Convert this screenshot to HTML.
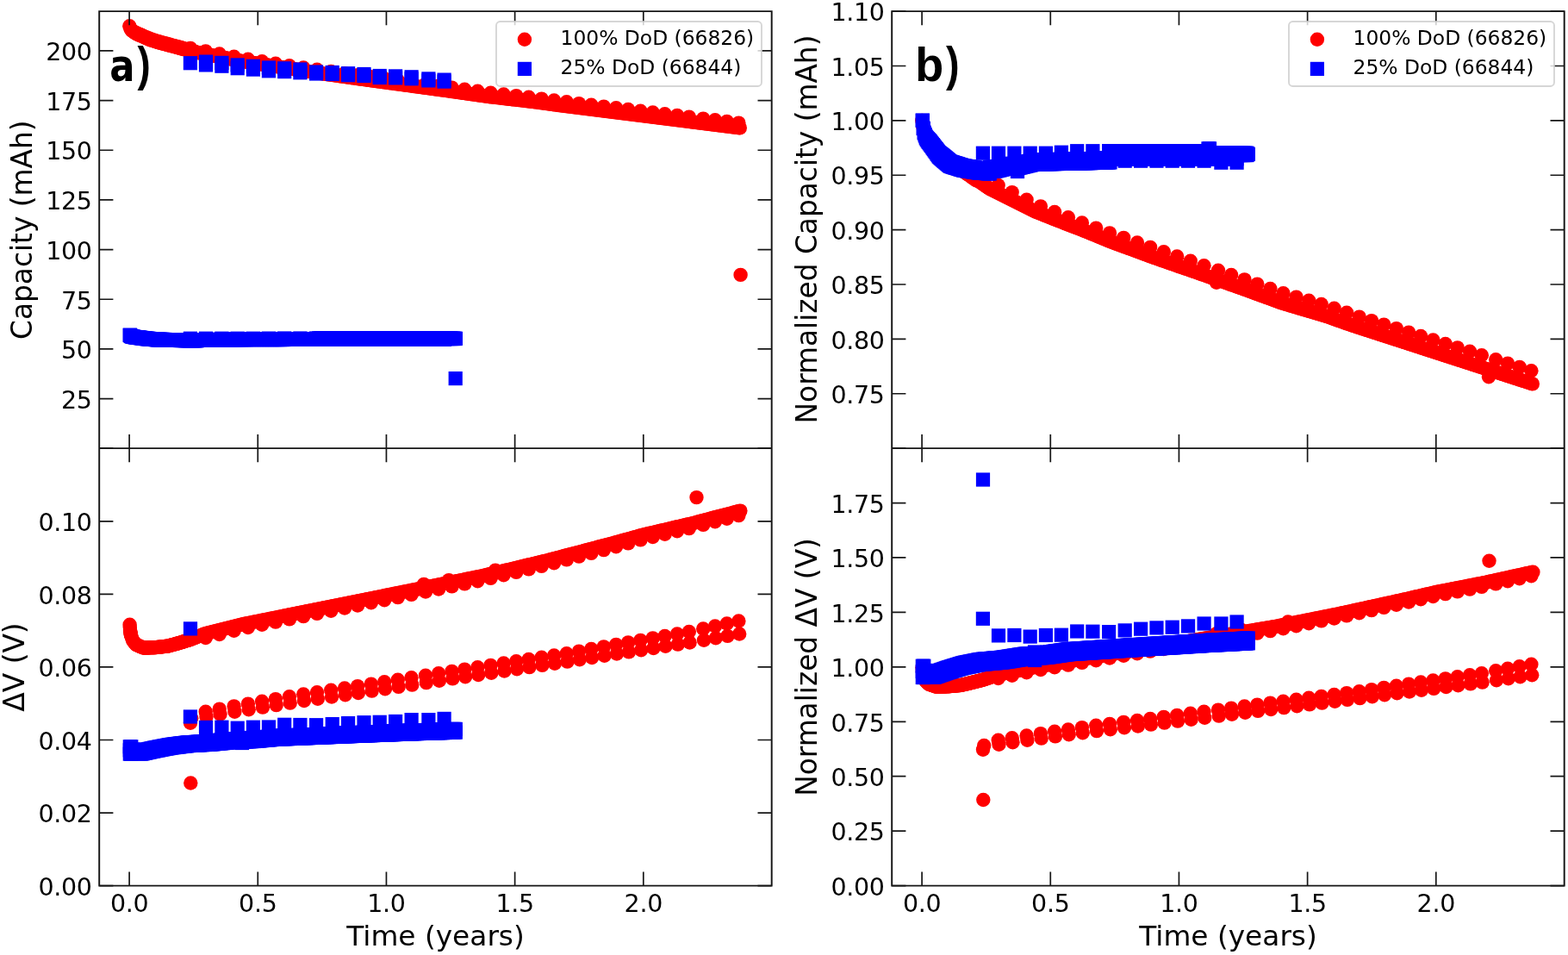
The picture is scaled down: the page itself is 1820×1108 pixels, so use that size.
<!DOCTYPE html>
<html lang="en"><head><meta charset="utf-8"><title>Capacity and voltage hysteresis vs time</title>
<style>
html,body{margin:0;padding:0;background:#fff;}
body{width:1820px;height:1108px;overflow:hidden;}
svg{display:block;filter:blur(0.5px);}
</style></head><body>
<svg width="1820" height="1108" viewBox="0 0 1820 1108" role="img" aria-label="Capacity and voltage hysteresis versus time for 100% and 25% depth-of-discharge cells">
<rect width="1820" height="1108" fill="#fff"/>
<defs>
<clipPath id="ct0"><rect x="115.2" y="13.1" width="780.5" height="507.0"/></clipPath>
<clipPath id="cb0"><rect x="115.2" y="520.1" width="780.5" height="507.4999999999999"/></clipPath>
<clipPath id="ct1"><rect x="1035.2" y="13.1" width="780.5" height="507.0"/></clipPath>
<clipPath id="cb1"><rect x="1035.2" y="520.1" width="780.5" height="507.4999999999999"/></clipPath>
</defs>
<g clip-path="url(#ct0)">
<g fill="#ff0000"><circle cx="150.3" cy="30.3" r="8.20"/><circle cx="151.3" cy="32.9" r="8.20"/><circle cx="152.3" cy="34.6" r="8.20"/><circle cx="153.3" cy="35.7" r="8.20"/><circle cx="154.3" cy="36.5" r="8.20"/><circle cx="155.3" cy="37.2" r="8.20"/><circle cx="156.3" cy="37.2" r="8.20"/><circle cx="157.3" cy="38.8" r="8.20"/><circle cx="158.3" cy="38.2" r="8.20"/><circle cx="159.3" cy="39.7" r="8.20"/><circle cx="160.3" cy="39.1" r="8.20"/><circle cx="161.3" cy="40.6" r="8.20"/><circle cx="162.3" cy="40.0" r="8.20"/><circle cx="163.3" cy="41.5" r="8.20"/><circle cx="164.3" cy="40.8" r="8.20"/><circle cx="165.3" cy="42.3" r="8.20"/><circle cx="166.3" cy="41.7" r="8.20"/><circle cx="167.3" cy="43.2" r="8.20"/><circle cx="168.3" cy="42.6" r="8.20"/><circle cx="169.3" cy="44.1" r="8.20"/><circle cx="170.3" cy="43.5" r="8.20"/><circle cx="171.3" cy="45.0" r="8.20"/><circle cx="172.3" cy="44.3" r="8.20"/><circle cx="173.3" cy="45.9" r="8.20"/><circle cx="174.3" cy="45.2" r="8.20"/><circle cx="175.3" cy="46.6" r="8.20"/><circle cx="176.3" cy="45.8" r="8.20"/><circle cx="177.3" cy="47.2" r="8.20"/><circle cx="178.3" cy="46.4" r="8.20"/><circle cx="179.3" cy="47.8" r="8.20"/><circle cx="180.3" cy="47.1" r="8.20"/><circle cx="181.3" cy="48.5" r="8.20"/><circle cx="182.3" cy="47.7" r="8.20"/><circle cx="183.3" cy="49.1" r="8.20"/><circle cx="184.3" cy="48.3" r="8.20"/><circle cx="185.3" cy="49.7" r="8.20"/><circle cx="186.3" cy="48.9" r="8.20"/><circle cx="187.3" cy="50.3" r="8.20"/><circle cx="188.3" cy="49.4" r="8.20"/><circle cx="189.3" cy="50.8" r="8.20"/><circle cx="190.3" cy="50.0" r="8.20"/><circle cx="191.3" cy="51.3" r="8.20"/><circle cx="192.3" cy="50.5" r="8.20"/><circle cx="193.3" cy="51.8" r="8.20"/><circle cx="194.3" cy="51.0" r="8.20"/><circle cx="195.3" cy="52.4" r="8.20"/><circle cx="196.3" cy="51.5" r="8.20"/><circle cx="197.3" cy="52.9" r="8.20"/><circle cx="198.3" cy="52.1" r="8.20"/><circle cx="199.3" cy="53.4" r="8.20"/><circle cx="200.3" cy="52.6" r="8.20"/><circle cx="201.3" cy="53.9" r="8.20"/><circle cx="202.3" cy="53.1" r="8.20"/><circle cx="203.3" cy="54.5" r="8.20"/><circle cx="204.3" cy="53.7" r="8.20"/><circle cx="205.3" cy="55.0" r="8.20"/><circle cx="206.3" cy="54.2" r="8.20"/><circle cx="207.3" cy="55.5" r="8.20"/><circle cx="208.3" cy="54.7" r="8.20"/><circle cx="209.3" cy="56.1" r="8.20"/><circle cx="210.3" cy="55.3" r="8.20"/><circle cx="211.3" cy="56.7" r="8.20"/><circle cx="212.3" cy="55.9" r="8.20"/><circle cx="213.3" cy="57.2" r="8.20"/><circle cx="214.3" cy="56.4" r="8.20"/><circle cx="215.3" cy="57.2" r="8.20"/><circle cx="216.3" cy="57.5" r="8.20"/><circle cx="217.3" cy="57.8" r="8.20"/><circle cx="218.3" cy="58.1" r="8.20"/><circle cx="219.3" cy="58.4" r="8.20"/><circle cx="220.3" cy="58.6" r="8.20"/><circle cx="221.3" cy="58.9" r="8.20"/><circle cx="222.3" cy="59.2" r="8.20"/><circle cx="223.3" cy="59.4" r="8.20"/><circle cx="224.3" cy="59.7" r="8.20"/><circle cx="225.3" cy="60.0" r="8.20"/><circle cx="226.3" cy="60.2" r="8.20"/><circle cx="227.3" cy="60.5" r="8.20"/><circle cx="228.3" cy="60.8" r="8.20"/><circle cx="229.3" cy="61.0" r="8.20"/><circle cx="230.0" cy="61.1" r="8.20"/><circle cx="232.0" cy="61.5" r="8.20"/><circle cx="234.0" cy="61.9" r="8.20"/><circle cx="236.0" cy="62.3" r="8.20"/><circle cx="238.0" cy="62.7" r="8.20"/><circle cx="240.0" cy="63.0" r="8.20"/><circle cx="242.0" cy="63.4" r="8.20"/><circle cx="244.0" cy="63.8" r="8.20"/><circle cx="246.0" cy="64.2" r="8.20"/><circle cx="248.0" cy="64.6" r="8.20"/><circle cx="250.0" cy="65.0" r="8.20"/><circle cx="252.0" cy="65.4" r="8.20"/><circle cx="254.0" cy="65.8" r="8.20"/><circle cx="256.0" cy="66.1" r="8.20"/><circle cx="258.0" cy="66.5" r="8.20"/><circle cx="260.0" cy="66.9" r="8.20"/><circle cx="262.0" cy="67.3" r="8.20"/><circle cx="264.0" cy="67.7" r="8.20"/><circle cx="266.0" cy="68.1" r="8.20"/><circle cx="268.0" cy="68.5" r="8.20"/><circle cx="270.0" cy="68.9" r="8.20"/><circle cx="272.0" cy="69.2" r="8.20"/><circle cx="274.0" cy="69.6" r="8.20"/><circle cx="276.0" cy="70.0" r="8.20"/><circle cx="278.0" cy="70.4" r="8.20"/><circle cx="280.0" cy="70.8" r="8.20"/><circle cx="282.0" cy="71.2" r="8.20"/><circle cx="284.0" cy="71.5" r="8.20"/><circle cx="286.0" cy="71.8" r="8.20"/><circle cx="288.0" cy="72.1" r="8.20"/><circle cx="290.0" cy="72.4" r="8.20"/><circle cx="292.0" cy="72.7" r="8.20"/><circle cx="294.0" cy="73.0" r="8.20"/><circle cx="296.0" cy="73.3" r="8.20"/><circle cx="298.0" cy="73.6" r="8.20"/><circle cx="300.0" cy="74.0" r="8.20"/><circle cx="302.0" cy="74.3" r="8.20"/><circle cx="304.0" cy="74.6" r="8.20"/><circle cx="306.0" cy="74.9" r="8.20"/><circle cx="308.0" cy="75.2" r="8.20"/><circle cx="310.0" cy="75.5" r="8.20"/><circle cx="312.0" cy="75.8" r="8.20"/><circle cx="314.0" cy="76.1" r="8.20"/><circle cx="316.0" cy="76.4" r="8.20"/><circle cx="318.0" cy="76.7" r="8.20"/><circle cx="320.0" cy="77.0" r="8.20"/><circle cx="322.0" cy="77.3" r="8.20"/><circle cx="324.0" cy="77.6" r="8.20"/><circle cx="326.0" cy="77.9" r="8.20"/><circle cx="328.0" cy="78.2" r="8.20"/><circle cx="330.0" cy="78.5" r="8.20"/><circle cx="332.0" cy="78.8" r="8.20"/><circle cx="334.0" cy="79.1" r="8.20"/><circle cx="336.0" cy="79.4" r="8.20"/><circle cx="338.0" cy="79.7" r="8.20"/><circle cx="340.0" cy="80.0" r="8.20"/><circle cx="342.0" cy="80.3" r="8.20"/><circle cx="344.0" cy="80.6" r="8.20"/><circle cx="346.0" cy="81.0" r="8.20"/><circle cx="348.0" cy="81.3" r="8.20"/><circle cx="350.0" cy="81.6" r="8.20"/><circle cx="352.0" cy="81.9" r="8.20"/><circle cx="354.0" cy="82.2" r="8.20"/><circle cx="356.0" cy="82.5" r="8.20"/><circle cx="358.0" cy="82.9" r="8.20"/><circle cx="360.0" cy="83.2" r="8.20"/><circle cx="362.0" cy="83.5" r="8.20"/><circle cx="364.0" cy="83.8" r="8.20"/><circle cx="366.0" cy="84.1" r="8.20"/><circle cx="368.0" cy="84.5" r="8.20"/><circle cx="370.0" cy="84.8" r="8.20"/><circle cx="372.0" cy="85.0" r="8.20"/><circle cx="374.0" cy="85.3" r="8.20"/><circle cx="376.0" cy="85.6" r="8.20"/><circle cx="378.0" cy="85.9" r="8.20"/><circle cx="380.0" cy="86.2" r="8.20"/><circle cx="382.0" cy="86.5" r="8.20"/><circle cx="384.0" cy="86.7" r="8.20"/><circle cx="386.0" cy="87.0" r="8.20"/><circle cx="388.0" cy="87.3" r="8.20"/><circle cx="390.0" cy="87.6" r="8.20"/><circle cx="392.0" cy="87.9" r="8.20"/><circle cx="394.0" cy="88.2" r="8.20"/><circle cx="396.0" cy="88.5" r="8.20"/><circle cx="398.0" cy="88.7" r="8.20"/><circle cx="400.0" cy="89.0" r="8.20"/><circle cx="402.0" cy="89.3" r="8.20"/><circle cx="404.0" cy="89.6" r="8.20"/><circle cx="406.0" cy="89.9" r="8.20"/><circle cx="408.0" cy="90.2" r="8.20"/><circle cx="410.0" cy="90.4" r="8.20"/><circle cx="412.0" cy="90.7" r="8.20"/><circle cx="414.0" cy="91.0" r="8.20"/><circle cx="416.0" cy="91.3" r="8.20"/><circle cx="418.0" cy="91.6" r="8.20"/><circle cx="420.0" cy="91.9" r="8.20"/><circle cx="422.0" cy="92.1" r="8.20"/><circle cx="424.0" cy="92.4" r="8.20"/><circle cx="426.0" cy="92.7" r="8.20"/><circle cx="428.0" cy="92.9" r="8.20"/><circle cx="430.0" cy="93.2" r="8.20"/><circle cx="432.0" cy="93.5" r="8.20"/><circle cx="434.0" cy="93.7" r="8.20"/><circle cx="436.0" cy="94.0" r="8.20"/><circle cx="438.0" cy="94.3" r="8.20"/><circle cx="440.0" cy="94.6" r="8.20"/><circle cx="442.0" cy="94.8" r="8.20"/><circle cx="444.0" cy="95.1" r="8.20"/><circle cx="446.0" cy="95.4" r="8.20"/><circle cx="448.0" cy="95.6" r="8.20"/><circle cx="450.0" cy="95.9" r="8.20"/><circle cx="452.0" cy="96.2" r="8.20"/><circle cx="454.0" cy="96.4" r="8.20"/><circle cx="456.0" cy="96.7" r="8.20"/><circle cx="458.0" cy="97.0" r="8.20"/><circle cx="460.0" cy="97.3" r="8.20"/><circle cx="462.0" cy="97.5" r="8.20"/><circle cx="464.0" cy="97.8" r="8.20"/><circle cx="466.0" cy="98.1" r="8.20"/><circle cx="468.0" cy="98.3" r="8.20"/><circle cx="470.0" cy="98.6" r="8.20"/><circle cx="472.0" cy="98.9" r="8.20"/><circle cx="474.0" cy="99.1" r="8.20"/><circle cx="476.0" cy="99.4" r="8.20"/><circle cx="478.0" cy="99.7" r="8.20"/><circle cx="480.0" cy="100.0" r="8.20"/><circle cx="482.0" cy="100.2" r="8.20"/><circle cx="484.0" cy="100.5" r="8.20"/><circle cx="486.0" cy="100.8" r="8.20"/><circle cx="488.0" cy="101.0" r="8.20"/><circle cx="490.0" cy="101.3" r="8.20"/><circle cx="492.0" cy="101.6" r="8.20"/><circle cx="494.0" cy="101.9" r="8.20"/><circle cx="496.0" cy="102.1" r="8.20"/><circle cx="498.0" cy="102.4" r="8.20"/><circle cx="500.0" cy="102.7" r="8.20"/><circle cx="502.0" cy="102.9" r="8.20"/><circle cx="504.0" cy="103.2" r="8.20"/><circle cx="506.0" cy="103.5" r="8.20"/><circle cx="508.0" cy="103.8" r="8.20"/><circle cx="510.0" cy="104.0" r="8.20"/><circle cx="512.0" cy="104.3" r="8.20"/><circle cx="514.0" cy="104.6" r="8.20"/><circle cx="516.0" cy="104.8" r="8.20"/><circle cx="518.0" cy="105.1" r="8.20"/><circle cx="520.0" cy="105.4" r="8.20"/><circle cx="522.0" cy="105.7" r="8.20"/><circle cx="524.0" cy="106.0" r="8.20"/><circle cx="526.0" cy="106.2" r="8.20"/><circle cx="528.0" cy="106.5" r="8.20"/><circle cx="530.0" cy="106.8" r="8.20"/><circle cx="532.0" cy="107.1" r="8.20"/><circle cx="534.0" cy="107.4" r="8.20"/><circle cx="536.0" cy="107.7" r="8.20"/><circle cx="538.0" cy="107.9" r="8.20"/><circle cx="540.0" cy="108.2" r="8.20"/><circle cx="542.0" cy="108.5" r="8.20"/><circle cx="544.0" cy="108.8" r="8.20"/><circle cx="546.0" cy="109.1" r="8.20"/><circle cx="548.0" cy="109.4" r="8.20"/><circle cx="550.0" cy="109.6" r="8.20"/><circle cx="552.0" cy="109.9" r="8.20"/><circle cx="554.0" cy="110.2" r="8.20"/><circle cx="556.0" cy="110.5" r="8.20"/><circle cx="558.0" cy="110.8" r="8.20"/><circle cx="560.0" cy="111.1" r="8.20"/><circle cx="562.0" cy="111.3" r="8.20"/><circle cx="564.0" cy="111.6" r="8.20"/><circle cx="566.0" cy="111.9" r="8.20"/><circle cx="568.0" cy="112.2" r="8.20"/><circle cx="570.0" cy="112.4" r="8.20"/><circle cx="572.0" cy="112.6" r="8.20"/><circle cx="574.0" cy="112.9" r="8.20"/><circle cx="576.0" cy="113.1" r="8.20"/><circle cx="578.0" cy="113.3" r="8.20"/><circle cx="580.0" cy="113.5" r="8.20"/><circle cx="582.0" cy="113.8" r="8.20"/><circle cx="584.0" cy="114.0" r="8.20"/><circle cx="586.0" cy="114.2" r="8.20"/><circle cx="588.0" cy="114.5" r="8.20"/><circle cx="590.0" cy="114.7" r="8.20"/><circle cx="592.0" cy="114.9" r="8.20"/><circle cx="594.0" cy="115.2" r="8.20"/><circle cx="596.0" cy="115.4" r="8.20"/><circle cx="598.0" cy="115.6" r="8.20"/><circle cx="600.0" cy="115.8" r="8.20"/><circle cx="602.0" cy="116.1" r="8.20"/><circle cx="604.0" cy="116.3" r="8.20"/><circle cx="606.0" cy="116.5" r="8.20"/><circle cx="608.0" cy="116.8" r="8.20"/><circle cx="610.0" cy="117.0" r="8.20"/><circle cx="612.0" cy="117.2" r="8.20"/><circle cx="614.0" cy="117.5" r="8.20"/><circle cx="616.0" cy="117.7" r="8.20"/><circle cx="618.0" cy="117.9" r="8.20"/><circle cx="620.0" cy="118.2" r="8.20"/><circle cx="622.0" cy="118.4" r="8.20"/><circle cx="624.0" cy="118.7" r="8.20"/><circle cx="626.0" cy="119.0" r="8.20"/><circle cx="628.0" cy="119.3" r="8.20"/><circle cx="630.0" cy="119.5" r="8.20"/><circle cx="632.0" cy="119.8" r="8.20"/><circle cx="634.0" cy="120.1" r="8.20"/><circle cx="636.0" cy="120.3" r="8.20"/><circle cx="638.0" cy="120.6" r="8.20"/><circle cx="640.0" cy="120.9" r="8.20"/><circle cx="642.0" cy="121.2" r="8.20"/><circle cx="644.0" cy="121.4" r="8.20"/><circle cx="646.0" cy="121.7" r="8.20"/><circle cx="648.0" cy="122.0" r="8.20"/><circle cx="650.0" cy="122.2" r="8.20"/><circle cx="652.0" cy="122.5" r="8.20"/><circle cx="654.0" cy="122.7" r="8.20"/><circle cx="656.0" cy="123.0" r="8.20"/><circle cx="658.0" cy="123.2" r="8.20"/><circle cx="660.0" cy="123.5" r="8.20"/><circle cx="662.0" cy="123.7" r="8.20"/><circle cx="664.0" cy="124.0" r="8.20"/><circle cx="666.0" cy="124.2" r="8.20"/><circle cx="668.0" cy="124.5" r="8.20"/><circle cx="670.0" cy="124.7" r="8.20"/><circle cx="672.0" cy="125.0" r="8.20"/><circle cx="674.0" cy="125.2" r="8.20"/><circle cx="676.0" cy="125.5" r="8.20"/><circle cx="678.0" cy="125.8" r="8.20"/><circle cx="680.0" cy="126.0" r="8.20"/><circle cx="682.0" cy="126.3" r="8.20"/><circle cx="684.0" cy="126.5" r="8.20"/><circle cx="686.0" cy="126.8" r="8.20"/><circle cx="688.0" cy="127.0" r="8.20"/><circle cx="690.0" cy="127.3" r="8.20"/><circle cx="692.0" cy="127.5" r="8.20"/><circle cx="694.0" cy="127.8" r="8.20"/><circle cx="696.0" cy="128.0" r="8.20"/><circle cx="698.0" cy="128.3" r="8.20"/><circle cx="700.0" cy="128.5" r="8.20"/><circle cx="702.0" cy="128.8" r="8.20"/><circle cx="704.0" cy="129.0" r="8.20"/><circle cx="706.0" cy="129.3" r="8.20"/><circle cx="708.0" cy="129.5" r="8.20"/><circle cx="710.0" cy="129.8" r="8.20"/><circle cx="712.0" cy="130.0" r="8.20"/><circle cx="714.0" cy="130.3" r="8.20"/><circle cx="716.0" cy="130.5" r="8.20"/><circle cx="718.0" cy="130.8" r="8.20"/><circle cx="720.0" cy="131.0" r="8.20"/><circle cx="722.0" cy="131.3" r="8.20"/><circle cx="724.0" cy="131.5" r="8.20"/><circle cx="726.0" cy="131.8" r="8.20"/><circle cx="728.0" cy="132.0" r="8.20"/><circle cx="730.0" cy="132.3" r="8.20"/><circle cx="732.0" cy="132.5" r="8.20"/><circle cx="734.0" cy="132.8" r="8.20"/><circle cx="736.0" cy="133.0" r="8.20"/><circle cx="738.0" cy="133.3" r="8.20"/><circle cx="740.0" cy="133.5" r="8.20"/><circle cx="742.0" cy="133.8" r="8.20"/><circle cx="744.0" cy="134.0" r="8.20"/><circle cx="746.0" cy="134.3" r="8.20"/><circle cx="748.0" cy="134.5" r="8.20"/><circle cx="750.0" cy="134.8" r="8.20"/><circle cx="752.0" cy="135.0" r="8.20"/><circle cx="754.0" cy="135.3" r="8.20"/><circle cx="756.0" cy="135.5" r="8.20"/><circle cx="758.0" cy="135.8" r="8.20"/><circle cx="760.0" cy="136.0" r="8.20"/><circle cx="762.0" cy="136.3" r="8.20"/><circle cx="764.0" cy="136.5" r="8.20"/><circle cx="766.0" cy="136.8" r="8.20"/><circle cx="768.0" cy="137.0" r="8.20"/><circle cx="770.0" cy="137.3" r="8.20"/><circle cx="772.0" cy="137.5" r="8.20"/><circle cx="774.0" cy="137.8" r="8.20"/><circle cx="776.0" cy="138.0" r="8.20"/><circle cx="778.0" cy="138.3" r="8.20"/><circle cx="780.0" cy="138.5" r="8.20"/><circle cx="782.0" cy="138.8" r="8.20"/><circle cx="784.0" cy="139.0" r="8.20"/><circle cx="786.0" cy="139.3" r="8.20"/><circle cx="788.0" cy="139.5" r="8.20"/><circle cx="790.0" cy="139.8" r="8.20"/><circle cx="792.0" cy="140.0" r="8.20"/><circle cx="794.0" cy="140.3" r="8.20"/><circle cx="796.0" cy="140.5" r="8.20"/><circle cx="798.0" cy="140.8" r="8.20"/><circle cx="800.0" cy="141.0" r="8.20"/><circle cx="802.0" cy="141.3" r="8.20"/><circle cx="804.0" cy="141.6" r="8.20"/><circle cx="806.0" cy="141.8" r="8.20"/><circle cx="808.0" cy="142.1" r="8.20"/><circle cx="810.0" cy="142.3" r="8.20"/><circle cx="812.0" cy="142.6" r="8.20"/><circle cx="814.0" cy="142.8" r="8.20"/><circle cx="816.0" cy="143.1" r="8.20"/><circle cx="818.0" cy="143.3" r="8.20"/><circle cx="820.0" cy="143.6" r="8.20"/><circle cx="822.0" cy="143.8" r="8.20"/><circle cx="824.0" cy="144.1" r="8.20"/><circle cx="826.0" cy="144.3" r="8.20"/><circle cx="828.0" cy="144.6" r="8.20"/><circle cx="830.0" cy="144.8" r="8.20"/><circle cx="832.0" cy="145.1" r="8.20"/><circle cx="834.0" cy="145.3" r="8.20"/><circle cx="836.0" cy="145.6" r="8.20"/><circle cx="838.0" cy="145.8" r="8.20"/><circle cx="840.0" cy="146.1" r="8.20"/><circle cx="842.0" cy="146.3" r="8.20"/><circle cx="844.0" cy="146.6" r="8.20"/><circle cx="846.0" cy="146.8" r="8.20"/><circle cx="848.0" cy="147.1" r="8.20"/><circle cx="850.0" cy="147.3" r="8.20"/><circle cx="852.0" cy="147.6" r="8.20"/><circle cx="854.0" cy="147.8" r="8.20"/><circle cx="856.0" cy="148.1" r="8.20"/><circle cx="858.0" cy="148.3" r="8.20"/><circle cx="858.8" cy="148.4" r="8.20"/><circle cx="221.0" cy="55.9" r="8.20"/><circle cx="238.7" cy="59.4" r="8.20"/><circle cx="254.7" cy="62.5" r="8.20"/><circle cx="271.6" cy="65.8" r="8.20"/><circle cx="287.9" cy="68.8" r="8.20"/><circle cx="304.1" cy="71.3" r="8.20"/><circle cx="319.9" cy="73.8" r="8.20"/><circle cx="335.9" cy="76.2" r="8.20"/><circle cx="352.2" cy="78.5" r="8.20"/><circle cx="368.0" cy="80.8" r="8.20"/><circle cx="384.2" cy="82.9" r="8.20"/><circle cx="400.0" cy="85.1" r="8.20"/><circle cx="415.1" cy="87.1" r="8.20"/><circle cx="430.8" cy="89.2" r="8.20"/><circle cx="446.2" cy="91.3" r="8.20"/><circle cx="461.8" cy="93.3" r="8.20"/><circle cx="477.5" cy="95.4" r="8.20"/><circle cx="494.0" cy="97.6" r="8.20"/><circle cx="509.1" cy="99.6" r="8.20"/><circle cx="524.5" cy="101.6" r="8.20"/><circle cx="539.3" cy="103.7" r="8.20"/><circle cx="554.4" cy="105.8" r="8.20"/><circle cx="569.5" cy="107.8" r="8.20"/><circle cx="584.6" cy="109.5" r="8.20"/><circle cx="599.2" cy="111.1" r="8.20"/><circle cx="613.7" cy="112.7" r="8.20"/><circle cx="628.6" cy="114.6" r="8.20"/><circle cx="643.1" cy="116.5" r="8.20"/><circle cx="657.7" cy="118.3" r="8.20"/><circle cx="672.0" cy="120.1" r="8.20"/><circle cx="686.3" cy="121.8" r="8.20"/><circle cx="700.8" cy="123.6" r="8.20"/><circle cx="715.1" cy="125.3" r="8.20"/><circle cx="729.1" cy="127.0" r="8.20"/><circle cx="743.4" cy="128.7" r="8.20"/><circle cx="757.7" cy="130.5" r="8.20"/><circle cx="771.7" cy="132.2" r="8.20"/><circle cx="786.0" cy="133.9" r="8.20"/><circle cx="799.8" cy="135.6" r="8.20"/><circle cx="816.2" cy="137.6" r="8.20"/><circle cx="830.0" cy="139.2" r="8.20"/><circle cx="843.7" cy="140.9" r="8.20"/><circle cx="857.4" cy="142.6" r="8.20"/><circle cx="859.6" cy="318.9" r="8.20"/></g>
<g fill="#0000ff"><rect x="142.7" y="380.7" width="16.2" height="16.2"/><rect x="142.7" y="380.7" width="16.2" height="16.2"/><rect x="143.7" y="381.6" width="16.2" height="16.2"/><rect x="143.7" y="381.7" width="16.2" height="16.2"/><rect x="144.7" y="382.1" width="16.2" height="16.2"/><rect x="144.7" y="382.2" width="16.2" height="16.2"/><rect x="145.7" y="382.4" width="16.2" height="16.2"/><rect x="145.7" y="382.5" width="16.2" height="16.2"/><rect x="146.7" y="382.6" width="16.2" height="16.2"/><rect x="146.7" y="382.8" width="16.2" height="16.2"/><rect x="147.7" y="382.8" width="16.2" height="16.2"/><rect x="147.7" y="383.0" width="16.2" height="16.2"/><rect x="148.7" y="382.9" width="16.2" height="16.2"/><rect x="148.7" y="383.2" width="16.2" height="16.2"/><rect x="149.7" y="383.0" width="16.2" height="16.2"/><rect x="149.7" y="383.3" width="16.2" height="16.2"/><rect x="150.7" y="383.1" width="16.2" height="16.2"/><rect x="150.7" y="383.4" width="16.2" height="16.2"/><rect x="151.7" y="383.2" width="16.2" height="16.2"/><rect x="151.7" y="383.6" width="16.2" height="16.2"/><rect x="152.7" y="383.4" width="16.2" height="16.2"/><rect x="152.7" y="383.7" width="16.2" height="16.2"/><rect x="153.7" y="383.5" width="16.2" height="16.2"/><rect x="153.7" y="383.9" width="16.2" height="16.2"/><rect x="154.7" y="383.6" width="16.2" height="16.2"/><rect x="154.7" y="384.0" width="16.2" height="16.2"/><rect x="155.7" y="383.8" width="16.2" height="16.2"/><rect x="155.7" y="384.2" width="16.2" height="16.2"/><rect x="156.7" y="383.9" width="16.2" height="16.2"/><rect x="156.7" y="384.3" width="16.2" height="16.2"/><rect x="157.7" y="384.0" width="16.2" height="16.2"/><rect x="157.7" y="384.4" width="16.2" height="16.2"/><rect x="158.7" y="384.2" width="16.2" height="16.2"/><rect x="158.7" y="384.6" width="16.2" height="16.2"/><rect x="159.7" y="384.3" width="16.2" height="16.2"/><rect x="159.7" y="384.7" width="16.2" height="16.2"/><rect x="160.7" y="384.4" width="16.2" height="16.2"/><rect x="160.7" y="384.9" width="16.2" height="16.2"/><rect x="161.7" y="384.6" width="16.2" height="16.2"/><rect x="161.7" y="385.0" width="16.2" height="16.2"/><rect x="162.7" y="384.6" width="16.2" height="16.2"/><rect x="162.7" y="385.1" width="16.2" height="16.2"/><rect x="163.7" y="384.7" width="16.2" height="16.2"/><rect x="163.7" y="385.2" width="16.2" height="16.2"/><rect x="164.7" y="384.8" width="16.2" height="16.2"/><rect x="164.7" y="385.3" width="16.2" height="16.2"/><rect x="165.7" y="384.9" width="16.2" height="16.2"/><rect x="165.7" y="385.4" width="16.2" height="16.2"/><rect x="166.7" y="385.0" width="16.2" height="16.2"/><rect x="166.7" y="385.5" width="16.2" height="16.2"/><rect x="167.7" y="385.0" width="16.2" height="16.2"/><rect x="167.7" y="385.6" width="16.2" height="16.2"/><rect x="168.7" y="385.1" width="16.2" height="16.2"/><rect x="168.7" y="385.7" width="16.2" height="16.2"/><rect x="169.7" y="385.2" width="16.2" height="16.2"/><rect x="169.7" y="385.8" width="16.2" height="16.2"/><rect x="170.7" y="385.3" width="16.2" height="16.2"/><rect x="170.7" y="385.8" width="16.2" height="16.2"/><rect x="171.7" y="385.4" width="16.2" height="16.2"/><rect x="171.7" y="385.9" width="16.2" height="16.2"/><rect x="172.7" y="385.5" width="16.2" height="16.2"/><rect x="172.7" y="386.0" width="16.2" height="16.2"/><rect x="173.7" y="385.6" width="16.2" height="16.2"/><rect x="173.7" y="386.1" width="16.2" height="16.2"/><rect x="174.7" y="385.6" width="16.2" height="16.2"/><rect x="174.7" y="386.2" width="16.2" height="16.2"/><rect x="175.7" y="385.7" width="16.2" height="16.2"/><rect x="175.7" y="386.2" width="16.2" height="16.2"/><rect x="176.7" y="385.7" width="16.2" height="16.2"/><rect x="176.7" y="386.2" width="16.2" height="16.2"/><rect x="177.7" y="385.7" width="16.2" height="16.2"/><rect x="177.7" y="386.3" width="16.2" height="16.2"/><rect x="178.7" y="385.8" width="16.2" height="16.2"/><rect x="178.7" y="386.3" width="16.2" height="16.2"/><rect x="179.7" y="385.8" width="16.2" height="16.2"/><rect x="179.7" y="386.3" width="16.2" height="16.2"/><rect x="180.7" y="385.8" width="16.2" height="16.2"/><rect x="180.7" y="386.4" width="16.2" height="16.2"/><rect x="181.7" y="385.9" width="16.2" height="16.2"/><rect x="181.7" y="386.4" width="16.2" height="16.2"/><rect x="182.7" y="385.9" width="16.2" height="16.2"/><rect x="182.7" y="386.4" width="16.2" height="16.2"/><rect x="183.7" y="385.9" width="16.2" height="16.2"/><rect x="183.7" y="386.5" width="16.2" height="16.2"/><rect x="184.7" y="386.0" width="16.2" height="16.2"/><rect x="184.7" y="386.5" width="16.2" height="16.2"/><rect x="185.7" y="386.0" width="16.2" height="16.2"/><rect x="185.7" y="386.5" width="16.2" height="16.2"/><rect x="186.7" y="386.0" width="16.2" height="16.2"/><rect x="186.7" y="386.6" width="16.2" height="16.2"/><rect x="187.7" y="386.1" width="16.2" height="16.2"/><rect x="187.7" y="386.6" width="16.2" height="16.2"/><rect x="188.7" y="386.1" width="16.2" height="16.2"/><rect x="188.7" y="386.6" width="16.2" height="16.2"/><rect x="189.7" y="386.1" width="16.2" height="16.2"/><rect x="189.7" y="386.7" width="16.2" height="16.2"/><rect x="190.7" y="386.2" width="16.2" height="16.2"/><rect x="190.7" y="386.7" width="16.2" height="16.2"/><rect x="191.7" y="386.2" width="16.2" height="16.2"/><rect x="191.7" y="386.7" width="16.2" height="16.2"/><rect x="192.7" y="386.2" width="16.2" height="16.2"/><rect x="192.7" y="386.7" width="16.2" height="16.2"/><rect x="193.7" y="386.2" width="16.2" height="16.2"/><rect x="193.7" y="386.7" width="16.2" height="16.2"/><rect x="194.7" y="386.2" width="16.2" height="16.2"/><rect x="194.7" y="386.8" width="16.2" height="16.2"/><rect x="195.7" y="386.2" width="16.2" height="16.2"/><rect x="195.7" y="386.8" width="16.2" height="16.2"/><rect x="196.7" y="386.3" width="16.2" height="16.2"/><rect x="196.7" y="386.8" width="16.2" height="16.2"/><rect x="197.7" y="386.3" width="16.2" height="16.2"/><rect x="197.7" y="386.8" width="16.2" height="16.2"/><rect x="198.7" y="386.3" width="16.2" height="16.2"/><rect x="198.7" y="386.8" width="16.2" height="16.2"/><rect x="199.7" y="386.3" width="16.2" height="16.2"/><rect x="199.7" y="386.8" width="16.2" height="16.2"/><rect x="200.7" y="386.3" width="16.2" height="16.2"/><rect x="200.7" y="386.9" width="16.2" height="16.2"/><rect x="201.7" y="386.3" width="16.2" height="16.2"/><rect x="201.7" y="386.9" width="16.2" height="16.2"/><rect x="202.7" y="386.4" width="16.2" height="16.2"/><rect x="202.7" y="386.9" width="16.2" height="16.2"/><rect x="203.7" y="386.4" width="16.2" height="16.2"/><rect x="203.7" y="386.9" width="16.2" height="16.2"/><rect x="204.7" y="386.4" width="16.2" height="16.2"/><rect x="204.7" y="386.9" width="16.2" height="16.2"/><rect x="205.7" y="386.4" width="16.2" height="16.2"/><rect x="205.7" y="386.9" width="16.2" height="16.2"/><rect x="206.7" y="386.4" width="16.2" height="16.2"/><rect x="206.7" y="387.0" width="16.2" height="16.2"/><rect x="207.7" y="386.4" width="16.2" height="16.2"/><rect x="207.7" y="387.0" width="16.2" height="16.2"/><rect x="208.7" y="386.4" width="16.2" height="16.2"/><rect x="208.7" y="387.0" width="16.2" height="16.2"/><rect x="209.7" y="386.5" width="16.2" height="16.2"/><rect x="209.7" y="387.0" width="16.2" height="16.2"/><rect x="210.7" y="386.5" width="16.2" height="16.2"/><rect x="210.7" y="387.0" width="16.2" height="16.2"/><rect x="211.7" y="386.5" width="16.2" height="16.2"/><rect x="211.7" y="387.0" width="16.2" height="16.2"/><rect x="212.7" y="386.5" width="16.2" height="16.2"/><rect x="212.7" y="387.0" width="16.2" height="16.2"/><rect x="213.7" y="386.5" width="16.2" height="16.2"/><rect x="213.7" y="387.0" width="16.2" height="16.2"/><rect x="214.7" y="386.5" width="16.2" height="16.2"/><rect x="214.7" y="387.0" width="16.2" height="16.2"/><rect x="215.7" y="386.5" width="16.2" height="16.2"/><rect x="215.7" y="387.0" width="16.2" height="16.2"/><rect x="216.7" y="386.5" width="16.2" height="16.2"/><rect x="216.7" y="387.1" width="16.2" height="16.2"/><rect x="217.7" y="386.5" width="16.2" height="16.2"/><rect x="217.7" y="387.1" width="16.2" height="16.2"/><rect x="218.7" y="386.5" width="16.2" height="16.2"/><rect x="218.7" y="387.1" width="16.2" height="16.2"/><rect x="219.7" y="386.5" width="16.2" height="16.2"/><rect x="219.7" y="387.1" width="16.2" height="16.2"/><rect x="220.7" y="386.5" width="16.2" height="16.2"/><rect x="220.7" y="387.1" width="16.2" height="16.2"/><rect x="220.9" y="386.8" width="16.2" height="16.2"/><rect x="220.9" y="386.3" width="16.2" height="16.2"/><rect x="222.4" y="386.8" width="16.2" height="16.2"/><rect x="222.4" y="386.3" width="16.2" height="16.2"/><rect x="223.9" y="386.8" width="16.2" height="16.2"/><rect x="223.9" y="386.3" width="16.2" height="16.2"/><rect x="225.4" y="386.8" width="16.2" height="16.2"/><rect x="225.4" y="386.3" width="16.2" height="16.2"/><rect x="226.9" y="386.8" width="16.2" height="16.2"/><rect x="226.9" y="386.3" width="16.2" height="16.2"/><rect x="228.4" y="386.8" width="16.2" height="16.2"/><rect x="228.4" y="386.3" width="16.2" height="16.2"/><rect x="229.9" y="386.7" width="16.2" height="16.2"/><rect x="229.9" y="386.2" width="16.2" height="16.2"/><rect x="231.4" y="386.7" width="16.2" height="16.2"/><rect x="231.4" y="386.2" width="16.2" height="16.2"/><rect x="232.9" y="386.7" width="16.2" height="16.2"/><rect x="232.9" y="386.1" width="16.2" height="16.2"/><rect x="234.4" y="386.6" width="16.2" height="16.2"/><rect x="234.4" y="386.1" width="16.2" height="16.2"/><rect x="235.9" y="386.6" width="16.2" height="16.2"/><rect x="235.9" y="386.1" width="16.2" height="16.2"/><rect x="237.4" y="386.5" width="16.2" height="16.2"/><rect x="237.4" y="386.0" width="16.2" height="16.2"/><rect x="238.9" y="386.5" width="16.2" height="16.2"/><rect x="238.9" y="386.0" width="16.2" height="16.2"/><rect x="240.4" y="386.5" width="16.2" height="16.2"/><rect x="240.4" y="385.9" width="16.2" height="16.2"/><rect x="241.9" y="386.4" width="16.2" height="16.2"/><rect x="241.9" y="385.9" width="16.2" height="16.2"/><rect x="243.4" y="386.4" width="16.2" height="16.2"/><rect x="243.4" y="385.9" width="16.2" height="16.2"/><rect x="244.9" y="386.4" width="16.2" height="16.2"/><rect x="244.9" y="385.9" width="16.2" height="16.2"/><rect x="246.4" y="386.4" width="16.2" height="16.2"/><rect x="246.4" y="385.9" width="16.2" height="16.2"/><rect x="247.9" y="386.4" width="16.2" height="16.2"/><rect x="247.9" y="385.9" width="16.2" height="16.2"/><rect x="249.4" y="386.4" width="16.2" height="16.2"/><rect x="249.4" y="385.9" width="16.2" height="16.2"/><rect x="250.9" y="386.4" width="16.2" height="16.2"/><rect x="250.9" y="385.9" width="16.2" height="16.2"/><rect x="252.4" y="386.4" width="16.2" height="16.2"/><rect x="252.4" y="385.9" width="16.2" height="16.2"/><rect x="253.9" y="386.4" width="16.2" height="16.2"/><rect x="253.9" y="385.9" width="16.2" height="16.2"/><rect x="255.4" y="386.4" width="16.2" height="16.2"/><rect x="255.4" y="385.9" width="16.2" height="16.2"/><rect x="256.9" y="386.3" width="16.2" height="16.2"/><rect x="256.9" y="385.8" width="16.2" height="16.2"/><rect x="258.4" y="386.3" width="16.2" height="16.2"/><rect x="258.4" y="385.8" width="16.2" height="16.2"/><rect x="259.9" y="386.3" width="16.2" height="16.2"/><rect x="259.9" y="385.8" width="16.2" height="16.2"/><rect x="261.4" y="386.2" width="16.2" height="16.2"/><rect x="261.4" y="385.7" width="16.2" height="16.2"/><rect x="262.9" y="386.2" width="16.2" height="16.2"/><rect x="262.9" y="385.7" width="16.2" height="16.2"/><rect x="264.4" y="386.2" width="16.2" height="16.2"/><rect x="264.4" y="385.6" width="16.2" height="16.2"/><rect x="265.9" y="386.1" width="16.2" height="16.2"/><rect x="265.9" y="385.6" width="16.2" height="16.2"/><rect x="267.4" y="386.1" width="16.2" height="16.2"/><rect x="267.4" y="385.6" width="16.2" height="16.2"/><rect x="268.9" y="386.0" width="16.2" height="16.2"/><rect x="268.9" y="385.5" width="16.2" height="16.2"/><rect x="270.4" y="386.0" width="16.2" height="16.2"/><rect x="270.4" y="385.5" width="16.2" height="16.2"/><rect x="271.9" y="386.0" width="16.2" height="16.2"/><rect x="271.9" y="385.4" width="16.2" height="16.2"/><rect x="273.4" y="386.0" width="16.2" height="16.2"/><rect x="273.4" y="385.4" width="16.2" height="16.2"/><rect x="274.9" y="386.0" width="16.2" height="16.2"/><rect x="274.9" y="385.4" width="16.2" height="16.2"/><rect x="276.4" y="386.0" width="16.2" height="16.2"/><rect x="276.4" y="385.4" width="16.2" height="16.2"/><rect x="277.9" y="386.0" width="16.2" height="16.2"/><rect x="277.9" y="385.4" width="16.2" height="16.2"/><rect x="279.4" y="385.9" width="16.2" height="16.2"/><rect x="279.4" y="385.4" width="16.2" height="16.2"/><rect x="280.9" y="385.9" width="16.2" height="16.2"/><rect x="280.9" y="385.4" width="16.2" height="16.2"/><rect x="282.4" y="385.9" width="16.2" height="16.2"/><rect x="282.4" y="385.4" width="16.2" height="16.2"/><rect x="283.9" y="385.9" width="16.2" height="16.2"/><rect x="283.9" y="385.4" width="16.2" height="16.2"/><rect x="285.4" y="385.9" width="16.2" height="16.2"/><rect x="285.4" y="385.4" width="16.2" height="16.2"/><rect x="286.9" y="385.9" width="16.2" height="16.2"/><rect x="286.9" y="385.4" width="16.2" height="16.2"/><rect x="288.4" y="385.9" width="16.2" height="16.2"/><rect x="288.4" y="385.4" width="16.2" height="16.2"/><rect x="289.9" y="385.9" width="16.2" height="16.2"/><rect x="289.9" y="385.4" width="16.2" height="16.2"/><rect x="291.4" y="385.9" width="16.2" height="16.2"/><rect x="291.4" y="385.4" width="16.2" height="16.2"/><rect x="292.9" y="385.9" width="16.2" height="16.2"/><rect x="292.9" y="385.4" width="16.2" height="16.2"/><rect x="294.4" y="385.9" width="16.2" height="16.2"/><rect x="294.4" y="385.4" width="16.2" height="16.2"/><rect x="295.9" y="385.9" width="16.2" height="16.2"/><rect x="295.9" y="385.4" width="16.2" height="16.2"/><rect x="297.4" y="385.9" width="16.2" height="16.2"/><rect x="297.4" y="385.4" width="16.2" height="16.2"/><rect x="298.9" y="385.9" width="16.2" height="16.2"/><rect x="298.9" y="385.4" width="16.2" height="16.2"/><rect x="300.4" y="385.9" width="16.2" height="16.2"/><rect x="300.4" y="385.4" width="16.2" height="16.2"/><rect x="301.9" y="385.9" width="16.2" height="16.2"/><rect x="301.9" y="385.4" width="16.2" height="16.2"/><rect x="303.4" y="385.9" width="16.2" height="16.2"/><rect x="303.4" y="385.4" width="16.2" height="16.2"/><rect x="304.9" y="385.9" width="16.2" height="16.2"/><rect x="304.9" y="385.4" width="16.2" height="16.2"/><rect x="306.4" y="385.9" width="16.2" height="16.2"/><rect x="306.4" y="385.4" width="16.2" height="16.2"/><rect x="307.9" y="385.9" width="16.2" height="16.2"/><rect x="307.9" y="385.4" width="16.2" height="16.2"/><rect x="309.4" y="385.9" width="16.2" height="16.2"/><rect x="309.4" y="385.4" width="16.2" height="16.2"/><rect x="310.9" y="385.9" width="16.2" height="16.2"/><rect x="310.9" y="385.4" width="16.2" height="16.2"/><rect x="312.4" y="385.9" width="16.2" height="16.2"/><rect x="312.4" y="385.4" width="16.2" height="16.2"/><rect x="313.9" y="385.9" width="16.2" height="16.2"/><rect x="313.9" y="385.4" width="16.2" height="16.2"/><rect x="315.4" y="385.9" width="16.2" height="16.2"/><rect x="315.4" y="385.3" width="16.2" height="16.2"/><rect x="316.9" y="385.9" width="16.2" height="16.2"/><rect x="316.9" y="385.3" width="16.2" height="16.2"/><rect x="318.4" y="385.9" width="16.2" height="16.2"/><rect x="318.4" y="385.3" width="16.2" height="16.2"/><rect x="319.9" y="385.9" width="16.2" height="16.2"/><rect x="319.9" y="385.3" width="16.2" height="16.2"/><rect x="321.4" y="385.9" width="16.2" height="16.2"/><rect x="321.4" y="385.3" width="16.2" height="16.2"/><rect x="322.9" y="385.8" width="16.2" height="16.2"/><rect x="322.9" y="385.3" width="16.2" height="16.2"/><rect x="324.4" y="385.8" width="16.2" height="16.2"/><rect x="324.4" y="385.3" width="16.2" height="16.2"/><rect x="325.9" y="385.8" width="16.2" height="16.2"/><rect x="325.9" y="385.3" width="16.2" height="16.2"/><rect x="327.4" y="385.8" width="16.2" height="16.2"/><rect x="327.4" y="385.3" width="16.2" height="16.2"/><rect x="328.9" y="385.8" width="16.2" height="16.2"/><rect x="328.9" y="385.3" width="16.2" height="16.2"/><rect x="330.4" y="385.8" width="16.2" height="16.2"/><rect x="330.4" y="385.3" width="16.2" height="16.2"/><rect x="331.9" y="385.8" width="16.2" height="16.2"/><rect x="331.9" y="385.3" width="16.2" height="16.2"/><rect x="333.4" y="385.8" width="16.2" height="16.2"/><rect x="333.4" y="385.3" width="16.2" height="16.2"/><rect x="334.9" y="385.8" width="16.2" height="16.2"/><rect x="334.9" y="385.3" width="16.2" height="16.2"/><rect x="336.4" y="385.8" width="16.2" height="16.2"/><rect x="336.4" y="385.3" width="16.2" height="16.2"/><rect x="337.9" y="385.8" width="16.2" height="16.2"/><rect x="337.9" y="385.3" width="16.2" height="16.2"/><rect x="339.4" y="385.8" width="16.2" height="16.2"/><rect x="339.4" y="385.3" width="16.2" height="16.2"/><rect x="340.9" y="385.8" width="16.2" height="16.2"/><rect x="340.9" y="385.3" width="16.2" height="16.2"/><rect x="342.4" y="385.8" width="16.2" height="16.2"/><rect x="342.4" y="385.3" width="16.2" height="16.2"/><rect x="343.9" y="385.8" width="16.2" height="16.2"/><rect x="343.9" y="385.3" width="16.2" height="16.2"/><rect x="345.4" y="385.8" width="16.2" height="16.2"/><rect x="345.4" y="385.3" width="16.2" height="16.2"/><rect x="346.9" y="385.8" width="16.2" height="16.2"/><rect x="346.9" y="385.3" width="16.2" height="16.2"/><rect x="348.4" y="385.8" width="16.2" height="16.2"/><rect x="348.4" y="385.3" width="16.2" height="16.2"/><rect x="349.9" y="385.8" width="16.2" height="16.2"/><rect x="349.9" y="385.3" width="16.2" height="16.2"/><rect x="351.4" y="385.8" width="16.2" height="16.2"/><rect x="351.4" y="385.2" width="16.2" height="16.2"/><rect x="352.9" y="385.8" width="16.2" height="16.2"/><rect x="352.9" y="385.2" width="16.2" height="16.2"/><rect x="354.4" y="385.8" width="16.2" height="16.2"/><rect x="354.4" y="385.2" width="16.2" height="16.2"/><rect x="355.9" y="385.8" width="16.2" height="16.2"/><rect x="355.9" y="385.2" width="16.2" height="16.2"/><rect x="357.4" y="385.7" width="16.2" height="16.2"/><rect x="357.4" y="385.2" width="16.2" height="16.2"/><rect x="358.9" y="385.7" width="16.2" height="16.2"/><rect x="358.9" y="385.2" width="16.2" height="16.2"/><rect x="360.4" y="385.7" width="16.2" height="16.2"/><rect x="360.4" y="385.2" width="16.2" height="16.2"/><rect x="361.9" y="384.4" width="16.2" height="16.2"/><rect x="361.9" y="384.9" width="16.2" height="16.2"/><rect x="361.9" y="385.3" width="16.2" height="16.2"/><rect x="363.4" y="384.4" width="16.2" height="16.2"/><rect x="363.4" y="384.9" width="16.2" height="16.2"/><rect x="363.4" y="385.3" width="16.2" height="16.2"/><rect x="364.9" y="384.4" width="16.2" height="16.2"/><rect x="364.9" y="384.9" width="16.2" height="16.2"/><rect x="364.9" y="385.3" width="16.2" height="16.2"/><rect x="366.4" y="384.4" width="16.2" height="16.2"/><rect x="366.4" y="384.9" width="16.2" height="16.2"/><rect x="366.4" y="385.3" width="16.2" height="16.2"/><rect x="367.9" y="384.4" width="16.2" height="16.2"/><rect x="367.9" y="384.9" width="16.2" height="16.2"/><rect x="367.9" y="385.3" width="16.2" height="16.2"/><rect x="369.4" y="384.4" width="16.2" height="16.2"/><rect x="369.4" y="384.9" width="16.2" height="16.2"/><rect x="369.4" y="385.3" width="16.2" height="16.2"/><rect x="370.9" y="384.4" width="16.2" height="16.2"/><rect x="370.9" y="384.9" width="16.2" height="16.2"/><rect x="370.9" y="385.3" width="16.2" height="16.2"/><rect x="372.4" y="384.4" width="16.2" height="16.2"/><rect x="372.4" y="384.9" width="16.2" height="16.2"/><rect x="372.4" y="385.3" width="16.2" height="16.2"/><rect x="373.9" y="384.4" width="16.2" height="16.2"/><rect x="373.9" y="384.9" width="16.2" height="16.2"/><rect x="373.9" y="385.3" width="16.2" height="16.2"/><rect x="375.4" y="384.4" width="16.2" height="16.2"/><rect x="375.4" y="384.9" width="16.2" height="16.2"/><rect x="375.4" y="385.3" width="16.2" height="16.2"/><rect x="376.9" y="384.4" width="16.2" height="16.2"/><rect x="376.9" y="384.9" width="16.2" height="16.2"/><rect x="376.9" y="385.3" width="16.2" height="16.2"/><rect x="378.4" y="384.4" width="16.2" height="16.2"/><rect x="378.4" y="384.9" width="16.2" height="16.2"/><rect x="378.4" y="385.3" width="16.2" height="16.2"/><rect x="379.9" y="384.4" width="16.2" height="16.2"/><rect x="379.9" y="384.9" width="16.2" height="16.2"/><rect x="379.9" y="385.3" width="16.2" height="16.2"/><rect x="381.4" y="384.4" width="16.2" height="16.2"/><rect x="381.4" y="384.9" width="16.2" height="16.2"/><rect x="381.4" y="385.3" width="16.2" height="16.2"/><rect x="382.9" y="384.4" width="16.2" height="16.2"/><rect x="382.9" y="384.9" width="16.2" height="16.2"/><rect x="382.9" y="385.3" width="16.2" height="16.2"/><rect x="384.4" y="384.4" width="16.2" height="16.2"/><rect x="384.4" y="384.9" width="16.2" height="16.2"/><rect x="384.4" y="385.3" width="16.2" height="16.2"/><rect x="385.9" y="384.4" width="16.2" height="16.2"/><rect x="385.9" y="384.9" width="16.2" height="16.2"/><rect x="385.9" y="385.3" width="16.2" height="16.2"/><rect x="387.4" y="384.4" width="16.2" height="16.2"/><rect x="387.4" y="384.9" width="16.2" height="16.2"/><rect x="387.4" y="385.3" width="16.2" height="16.2"/><rect x="388.9" y="384.4" width="16.2" height="16.2"/><rect x="388.9" y="384.9" width="16.2" height="16.2"/><rect x="388.9" y="385.3" width="16.2" height="16.2"/><rect x="390.4" y="384.4" width="16.2" height="16.2"/><rect x="390.4" y="384.9" width="16.2" height="16.2"/><rect x="390.4" y="385.3" width="16.2" height="16.2"/><rect x="391.9" y="384.4" width="16.2" height="16.2"/><rect x="391.9" y="384.9" width="16.2" height="16.2"/><rect x="391.9" y="385.3" width="16.2" height="16.2"/><rect x="393.4" y="384.4" width="16.2" height="16.2"/><rect x="393.4" y="384.9" width="16.2" height="16.2"/><rect x="393.4" y="385.3" width="16.2" height="16.2"/><rect x="394.9" y="384.4" width="16.2" height="16.2"/><rect x="394.9" y="384.9" width="16.2" height="16.2"/><rect x="394.9" y="385.3" width="16.2" height="16.2"/><rect x="396.4" y="384.4" width="16.2" height="16.2"/><rect x="396.4" y="384.9" width="16.2" height="16.2"/><rect x="396.4" y="385.3" width="16.2" height="16.2"/><rect x="397.9" y="384.4" width="16.2" height="16.2"/><rect x="397.9" y="384.9" width="16.2" height="16.2"/><rect x="397.9" y="385.3" width="16.2" height="16.2"/><rect x="399.4" y="384.4" width="16.2" height="16.2"/><rect x="399.4" y="384.9" width="16.2" height="16.2"/><rect x="399.4" y="385.3" width="16.2" height="16.2"/><rect x="400.9" y="384.4" width="16.2" height="16.2"/><rect x="400.9" y="384.9" width="16.2" height="16.2"/><rect x="400.9" y="385.3" width="16.2" height="16.2"/><rect x="402.4" y="384.4" width="16.2" height="16.2"/><rect x="402.4" y="384.9" width="16.2" height="16.2"/><rect x="402.4" y="385.3" width="16.2" height="16.2"/><rect x="403.9" y="384.4" width="16.2" height="16.2"/><rect x="403.9" y="384.9" width="16.2" height="16.2"/><rect x="403.9" y="385.3" width="16.2" height="16.2"/><rect x="405.4" y="384.4" width="16.2" height="16.2"/><rect x="405.4" y="384.9" width="16.2" height="16.2"/><rect x="405.4" y="385.3" width="16.2" height="16.2"/><rect x="406.9" y="384.4" width="16.2" height="16.2"/><rect x="406.9" y="384.9" width="16.2" height="16.2"/><rect x="406.9" y="385.3" width="16.2" height="16.2"/><rect x="408.4" y="384.4" width="16.2" height="16.2"/><rect x="408.4" y="384.9" width="16.2" height="16.2"/><rect x="408.4" y="385.3" width="16.2" height="16.2"/><rect x="409.9" y="384.4" width="16.2" height="16.2"/><rect x="409.9" y="384.9" width="16.2" height="16.2"/><rect x="409.9" y="385.3" width="16.2" height="16.2"/><rect x="411.4" y="384.4" width="16.2" height="16.2"/><rect x="411.4" y="384.9" width="16.2" height="16.2"/><rect x="411.4" y="385.3" width="16.2" height="16.2"/><rect x="412.9" y="384.4" width="16.2" height="16.2"/><rect x="412.9" y="384.9" width="16.2" height="16.2"/><rect x="412.9" y="385.3" width="16.2" height="16.2"/><rect x="414.4" y="384.4" width="16.2" height="16.2"/><rect x="414.4" y="384.9" width="16.2" height="16.2"/><rect x="414.4" y="385.3" width="16.2" height="16.2"/><rect x="415.9" y="384.4" width="16.2" height="16.2"/><rect x="415.9" y="384.9" width="16.2" height="16.2"/><rect x="415.9" y="385.3" width="16.2" height="16.2"/><rect x="417.4" y="384.4" width="16.2" height="16.2"/><rect x="417.4" y="384.9" width="16.2" height="16.2"/><rect x="417.4" y="385.3" width="16.2" height="16.2"/><rect x="418.9" y="384.4" width="16.2" height="16.2"/><rect x="418.9" y="384.9" width="16.2" height="16.2"/><rect x="418.9" y="385.3" width="16.2" height="16.2"/><rect x="420.4" y="384.4" width="16.2" height="16.2"/><rect x="420.4" y="384.9" width="16.2" height="16.2"/><rect x="420.4" y="385.3" width="16.2" height="16.2"/><rect x="421.9" y="384.4" width="16.2" height="16.2"/><rect x="421.9" y="384.9" width="16.2" height="16.2"/><rect x="421.9" y="385.3" width="16.2" height="16.2"/><rect x="423.4" y="384.4" width="16.2" height="16.2"/><rect x="423.4" y="384.9" width="16.2" height="16.2"/><rect x="423.4" y="385.3" width="16.2" height="16.2"/><rect x="424.9" y="384.4" width="16.2" height="16.2"/><rect x="424.9" y="384.9" width="16.2" height="16.2"/><rect x="424.9" y="385.3" width="16.2" height="16.2"/><rect x="426.4" y="384.4" width="16.2" height="16.2"/><rect x="426.4" y="384.9" width="16.2" height="16.2"/><rect x="426.4" y="385.3" width="16.2" height="16.2"/><rect x="427.9" y="384.4" width="16.2" height="16.2"/><rect x="427.9" y="384.9" width="16.2" height="16.2"/><rect x="427.9" y="385.3" width="16.2" height="16.2"/><rect x="429.4" y="384.4" width="16.2" height="16.2"/><rect x="429.4" y="384.9" width="16.2" height="16.2"/><rect x="429.4" y="385.3" width="16.2" height="16.2"/><rect x="430.9" y="384.4" width="16.2" height="16.2"/><rect x="430.9" y="384.9" width="16.2" height="16.2"/><rect x="430.9" y="385.3" width="16.2" height="16.2"/><rect x="432.4" y="384.4" width="16.2" height="16.2"/><rect x="432.4" y="384.9" width="16.2" height="16.2"/><rect x="432.4" y="385.3" width="16.2" height="16.2"/><rect x="433.9" y="384.4" width="16.2" height="16.2"/><rect x="433.9" y="384.9" width="16.2" height="16.2"/><rect x="433.9" y="385.3" width="16.2" height="16.2"/><rect x="435.4" y="384.4" width="16.2" height="16.2"/><rect x="435.4" y="384.9" width="16.2" height="16.2"/><rect x="435.4" y="385.3" width="16.2" height="16.2"/><rect x="436.9" y="384.4" width="16.2" height="16.2"/><rect x="436.9" y="384.9" width="16.2" height="16.2"/><rect x="436.9" y="385.3" width="16.2" height="16.2"/><rect x="438.4" y="384.4" width="16.2" height="16.2"/><rect x="438.4" y="384.9" width="16.2" height="16.2"/><rect x="438.4" y="385.3" width="16.2" height="16.2"/><rect x="439.9" y="384.4" width="16.2" height="16.2"/><rect x="439.9" y="384.9" width="16.2" height="16.2"/><rect x="439.9" y="385.3" width="16.2" height="16.2"/><rect x="441.4" y="384.4" width="16.2" height="16.2"/><rect x="441.4" y="384.9" width="16.2" height="16.2"/><rect x="441.4" y="385.3" width="16.2" height="16.2"/><rect x="442.9" y="384.4" width="16.2" height="16.2"/><rect x="442.9" y="384.9" width="16.2" height="16.2"/><rect x="442.9" y="385.3" width="16.2" height="16.2"/><rect x="444.4" y="384.4" width="16.2" height="16.2"/><rect x="444.4" y="384.9" width="16.2" height="16.2"/><rect x="444.4" y="385.3" width="16.2" height="16.2"/><rect x="445.9" y="384.4" width="16.2" height="16.2"/><rect x="445.9" y="384.9" width="16.2" height="16.2"/><rect x="445.9" y="385.3" width="16.2" height="16.2"/><rect x="447.4" y="384.4" width="16.2" height="16.2"/><rect x="447.4" y="384.9" width="16.2" height="16.2"/><rect x="447.4" y="385.3" width="16.2" height="16.2"/><rect x="448.9" y="384.4" width="16.2" height="16.2"/><rect x="448.9" y="384.9" width="16.2" height="16.2"/><rect x="448.9" y="385.3" width="16.2" height="16.2"/><rect x="450.4" y="384.4" width="16.2" height="16.2"/><rect x="450.4" y="384.9" width="16.2" height="16.2"/><rect x="450.4" y="385.3" width="16.2" height="16.2"/><rect x="451.9" y="384.4" width="16.2" height="16.2"/><rect x="451.9" y="384.9" width="16.2" height="16.2"/><rect x="451.9" y="385.3" width="16.2" height="16.2"/><rect x="453.4" y="384.4" width="16.2" height="16.2"/><rect x="453.4" y="384.9" width="16.2" height="16.2"/><rect x="453.4" y="385.3" width="16.2" height="16.2"/><rect x="454.9" y="384.4" width="16.2" height="16.2"/><rect x="454.9" y="384.9" width="16.2" height="16.2"/><rect x="454.9" y="385.3" width="16.2" height="16.2"/><rect x="456.4" y="384.4" width="16.2" height="16.2"/><rect x="456.4" y="384.9" width="16.2" height="16.2"/><rect x="456.4" y="385.3" width="16.2" height="16.2"/><rect x="457.9" y="384.4" width="16.2" height="16.2"/><rect x="457.9" y="384.9" width="16.2" height="16.2"/><rect x="457.9" y="385.3" width="16.2" height="16.2"/><rect x="459.4" y="384.4" width="16.2" height="16.2"/><rect x="459.4" y="384.9" width="16.2" height="16.2"/><rect x="459.4" y="385.3" width="16.2" height="16.2"/><rect x="460.9" y="384.4" width="16.2" height="16.2"/><rect x="460.9" y="384.9" width="16.2" height="16.2"/><rect x="460.9" y="385.3" width="16.2" height="16.2"/><rect x="462.4" y="384.4" width="16.2" height="16.2"/><rect x="462.4" y="384.9" width="16.2" height="16.2"/><rect x="462.4" y="385.3" width="16.2" height="16.2"/><rect x="463.9" y="384.4" width="16.2" height="16.2"/><rect x="463.9" y="384.9" width="16.2" height="16.2"/><rect x="463.9" y="385.3" width="16.2" height="16.2"/><rect x="465.4" y="384.4" width="16.2" height="16.2"/><rect x="465.4" y="384.9" width="16.2" height="16.2"/><rect x="465.4" y="385.3" width="16.2" height="16.2"/><rect x="466.9" y="384.6" width="16.2" height="16.2"/><rect x="466.9" y="384.9" width="16.2" height="16.2"/><rect x="466.9" y="385.3" width="16.2" height="16.2"/><rect x="468.4" y="384.6" width="16.2" height="16.2"/><rect x="468.4" y="384.9" width="16.2" height="16.2"/><rect x="468.4" y="385.3" width="16.2" height="16.2"/><rect x="469.9" y="384.6" width="16.2" height="16.2"/><rect x="469.9" y="384.9" width="16.2" height="16.2"/><rect x="469.9" y="385.3" width="16.2" height="16.2"/><rect x="471.4" y="384.6" width="16.2" height="16.2"/><rect x="471.4" y="384.9" width="16.2" height="16.2"/><rect x="471.4" y="385.3" width="16.2" height="16.2"/><rect x="472.9" y="384.6" width="16.2" height="16.2"/><rect x="472.9" y="384.9" width="16.2" height="16.2"/><rect x="472.9" y="385.3" width="16.2" height="16.2"/><rect x="474.4" y="384.6" width="16.2" height="16.2"/><rect x="474.4" y="384.9" width="16.2" height="16.2"/><rect x="474.4" y="385.3" width="16.2" height="16.2"/><rect x="475.9" y="384.6" width="16.2" height="16.2"/><rect x="475.9" y="384.9" width="16.2" height="16.2"/><rect x="475.9" y="385.3" width="16.2" height="16.2"/><rect x="477.4" y="384.6" width="16.2" height="16.2"/><rect x="477.4" y="384.9" width="16.2" height="16.2"/><rect x="477.4" y="385.3" width="16.2" height="16.2"/><rect x="478.9" y="384.6" width="16.2" height="16.2"/><rect x="478.9" y="384.9" width="16.2" height="16.2"/><rect x="478.9" y="385.3" width="16.2" height="16.2"/><rect x="480.4" y="384.6" width="16.2" height="16.2"/><rect x="480.4" y="384.9" width="16.2" height="16.2"/><rect x="480.4" y="385.3" width="16.2" height="16.2"/><rect x="481.9" y="384.6" width="16.2" height="16.2"/><rect x="481.9" y="384.9" width="16.2" height="16.2"/><rect x="481.9" y="385.3" width="16.2" height="16.2"/><rect x="483.4" y="384.6" width="16.2" height="16.2"/><rect x="483.4" y="384.9" width="16.2" height="16.2"/><rect x="483.4" y="385.3" width="16.2" height="16.2"/><rect x="484.9" y="384.6" width="16.2" height="16.2"/><rect x="484.9" y="384.9" width="16.2" height="16.2"/><rect x="484.9" y="385.3" width="16.2" height="16.2"/><rect x="486.4" y="384.6" width="16.2" height="16.2"/><rect x="486.4" y="384.9" width="16.2" height="16.2"/><rect x="486.4" y="385.3" width="16.2" height="16.2"/><rect x="487.9" y="384.6" width="16.2" height="16.2"/><rect x="487.9" y="384.9" width="16.2" height="16.2"/><rect x="487.9" y="385.3" width="16.2" height="16.2"/><rect x="489.4" y="384.6" width="16.2" height="16.2"/><rect x="489.4" y="384.9" width="16.2" height="16.2"/><rect x="489.4" y="385.3" width="16.2" height="16.2"/><rect x="490.9" y="384.6" width="16.2" height="16.2"/><rect x="490.9" y="384.9" width="16.2" height="16.2"/><rect x="490.9" y="385.3" width="16.2" height="16.2"/><rect x="492.4" y="384.6" width="16.2" height="16.2"/><rect x="492.4" y="384.9" width="16.2" height="16.2"/><rect x="492.4" y="385.3" width="16.2" height="16.2"/><rect x="493.9" y="384.6" width="16.2" height="16.2"/><rect x="493.9" y="384.9" width="16.2" height="16.2"/><rect x="493.9" y="385.3" width="16.2" height="16.2"/><rect x="495.4" y="384.6" width="16.2" height="16.2"/><rect x="495.4" y="384.9" width="16.2" height="16.2"/><rect x="495.4" y="385.3" width="16.2" height="16.2"/><rect x="496.9" y="384.6" width="16.2" height="16.2"/><rect x="496.9" y="384.9" width="16.2" height="16.2"/><rect x="496.9" y="385.3" width="16.2" height="16.2"/><rect x="498.4" y="384.6" width="16.2" height="16.2"/><rect x="498.4" y="384.9" width="16.2" height="16.2"/><rect x="498.4" y="385.3" width="16.2" height="16.2"/><rect x="499.9" y="384.6" width="16.2" height="16.2"/><rect x="499.9" y="384.9" width="16.2" height="16.2"/><rect x="499.9" y="385.3" width="16.2" height="16.2"/><rect x="501.4" y="384.6" width="16.2" height="16.2"/><rect x="501.4" y="384.9" width="16.2" height="16.2"/><rect x="501.4" y="385.3" width="16.2" height="16.2"/><rect x="502.9" y="384.6" width="16.2" height="16.2"/><rect x="502.9" y="384.9" width="16.2" height="16.2"/><rect x="502.9" y="385.3" width="16.2" height="16.2"/><rect x="504.4" y="384.6" width="16.2" height="16.2"/><rect x="504.4" y="384.9" width="16.2" height="16.2"/><rect x="504.4" y="385.3" width="16.2" height="16.2"/><rect x="505.9" y="384.6" width="16.2" height="16.2"/><rect x="505.9" y="384.9" width="16.2" height="16.2"/><rect x="505.9" y="385.3" width="16.2" height="16.2"/><rect x="507.4" y="384.6" width="16.2" height="16.2"/><rect x="507.4" y="384.9" width="16.2" height="16.2"/><rect x="507.4" y="385.3" width="16.2" height="16.2"/><rect x="508.9" y="384.6" width="16.2" height="16.2"/><rect x="508.9" y="384.9" width="16.2" height="16.2"/><rect x="510.4" y="384.6" width="16.2" height="16.2"/><rect x="510.4" y="384.9" width="16.2" height="16.2"/><rect x="511.9" y="384.6" width="16.2" height="16.2"/><rect x="511.9" y="384.9" width="16.2" height="16.2"/><rect x="513.4" y="384.6" width="16.2" height="16.2"/><rect x="513.4" y="384.9" width="16.2" height="16.2"/><rect x="514.9" y="384.6" width="16.2" height="16.2"/><rect x="514.9" y="384.9" width="16.2" height="16.2"/><rect x="516.4" y="384.6" width="16.2" height="16.2"/><rect x="516.4" y="384.9" width="16.2" height="16.2"/><rect x="517.9" y="384.6" width="16.2" height="16.2"/><rect x="517.9" y="384.9" width="16.2" height="16.2"/><rect x="519.4" y="384.6" width="16.2" height="16.2"/><rect x="519.4" y="384.9" width="16.2" height="16.2"/><rect x="212.8" y="384.6" width="16.2" height="16.2"/><rect x="230.9" y="384.6" width="16.2" height="16.2"/><rect x="249.3" y="384.6" width="16.2" height="16.2"/><rect x="267.6" y="384.6" width="16.2" height="16.2"/><rect x="285.8" y="384.6" width="16.2" height="16.2"/><rect x="303.8" y="384.5" width="16.2" height="16.2"/><rect x="322.1" y="384.4" width="16.2" height="16.2"/><rect x="340.3" y="384.4" width="16.2" height="16.2"/><rect x="359.0" y="384.4" width="16.2" height="16.2"/><rect x="377.6" y="385.6" width="16.2" height="16.2"/><rect x="396.0" y="385.6" width="16.2" height="16.2"/><rect x="414.4" y="385.6" width="16.2" height="16.2"/><rect x="432.6" y="385.6" width="16.2" height="16.2"/><rect x="451.0" y="385.6" width="16.2" height="16.2"/><rect x="469.5" y="385.6" width="16.2" height="16.2"/><rect x="489.3" y="385.8" width="16.2" height="16.2"/><rect x="507.5" y="385.8" width="16.2" height="16.2"/><rect x="252.9" y="386.8" width="16.2" height="16.2"/><rect x="474.4" y="384.1" width="16.2" height="16.2"/><rect x="475.9" y="384.1" width="16.2" height="16.2"/><rect x="520.8" y="384.7" width="16.2" height="16.2"/><rect x="514.8" y="384.7" width="16.2" height="16.2"/><rect x="212.8" y="65.1" width="16.2" height="16.2"/><rect x="230.9" y="63.5" width="16.2" height="16.2"/><rect x="230.9" y="67.3" width="16.2" height="16.2"/><rect x="249.3" y="64.8" width="16.2" height="16.2"/><rect x="249.3" y="68.6" width="16.2" height="16.2"/><rect x="267.6" y="67.3" width="16.2" height="16.2"/><rect x="267.6" y="71.1" width="16.2" height="16.2"/><rect x="285.8" y="68.7" width="16.2" height="16.2"/><rect x="285.8" y="72.5" width="16.2" height="16.2"/><rect x="303.8" y="70.4" width="16.2" height="16.2"/><rect x="303.8" y="74.2" width="16.2" height="16.2"/><rect x="322.1" y="71.2" width="16.2" height="16.2"/><rect x="322.1" y="75.0" width="16.2" height="16.2"/><rect x="340.3" y="72.4" width="16.2" height="16.2"/><rect x="340.3" y="76.2" width="16.2" height="16.2"/><rect x="359.0" y="75.4" width="16.2" height="16.2"/><rect x="359.0" y="77.4" width="16.2" height="16.2"/><rect x="377.6" y="75.9" width="16.2" height="16.2"/><rect x="377.6" y="77.9" width="16.2" height="16.2"/><rect x="396.0" y="77.1" width="16.2" height="16.2"/><rect x="396.0" y="79.1" width="16.2" height="16.2"/><rect x="414.4" y="77.9" width="16.2" height="16.2"/><rect x="414.4" y="79.9" width="16.2" height="16.2"/><rect x="432.6" y="79.9" width="16.2" height="16.2"/><rect x="432.6" y="81.9" width="16.2" height="16.2"/><rect x="451.0" y="80.3" width="16.2" height="16.2"/><rect x="451.0" y="82.3" width="16.2" height="16.2"/><rect x="469.5" y="81.2" width="16.2" height="16.2"/><rect x="469.5" y="83.2" width="16.2" height="16.2"/><rect x="489.3" y="83.3" width="16.2" height="16.2"/><rect x="489.3" y="85.3" width="16.2" height="16.2"/><rect x="507.5" y="84.5" width="16.2" height="16.2"/><rect x="507.5" y="86.5" width="16.2" height="16.2"/><rect x="520.6" y="431.0" width="16.2" height="16.2"/></g>
</g>
<g clip-path="url(#ct1)">
<g fill="#ff0000"><circle cx="1070.3" cy="139.9" r="8.20"/><circle cx="1071.3" cy="146.7" r="8.20"/><circle cx="1072.3" cy="150.9" r="8.20"/><circle cx="1073.3" cy="153.7" r="8.20"/><circle cx="1074.3" cy="155.8" r="8.20"/><circle cx="1075.3" cy="157.6" r="8.20"/><circle cx="1076.3" cy="157.6" r="8.20"/><circle cx="1077.3" cy="161.8" r="8.20"/><circle cx="1078.3" cy="160.3" r="8.20"/><circle cx="1079.3" cy="164.3" r="8.20"/><circle cx="1080.3" cy="162.6" r="8.20"/><circle cx="1081.3" cy="166.5" r="8.20"/><circle cx="1082.3" cy="164.8" r="8.20"/><circle cx="1083.3" cy="168.7" r="8.20"/><circle cx="1084.3" cy="167.1" r="8.20"/><circle cx="1085.3" cy="171.0" r="8.20"/><circle cx="1086.3" cy="169.3" r="8.20"/><circle cx="1087.3" cy="173.3" r="8.20"/><circle cx="1088.3" cy="171.6" r="8.20"/><circle cx="1089.3" cy="175.6" r="8.20"/><circle cx="1090.3" cy="173.9" r="8.20"/><circle cx="1091.3" cy="177.8" r="8.20"/><circle cx="1092.3" cy="176.2" r="8.20"/><circle cx="1093.3" cy="180.1" r="8.20"/><circle cx="1094.3" cy="178.3" r="8.20"/><circle cx="1095.3" cy="182.0" r="8.20"/><circle cx="1096.3" cy="180.0" r="8.20"/><circle cx="1097.3" cy="183.6" r="8.20"/><circle cx="1098.3" cy="181.6" r="8.20"/><circle cx="1099.3" cy="185.2" r="8.20"/><circle cx="1100.3" cy="183.3" r="8.20"/><circle cx="1101.3" cy="186.9" r="8.20"/><circle cx="1102.3" cy="184.9" r="8.20"/><circle cx="1103.3" cy="188.5" r="8.20"/><circle cx="1104.3" cy="186.5" r="8.20"/><circle cx="1105.3" cy="190.1" r="8.20"/><circle cx="1106.3" cy="188.0" r="8.20"/><circle cx="1107.3" cy="191.5" r="8.20"/><circle cx="1108.3" cy="189.3" r="8.20"/><circle cx="1109.3" cy="192.8" r="8.20"/><circle cx="1110.3" cy="190.7" r="8.20"/><circle cx="1111.3" cy="194.2" r="8.20"/><circle cx="1112.3" cy="192.1" r="8.20"/><circle cx="1113.3" cy="195.6" r="8.20"/><circle cx="1114.3" cy="193.4" r="8.20"/><circle cx="1115.3" cy="196.9" r="8.20"/><circle cx="1116.3" cy="194.8" r="8.20"/><circle cx="1117.3" cy="198.3" r="8.20"/><circle cx="1118.3" cy="196.2" r="8.20"/><circle cx="1119.3" cy="199.7" r="8.20"/><circle cx="1120.3" cy="197.5" r="8.20"/><circle cx="1121.3" cy="201.0" r="8.20"/><circle cx="1122.3" cy="198.9" r="8.20"/><circle cx="1123.3" cy="202.4" r="8.20"/><circle cx="1124.3" cy="200.3" r="8.20"/><circle cx="1125.3" cy="203.7" r="8.20"/><circle cx="1126.3" cy="201.6" r="8.20"/><circle cx="1127.3" cy="205.1" r="8.20"/><circle cx="1128.3" cy="203.0" r="8.20"/><circle cx="1129.3" cy="206.6" r="8.20"/><circle cx="1130.3" cy="204.5" r="8.20"/><circle cx="1131.3" cy="208.0" r="8.20"/><circle cx="1132.3" cy="206.0" r="8.20"/><circle cx="1133.3" cy="209.5" r="8.20"/><circle cx="1134.3" cy="207.4" r="8.20"/><circle cx="1135.3" cy="209.6" r="8.20"/><circle cx="1136.3" cy="210.3" r="8.20"/><circle cx="1137.3" cy="211.0" r="8.20"/><circle cx="1138.3" cy="211.7" r="8.20"/><circle cx="1139.3" cy="212.4" r="8.20"/><circle cx="1140.3" cy="213.1" r="8.20"/><circle cx="1141.3" cy="213.8" r="8.20"/><circle cx="1142.3" cy="214.5" r="8.20"/><circle cx="1143.3" cy="215.2" r="8.20"/><circle cx="1144.3" cy="215.9" r="8.20"/><circle cx="1145.3" cy="216.6" r="8.20"/><circle cx="1146.3" cy="217.3" r="8.20"/><circle cx="1147.3" cy="218.0" r="8.20"/><circle cx="1148.3" cy="218.7" r="8.20"/><circle cx="1149.3" cy="219.2" r="8.20"/><circle cx="1150.0" cy="219.6" r="8.20"/><circle cx="1152.0" cy="220.6" r="8.20"/><circle cx="1154.0" cy="221.6" r="8.20"/><circle cx="1156.0" cy="222.6" r="8.20"/><circle cx="1158.0" cy="223.6" r="8.20"/><circle cx="1160.0" cy="224.6" r="8.20"/><circle cx="1162.0" cy="225.6" r="8.20"/><circle cx="1164.0" cy="226.6" r="8.20"/><circle cx="1166.0" cy="227.6" r="8.20"/><circle cx="1168.0" cy="228.6" r="8.20"/><circle cx="1170.0" cy="229.6" r="8.20"/><circle cx="1172.0" cy="230.6" r="8.20"/><circle cx="1174.0" cy="231.6" r="8.20"/><circle cx="1176.0" cy="232.6" r="8.20"/><circle cx="1178.0" cy="233.6" r="8.20"/><circle cx="1180.0" cy="234.6" r="8.20"/><circle cx="1182.0" cy="235.6" r="8.20"/><circle cx="1184.0" cy="236.6" r="8.20"/><circle cx="1186.0" cy="237.6" r="8.20"/><circle cx="1188.0" cy="238.6" r="8.20"/><circle cx="1190.0" cy="239.6" r="8.20"/><circle cx="1192.0" cy="240.6" r="8.20"/><circle cx="1194.0" cy="241.6" r="8.20"/><circle cx="1196.0" cy="242.6" r="8.20"/><circle cx="1198.0" cy="243.6" r="8.20"/><circle cx="1200.0" cy="244.6" r="8.20"/><circle cx="1202.0" cy="245.6" r="8.20"/><circle cx="1204.0" cy="246.4" r="8.20"/><circle cx="1206.0" cy="247.2" r="8.20"/><circle cx="1208.0" cy="248.0" r="8.20"/><circle cx="1210.0" cy="248.8" r="8.20"/><circle cx="1212.0" cy="249.6" r="8.20"/><circle cx="1214.0" cy="250.4" r="8.20"/><circle cx="1216.0" cy="251.2" r="8.20"/><circle cx="1218.0" cy="252.0" r="8.20"/><circle cx="1220.0" cy="252.8" r="8.20"/><circle cx="1222.0" cy="253.6" r="8.20"/><circle cx="1224.0" cy="254.4" r="8.20"/><circle cx="1226.0" cy="255.2" r="8.20"/><circle cx="1228.0" cy="255.9" r="8.20"/><circle cx="1230.0" cy="256.7" r="8.20"/><circle cx="1232.0" cy="257.5" r="8.20"/><circle cx="1234.0" cy="258.3" r="8.20"/><circle cx="1236.0" cy="259.1" r="8.20"/><circle cx="1238.0" cy="259.9" r="8.20"/><circle cx="1240.0" cy="260.7" r="8.20"/><circle cx="1242.0" cy="261.5" r="8.20"/><circle cx="1244.0" cy="262.2" r="8.20"/><circle cx="1246.0" cy="263.0" r="8.20"/><circle cx="1248.0" cy="263.7" r="8.20"/><circle cx="1250.0" cy="264.5" r="8.20"/><circle cx="1252.0" cy="265.3" r="8.20"/><circle cx="1254.0" cy="266.0" r="8.20"/><circle cx="1256.0" cy="266.8" r="8.20"/><circle cx="1258.0" cy="267.6" r="8.20"/><circle cx="1260.0" cy="268.4" r="8.20"/><circle cx="1262.0" cy="269.2" r="8.20"/><circle cx="1264.0" cy="270.0" r="8.20"/><circle cx="1266.0" cy="270.9" r="8.20"/><circle cx="1268.0" cy="271.7" r="8.20"/><circle cx="1270.0" cy="272.5" r="8.20"/><circle cx="1272.0" cy="273.3" r="8.20"/><circle cx="1274.0" cy="274.2" r="8.20"/><circle cx="1276.0" cy="275.0" r="8.20"/><circle cx="1278.0" cy="275.8" r="8.20"/><circle cx="1280.0" cy="276.6" r="8.20"/><circle cx="1282.0" cy="277.5" r="8.20"/><circle cx="1284.0" cy="278.3" r="8.20"/><circle cx="1286.0" cy="279.1" r="8.20"/><circle cx="1288.0" cy="279.9" r="8.20"/><circle cx="1290.0" cy="280.7" r="8.20"/><circle cx="1292.0" cy="281.5" r="8.20"/><circle cx="1294.0" cy="282.2" r="8.20"/><circle cx="1296.0" cy="282.9" r="8.20"/><circle cx="1298.0" cy="283.7" r="8.20"/><circle cx="1300.0" cy="284.4" r="8.20"/><circle cx="1302.0" cy="285.1" r="8.20"/><circle cx="1304.0" cy="285.9" r="8.20"/><circle cx="1306.0" cy="286.6" r="8.20"/><circle cx="1308.0" cy="287.3" r="8.20"/><circle cx="1310.0" cy="288.1" r="8.20"/><circle cx="1312.0" cy="288.8" r="8.20"/><circle cx="1314.0" cy="289.5" r="8.20"/><circle cx="1316.0" cy="290.3" r="8.20"/><circle cx="1318.0" cy="291.0" r="8.20"/><circle cx="1320.0" cy="291.8" r="8.20"/><circle cx="1322.0" cy="292.5" r="8.20"/><circle cx="1324.0" cy="293.2" r="8.20"/><circle cx="1326.0" cy="294.0" r="8.20"/><circle cx="1328.0" cy="294.7" r="8.20"/><circle cx="1330.0" cy="295.4" r="8.20"/><circle cx="1332.0" cy="296.2" r="8.20"/><circle cx="1334.0" cy="296.9" r="8.20"/><circle cx="1336.0" cy="297.6" r="8.20"/><circle cx="1338.0" cy="298.4" r="8.20"/><circle cx="1340.0" cy="299.1" r="8.20"/><circle cx="1342.0" cy="299.8" r="8.20"/><circle cx="1344.0" cy="300.5" r="8.20"/><circle cx="1346.0" cy="301.2" r="8.20"/><circle cx="1348.0" cy="301.9" r="8.20"/><circle cx="1350.0" cy="302.6" r="8.20"/><circle cx="1352.0" cy="303.3" r="8.20"/><circle cx="1354.0" cy="304.0" r="8.20"/><circle cx="1356.0" cy="304.7" r="8.20"/><circle cx="1358.0" cy="305.4" r="8.20"/><circle cx="1360.0" cy="306.1" r="8.20"/><circle cx="1362.0" cy="306.8" r="8.20"/><circle cx="1364.0" cy="307.5" r="8.20"/><circle cx="1366.0" cy="308.2" r="8.20"/><circle cx="1368.0" cy="308.9" r="8.20"/><circle cx="1370.0" cy="309.6" r="8.20"/><circle cx="1372.0" cy="310.3" r="8.20"/><circle cx="1374.0" cy="311.0" r="8.20"/><circle cx="1376.0" cy="311.6" r="8.20"/><circle cx="1378.0" cy="312.3" r="8.20"/><circle cx="1380.0" cy="313.0" r="8.20"/><circle cx="1382.0" cy="313.7" r="8.20"/><circle cx="1384.0" cy="314.4" r="8.20"/><circle cx="1386.0" cy="315.1" r="8.20"/><circle cx="1388.0" cy="315.8" r="8.20"/><circle cx="1390.0" cy="316.5" r="8.20"/><circle cx="1392.0" cy="317.2" r="8.20"/><circle cx="1394.0" cy="317.9" r="8.20"/><circle cx="1396.0" cy="318.6" r="8.20"/><circle cx="1398.0" cy="319.3" r="8.20"/><circle cx="1400.0" cy="320.0" r="8.20"/><circle cx="1402.0" cy="320.7" r="8.20"/><circle cx="1404.0" cy="321.4" r="8.20"/><circle cx="1406.0" cy="322.1" r="8.20"/><circle cx="1408.0" cy="322.8" r="8.20"/><circle cx="1410.0" cy="323.5" r="8.20"/><circle cx="1412.0" cy="324.2" r="8.20"/><circle cx="1414.0" cy="324.9" r="8.20"/><circle cx="1416.0" cy="325.6" r="8.20"/><circle cx="1418.0" cy="326.3" r="8.20"/><circle cx="1420.0" cy="327.0" r="8.20"/><circle cx="1422.0" cy="327.7" r="8.20"/><circle cx="1424.0" cy="328.4" r="8.20"/><circle cx="1426.0" cy="329.2" r="8.20"/><circle cx="1428.0" cy="329.9" r="8.20"/><circle cx="1430.0" cy="330.6" r="8.20"/><circle cx="1432.0" cy="331.3" r="8.20"/><circle cx="1434.0" cy="332.0" r="8.20"/><circle cx="1436.0" cy="332.7" r="8.20"/><circle cx="1438.0" cy="333.4" r="8.20"/><circle cx="1440.0" cy="334.1" r="8.20"/><circle cx="1442.0" cy="334.8" r="8.20"/><circle cx="1444.0" cy="335.6" r="8.20"/><circle cx="1446.0" cy="336.3" r="8.20"/><circle cx="1448.0" cy="337.0" r="8.20"/><circle cx="1450.0" cy="337.8" r="8.20"/><circle cx="1452.0" cy="338.5" r="8.20"/><circle cx="1454.0" cy="339.2" r="8.20"/><circle cx="1456.0" cy="340.0" r="8.20"/><circle cx="1458.0" cy="340.7" r="8.20"/><circle cx="1460.0" cy="341.4" r="8.20"/><circle cx="1462.0" cy="342.1" r="8.20"/><circle cx="1464.0" cy="342.9" r="8.20"/><circle cx="1466.0" cy="343.6" r="8.20"/><circle cx="1468.0" cy="344.3" r="8.20"/><circle cx="1470.0" cy="345.1" r="8.20"/><circle cx="1472.0" cy="345.8" r="8.20"/><circle cx="1474.0" cy="346.5" r="8.20"/><circle cx="1476.0" cy="347.3" r="8.20"/><circle cx="1478.0" cy="348.0" r="8.20"/><circle cx="1480.0" cy="348.7" r="8.20"/><circle cx="1482.0" cy="349.5" r="8.20"/><circle cx="1484.0" cy="350.2" r="8.20"/><circle cx="1486.0" cy="350.9" r="8.20"/><circle cx="1488.0" cy="351.6" r="8.20"/><circle cx="1490.0" cy="352.2" r="8.20"/><circle cx="1492.0" cy="352.8" r="8.20"/><circle cx="1494.0" cy="353.4" r="8.20"/><circle cx="1496.0" cy="354.0" r="8.20"/><circle cx="1498.0" cy="354.6" r="8.20"/><circle cx="1500.0" cy="355.2" r="8.20"/><circle cx="1502.0" cy="355.8" r="8.20"/><circle cx="1504.0" cy="356.4" r="8.20"/><circle cx="1506.0" cy="357.0" r="8.20"/><circle cx="1508.0" cy="357.6" r="8.20"/><circle cx="1510.0" cy="358.2" r="8.20"/><circle cx="1512.0" cy="358.8" r="8.20"/><circle cx="1514.0" cy="359.4" r="8.20"/><circle cx="1516.0" cy="360.0" r="8.20"/><circle cx="1518.0" cy="360.5" r="8.20"/><circle cx="1520.0" cy="361.1" r="8.20"/><circle cx="1522.0" cy="361.7" r="8.20"/><circle cx="1524.0" cy="362.3" r="8.20"/><circle cx="1526.0" cy="362.9" r="8.20"/><circle cx="1528.0" cy="363.5" r="8.20"/><circle cx="1530.0" cy="364.1" r="8.20"/><circle cx="1532.0" cy="364.7" r="8.20"/><circle cx="1534.0" cy="365.3" r="8.20"/><circle cx="1536.0" cy="365.9" r="8.20"/><circle cx="1538.0" cy="366.5" r="8.20"/><circle cx="1540.0" cy="367.1" r="8.20"/><circle cx="1542.0" cy="367.8" r="8.20"/><circle cx="1544.0" cy="368.5" r="8.20"/><circle cx="1546.0" cy="369.2" r="8.20"/><circle cx="1548.0" cy="369.9" r="8.20"/><circle cx="1550.0" cy="370.7" r="8.20"/><circle cx="1552.0" cy="371.4" r="8.20"/><circle cx="1554.0" cy="372.1" r="8.20"/><circle cx="1556.0" cy="372.8" r="8.20"/><circle cx="1558.0" cy="373.5" r="8.20"/><circle cx="1560.0" cy="374.2" r="8.20"/><circle cx="1562.0" cy="374.9" r="8.20"/><circle cx="1564.0" cy="375.6" r="8.20"/><circle cx="1566.0" cy="376.3" r="8.20"/><circle cx="1568.0" cy="377.0" r="8.20"/><circle cx="1570.0" cy="377.7" r="8.20"/><circle cx="1572.0" cy="378.3" r="8.20"/><circle cx="1574.0" cy="379.0" r="8.20"/><circle cx="1576.0" cy="379.6" r="8.20"/><circle cx="1578.0" cy="380.3" r="8.20"/><circle cx="1580.0" cy="380.9" r="8.20"/><circle cx="1582.0" cy="381.6" r="8.20"/><circle cx="1584.0" cy="382.2" r="8.20"/><circle cx="1586.0" cy="382.9" r="8.20"/><circle cx="1588.0" cy="383.5" r="8.20"/><circle cx="1590.0" cy="384.2" r="8.20"/><circle cx="1592.0" cy="384.8" r="8.20"/><circle cx="1594.0" cy="385.5" r="8.20"/><circle cx="1596.0" cy="386.1" r="8.20"/><circle cx="1598.0" cy="386.8" r="8.20"/><circle cx="1600.0" cy="387.4" r="8.20"/><circle cx="1602.0" cy="388.1" r="8.20"/><circle cx="1604.0" cy="388.7" r="8.20"/><circle cx="1606.0" cy="389.4" r="8.20"/><circle cx="1608.0" cy="390.0" r="8.20"/><circle cx="1610.0" cy="390.6" r="8.20"/><circle cx="1612.0" cy="391.3" r="8.20"/><circle cx="1614.0" cy="391.9" r="8.20"/><circle cx="1616.0" cy="392.6" r="8.20"/><circle cx="1618.0" cy="393.2" r="8.20"/><circle cx="1620.0" cy="393.9" r="8.20"/><circle cx="1622.0" cy="394.5" r="8.20"/><circle cx="1624.0" cy="395.2" r="8.20"/><circle cx="1626.0" cy="395.8" r="8.20"/><circle cx="1628.0" cy="396.5" r="8.20"/><circle cx="1630.0" cy="397.1" r="8.20"/><circle cx="1632.0" cy="397.8" r="8.20"/><circle cx="1634.0" cy="398.4" r="8.20"/><circle cx="1636.0" cy="399.1" r="8.20"/><circle cx="1638.0" cy="399.7" r="8.20"/><circle cx="1640.0" cy="400.4" r="8.20"/><circle cx="1642.0" cy="401.0" r="8.20"/><circle cx="1644.0" cy="401.7" r="8.20"/><circle cx="1646.0" cy="402.3" r="8.20"/><circle cx="1648.0" cy="403.0" r="8.20"/><circle cx="1650.0" cy="403.6" r="8.20"/><circle cx="1652.0" cy="404.3" r="8.20"/><circle cx="1654.0" cy="404.9" r="8.20"/><circle cx="1656.0" cy="405.6" r="8.20"/><circle cx="1658.0" cy="406.2" r="8.20"/><circle cx="1660.0" cy="406.9" r="8.20"/><circle cx="1662.0" cy="407.5" r="8.20"/><circle cx="1664.0" cy="408.2" r="8.20"/><circle cx="1666.0" cy="408.8" r="8.20"/><circle cx="1668.0" cy="409.5" r="8.20"/><circle cx="1670.0" cy="410.1" r="8.20"/><circle cx="1672.0" cy="410.8" r="8.20"/><circle cx="1674.0" cy="411.4" r="8.20"/><circle cx="1676.0" cy="412.1" r="8.20"/><circle cx="1678.0" cy="412.7" r="8.20"/><circle cx="1680.0" cy="413.4" r="8.20"/><circle cx="1682.0" cy="414.0" r="8.20"/><circle cx="1684.0" cy="414.7" r="8.20"/><circle cx="1686.0" cy="415.3" r="8.20"/><circle cx="1688.0" cy="415.9" r="8.20"/><circle cx="1690.0" cy="416.6" r="8.20"/><circle cx="1692.0" cy="417.2" r="8.20"/><circle cx="1694.0" cy="417.9" r="8.20"/><circle cx="1696.0" cy="418.5" r="8.20"/><circle cx="1698.0" cy="419.2" r="8.20"/><circle cx="1700.0" cy="419.8" r="8.20"/><circle cx="1702.0" cy="420.5" r="8.20"/><circle cx="1704.0" cy="421.1" r="8.20"/><circle cx="1706.0" cy="421.8" r="8.20"/><circle cx="1708.0" cy="422.4" r="8.20"/><circle cx="1710.0" cy="423.1" r="8.20"/><circle cx="1712.0" cy="423.7" r="8.20"/><circle cx="1714.0" cy="424.4" r="8.20"/><circle cx="1716.0" cy="425.0" r="8.20"/><circle cx="1718.0" cy="425.7" r="8.20"/><circle cx="1720.0" cy="426.3" r="8.20"/><circle cx="1722.0" cy="427.0" r="8.20"/><circle cx="1724.0" cy="427.6" r="8.20"/><circle cx="1726.0" cy="428.3" r="8.20"/><circle cx="1728.0" cy="428.9" r="8.20"/><circle cx="1730.0" cy="429.6" r="8.20"/><circle cx="1732.0" cy="430.2" r="8.20"/><circle cx="1734.0" cy="430.9" r="8.20"/><circle cx="1736.0" cy="431.5" r="8.20"/><circle cx="1738.0" cy="432.2" r="8.20"/><circle cx="1740.0" cy="432.8" r="8.20"/><circle cx="1742.0" cy="433.5" r="8.20"/><circle cx="1744.0" cy="434.1" r="8.20"/><circle cx="1746.0" cy="434.8" r="8.20"/><circle cx="1748.0" cy="435.4" r="8.20"/><circle cx="1750.0" cy="436.1" r="8.20"/><circle cx="1752.0" cy="436.7" r="8.20"/><circle cx="1754.0" cy="437.4" r="8.20"/><circle cx="1756.0" cy="438.0" r="8.20"/><circle cx="1758.0" cy="438.7" r="8.20"/><circle cx="1760.0" cy="439.3" r="8.20"/><circle cx="1762.0" cy="440.0" r="8.20"/><circle cx="1764.0" cy="440.6" r="8.20"/><circle cx="1766.0" cy="441.2" r="8.20"/><circle cx="1768.0" cy="441.9" r="8.20"/><circle cx="1770.0" cy="442.5" r="8.20"/><circle cx="1772.0" cy="443.2" r="8.20"/><circle cx="1774.0" cy="443.8" r="8.20"/><circle cx="1776.0" cy="444.5" r="8.20"/><circle cx="1778.0" cy="445.1" r="8.20"/><circle cx="1778.8" cy="445.4" r="8.20"/><circle cx="1141.0" cy="206.1" r="8.20"/><circle cx="1158.7" cy="215.0" r="8.20"/><circle cx="1174.7" cy="223.1" r="8.20"/><circle cx="1191.6" cy="231.7" r="8.20"/><circle cx="1207.9" cy="239.4" r="8.20"/><circle cx="1224.1" cy="246.0" r="8.20"/><circle cx="1239.9" cy="252.3" r="8.20"/><circle cx="1255.9" cy="258.5" r="8.20"/><circle cx="1272.2" cy="264.6" r="8.20"/><circle cx="1288.0" cy="270.4" r="8.20"/><circle cx="1304.2" cy="275.9" r="8.20"/><circle cx="1320.0" cy="281.5" r="8.20"/><circle cx="1335.1" cy="286.9" r="8.20"/><circle cx="1350.8" cy="292.3" r="8.20"/><circle cx="1366.2" cy="297.5" r="8.20"/><circle cx="1381.8" cy="302.8" r="8.20"/><circle cx="1397.5" cy="308.2" r="8.20"/><circle cx="1414.0" cy="313.8" r="8.20"/><circle cx="1429.1" cy="319.0" r="8.20"/><circle cx="1444.5" cy="324.4" r="8.20"/><circle cx="1459.3" cy="329.6" r="8.20"/><circle cx="1474.4" cy="335.0" r="8.20"/><circle cx="1489.5" cy="340.3" r="8.20"/><circle cx="1504.6" cy="344.6" r="8.20"/><circle cx="1519.2" cy="348.8" r="8.20"/><circle cx="1533.7" cy="353.0" r="8.20"/><circle cx="1548.6" cy="357.8" r="8.20"/><circle cx="1563.1" cy="362.8" r="8.20"/><circle cx="1577.7" cy="367.6" r="8.20"/><circle cx="1592.0" cy="372.1" r="8.20"/><circle cx="1606.3" cy="376.6" r="8.20"/><circle cx="1620.8" cy="381.1" r="8.20"/><circle cx="1635.1" cy="385.6" r="8.20"/><circle cx="1649.1" cy="390.0" r="8.20"/><circle cx="1663.4" cy="394.5" r="8.20"/><circle cx="1677.7" cy="399.0" r="8.20"/><circle cx="1691.7" cy="403.4" r="8.20"/><circle cx="1706.0" cy="407.8" r="8.20"/><circle cx="1719.8" cy="412.2" r="8.20"/><circle cx="1736.2" cy="417.3" r="8.20"/><circle cx="1750.0" cy="421.6" r="8.20"/><circle cx="1763.7" cy="425.9" r="8.20"/><circle cx="1777.4" cy="430.2" r="8.20"/><circle cx="1728.0" cy="437.2" r="8.20"/><circle cx="1412.0" cy="327.7" r="8.20"/></g>
<g fill="#0000ff"><rect x="1062.7" y="131.6" width="16.2" height="16.2"/><rect x="1062.7" y="131.6" width="16.2" height="16.2"/><rect x="1063.7" y="140.6" width="16.2" height="16.2"/><rect x="1063.7" y="141.0" width="16.2" height="16.2"/><rect x="1064.7" y="145.6" width="16.2" height="16.2"/><rect x="1064.7" y="146.4" width="16.2" height="16.2"/><rect x="1065.7" y="148.1" width="16.2" height="16.2"/><rect x="1065.7" y="149.3" width="16.2" height="16.2"/><rect x="1066.7" y="150.5" width="16.2" height="16.2"/><rect x="1066.7" y="152.2" width="16.2" height="16.2"/><rect x="1067.7" y="151.8" width="16.2" height="16.2"/><rect x="1067.7" y="153.9" width="16.2" height="16.2"/><rect x="1068.7" y="152.9" width="16.2" height="16.2"/><rect x="1068.7" y="155.4" width="16.2" height="16.2"/><rect x="1069.7" y="153.9" width="16.2" height="16.2"/><rect x="1069.7" y="156.8" width="16.2" height="16.2"/><rect x="1070.7" y="155.0" width="16.2" height="16.2"/><rect x="1070.7" y="158.1" width="16.2" height="16.2"/><rect x="1071.7" y="156.2" width="16.2" height="16.2"/><rect x="1071.7" y="159.4" width="16.2" height="16.2"/><rect x="1072.7" y="157.5" width="16.2" height="16.2"/><rect x="1072.7" y="160.8" width="16.2" height="16.2"/><rect x="1073.7" y="158.7" width="16.2" height="16.2"/><rect x="1073.7" y="162.2" width="16.2" height="16.2"/><rect x="1074.7" y="160.0" width="16.2" height="16.2"/><rect x="1074.7" y="163.6" width="16.2" height="16.2"/><rect x="1075.7" y="161.3" width="16.2" height="16.2"/><rect x="1075.7" y="165.0" width="16.2" height="16.2"/><rect x="1076.7" y="162.6" width="16.2" height="16.2"/><rect x="1076.7" y="166.4" width="16.2" height="16.2"/><rect x="1077.7" y="163.8" width="16.2" height="16.2"/><rect x="1077.7" y="167.8" width="16.2" height="16.2"/><rect x="1078.7" y="165.1" width="16.2" height="16.2"/><rect x="1078.7" y="169.2" width="16.2" height="16.2"/><rect x="1079.7" y="166.4" width="16.2" height="16.2"/><rect x="1079.7" y="170.7" width="16.2" height="16.2"/><rect x="1080.7" y="167.7" width="16.2" height="16.2"/><rect x="1080.7" y="172.1" width="16.2" height="16.2"/><rect x="1081.7" y="168.9" width="16.2" height="16.2"/><rect x="1081.7" y="173.5" width="16.2" height="16.2"/><rect x="1082.7" y="169.7" width="16.2" height="16.2"/><rect x="1082.7" y="174.4" width="16.2" height="16.2"/><rect x="1083.7" y="170.5" width="16.2" height="16.2"/><rect x="1083.7" y="175.3" width="16.2" height="16.2"/><rect x="1084.7" y="171.2" width="16.2" height="16.2"/><rect x="1084.7" y="176.1" width="16.2" height="16.2"/><rect x="1085.7" y="172.0" width="16.2" height="16.2"/><rect x="1085.7" y="177.0" width="16.2" height="16.2"/><rect x="1086.7" y="172.8" width="16.2" height="16.2"/><rect x="1086.7" y="177.9" width="16.2" height="16.2"/><rect x="1087.7" y="173.6" width="16.2" height="16.2"/><rect x="1087.7" y="178.8" width="16.2" height="16.2"/><rect x="1088.7" y="174.4" width="16.2" height="16.2"/><rect x="1088.7" y="179.6" width="16.2" height="16.2"/><rect x="1089.7" y="175.2" width="16.2" height="16.2"/><rect x="1089.7" y="180.4" width="16.2" height="16.2"/><rect x="1090.7" y="176.1" width="16.2" height="16.2"/><rect x="1090.7" y="181.3" width="16.2" height="16.2"/><rect x="1091.7" y="176.9" width="16.2" height="16.2"/><rect x="1091.7" y="182.1" width="16.2" height="16.2"/><rect x="1092.7" y="177.7" width="16.2" height="16.2"/><rect x="1092.7" y="182.9" width="16.2" height="16.2"/><rect x="1093.7" y="178.6" width="16.2" height="16.2"/><rect x="1093.7" y="183.8" width="16.2" height="16.2"/><rect x="1094.7" y="179.4" width="16.2" height="16.2"/><rect x="1094.7" y="184.6" width="16.2" height="16.2"/><rect x="1095.7" y="179.7" width="16.2" height="16.2"/><rect x="1095.7" y="184.9" width="16.2" height="16.2"/><rect x="1096.7" y="180.0" width="16.2" height="16.2"/><rect x="1096.7" y="185.2" width="16.2" height="16.2"/><rect x="1097.7" y="180.3" width="16.2" height="16.2"/><rect x="1097.7" y="185.5" width="16.2" height="16.2"/><rect x="1098.7" y="180.7" width="16.2" height="16.2"/><rect x="1098.7" y="185.9" width="16.2" height="16.2"/><rect x="1099.7" y="181.0" width="16.2" height="16.2"/><rect x="1099.7" y="186.2" width="16.2" height="16.2"/><rect x="1100.7" y="181.3" width="16.2" height="16.2"/><rect x="1100.7" y="186.5" width="16.2" height="16.2"/><rect x="1101.7" y="181.6" width="16.2" height="16.2"/><rect x="1101.7" y="186.8" width="16.2" height="16.2"/><rect x="1102.7" y="181.9" width="16.2" height="16.2"/><rect x="1102.7" y="187.1" width="16.2" height="16.2"/><rect x="1103.7" y="182.2" width="16.2" height="16.2"/><rect x="1103.7" y="187.4" width="16.2" height="16.2"/><rect x="1104.7" y="182.6" width="16.2" height="16.2"/><rect x="1104.7" y="187.8" width="16.2" height="16.2"/><rect x="1105.7" y="182.9" width="16.2" height="16.2"/><rect x="1105.7" y="188.1" width="16.2" height="16.2"/><rect x="1106.7" y="183.2" width="16.2" height="16.2"/><rect x="1106.7" y="188.4" width="16.2" height="16.2"/><rect x="1107.7" y="183.5" width="16.2" height="16.2"/><rect x="1107.7" y="188.7" width="16.2" height="16.2"/><rect x="1108.7" y="183.8" width="16.2" height="16.2"/><rect x="1108.7" y="189.0" width="16.2" height="16.2"/><rect x="1109.7" y="184.1" width="16.2" height="16.2"/><rect x="1109.7" y="189.3" width="16.2" height="16.2"/><rect x="1110.7" y="184.3" width="16.2" height="16.2"/><rect x="1110.7" y="189.5" width="16.2" height="16.2"/><rect x="1111.7" y="184.5" width="16.2" height="16.2"/><rect x="1111.7" y="189.7" width="16.2" height="16.2"/><rect x="1112.7" y="184.7" width="16.2" height="16.2"/><rect x="1112.7" y="189.9" width="16.2" height="16.2"/><rect x="1113.7" y="184.8" width="16.2" height="16.2"/><rect x="1113.7" y="190.0" width="16.2" height="16.2"/><rect x="1114.7" y="185.0" width="16.2" height="16.2"/><rect x="1114.7" y="190.2" width="16.2" height="16.2"/><rect x="1115.7" y="185.1" width="16.2" height="16.2"/><rect x="1115.7" y="190.3" width="16.2" height="16.2"/><rect x="1116.7" y="185.3" width="16.2" height="16.2"/><rect x="1116.7" y="190.5" width="16.2" height="16.2"/><rect x="1117.7" y="185.5" width="16.2" height="16.2"/><rect x="1117.7" y="190.7" width="16.2" height="16.2"/><rect x="1118.7" y="185.6" width="16.2" height="16.2"/><rect x="1118.7" y="190.8" width="16.2" height="16.2"/><rect x="1119.7" y="185.8" width="16.2" height="16.2"/><rect x="1119.7" y="191.0" width="16.2" height="16.2"/><rect x="1120.7" y="185.9" width="16.2" height="16.2"/><rect x="1120.7" y="191.1" width="16.2" height="16.2"/><rect x="1121.7" y="186.1" width="16.2" height="16.2"/><rect x="1121.7" y="191.3" width="16.2" height="16.2"/><rect x="1122.7" y="186.3" width="16.2" height="16.2"/><rect x="1122.7" y="191.5" width="16.2" height="16.2"/><rect x="1123.7" y="186.4" width="16.2" height="16.2"/><rect x="1123.7" y="191.6" width="16.2" height="16.2"/><rect x="1124.7" y="186.6" width="16.2" height="16.2"/><rect x="1124.7" y="191.8" width="16.2" height="16.2"/><rect x="1125.7" y="186.8" width="16.2" height="16.2"/><rect x="1125.7" y="192.0" width="16.2" height="16.2"/><rect x="1126.7" y="186.9" width="16.2" height="16.2"/><rect x="1126.7" y="192.1" width="16.2" height="16.2"/><rect x="1127.7" y="187.0" width="16.2" height="16.2"/><rect x="1127.7" y="192.2" width="16.2" height="16.2"/><rect x="1128.7" y="187.1" width="16.2" height="16.2"/><rect x="1128.7" y="192.3" width="16.2" height="16.2"/><rect x="1129.7" y="187.2" width="16.2" height="16.2"/><rect x="1129.7" y="192.4" width="16.2" height="16.2"/><rect x="1130.7" y="187.3" width="16.2" height="16.2"/><rect x="1130.7" y="192.5" width="16.2" height="16.2"/><rect x="1131.7" y="187.4" width="16.2" height="16.2"/><rect x="1131.7" y="192.6" width="16.2" height="16.2"/><rect x="1132.7" y="187.5" width="16.2" height="16.2"/><rect x="1132.7" y="192.7" width="16.2" height="16.2"/><rect x="1133.7" y="187.6" width="16.2" height="16.2"/><rect x="1133.7" y="192.8" width="16.2" height="16.2"/><rect x="1134.7" y="187.6" width="16.2" height="16.2"/><rect x="1134.7" y="192.8" width="16.2" height="16.2"/><rect x="1135.7" y="187.7" width="16.2" height="16.2"/><rect x="1135.7" y="192.9" width="16.2" height="16.2"/><rect x="1136.7" y="187.8" width="16.2" height="16.2"/><rect x="1136.7" y="193.0" width="16.2" height="16.2"/><rect x="1137.7" y="187.9" width="16.2" height="16.2"/><rect x="1137.7" y="193.1" width="16.2" height="16.2"/><rect x="1138.7" y="188.0" width="16.2" height="16.2"/><rect x="1138.7" y="193.2" width="16.2" height="16.2"/><rect x="1139.7" y="188.1" width="16.2" height="16.2"/><rect x="1139.7" y="193.3" width="16.2" height="16.2"/><rect x="1140.7" y="188.1" width="16.2" height="16.2"/><rect x="1140.7" y="193.3" width="16.2" height="16.2"/><rect x="1140.9" y="190.7" width="16.2" height="16.2"/><rect x="1140.9" y="185.7" width="16.2" height="16.2"/><rect x="1142.4" y="190.6" width="16.2" height="16.2"/><rect x="1142.4" y="185.6" width="16.2" height="16.2"/><rect x="1143.9" y="190.6" width="16.2" height="16.2"/><rect x="1143.9" y="185.6" width="16.2" height="16.2"/><rect x="1145.4" y="190.5" width="16.2" height="16.2"/><rect x="1145.4" y="185.5" width="16.2" height="16.2"/><rect x="1146.9" y="190.4" width="16.2" height="16.2"/><rect x="1146.9" y="185.4" width="16.2" height="16.2"/><rect x="1148.4" y="190.3" width="16.2" height="16.2"/><rect x="1148.4" y="185.3" width="16.2" height="16.2"/><rect x="1149.9" y="189.9" width="16.2" height="16.2"/><rect x="1149.9" y="184.9" width="16.2" height="16.2"/><rect x="1151.4" y="189.5" width="16.2" height="16.2"/><rect x="1151.4" y="184.5" width="16.2" height="16.2"/><rect x="1152.9" y="189.2" width="16.2" height="16.2"/><rect x="1152.9" y="184.2" width="16.2" height="16.2"/><rect x="1154.4" y="188.8" width="16.2" height="16.2"/><rect x="1154.4" y="183.8" width="16.2" height="16.2"/><rect x="1155.9" y="188.4" width="16.2" height="16.2"/><rect x="1155.9" y="183.4" width="16.2" height="16.2"/><rect x="1157.4" y="188.0" width="16.2" height="16.2"/><rect x="1157.4" y="183.0" width="16.2" height="16.2"/><rect x="1158.9" y="187.7" width="16.2" height="16.2"/><rect x="1158.9" y="182.7" width="16.2" height="16.2"/><rect x="1160.4" y="187.3" width="16.2" height="16.2"/><rect x="1160.4" y="182.3" width="16.2" height="16.2"/><rect x="1161.9" y="186.9" width="16.2" height="16.2"/><rect x="1161.9" y="181.9" width="16.2" height="16.2"/><rect x="1163.4" y="186.9" width="16.2" height="16.2"/><rect x="1163.4" y="181.9" width="16.2" height="16.2"/><rect x="1164.9" y="186.9" width="16.2" height="16.2"/><rect x="1164.9" y="181.9" width="16.2" height="16.2"/><rect x="1166.4" y="186.9" width="16.2" height="16.2"/><rect x="1166.4" y="181.9" width="16.2" height="16.2"/><rect x="1167.9" y="186.9" width="16.2" height="16.2"/><rect x="1167.9" y="181.9" width="16.2" height="16.2"/><rect x="1169.4" y="186.9" width="16.2" height="16.2"/><rect x="1169.4" y="181.9" width="16.2" height="16.2"/><rect x="1170.9" y="186.9" width="16.2" height="16.2"/><rect x="1170.9" y="181.9" width="16.2" height="16.2"/><rect x="1172.4" y="186.9" width="16.2" height="16.2"/><rect x="1172.4" y="181.9" width="16.2" height="16.2"/><rect x="1173.9" y="186.9" width="16.2" height="16.2"/><rect x="1173.9" y="181.9" width="16.2" height="16.2"/><rect x="1175.4" y="186.5" width="16.2" height="16.2"/><rect x="1175.4" y="181.5" width="16.2" height="16.2"/><rect x="1176.9" y="186.2" width="16.2" height="16.2"/><rect x="1176.9" y="181.2" width="16.2" height="16.2"/><rect x="1178.4" y="185.8" width="16.2" height="16.2"/><rect x="1178.4" y="180.8" width="16.2" height="16.2"/><rect x="1179.9" y="185.4" width="16.2" height="16.2"/><rect x="1179.9" y="180.4" width="16.2" height="16.2"/><rect x="1181.4" y="185.1" width="16.2" height="16.2"/><rect x="1181.4" y="180.1" width="16.2" height="16.2"/><rect x="1182.9" y="184.7" width="16.2" height="16.2"/><rect x="1182.9" y="179.7" width="16.2" height="16.2"/><rect x="1184.4" y="184.3" width="16.2" height="16.2"/><rect x="1184.4" y="179.3" width="16.2" height="16.2"/><rect x="1185.9" y="184.0" width="16.2" height="16.2"/><rect x="1185.9" y="179.0" width="16.2" height="16.2"/><rect x="1187.4" y="183.6" width="16.2" height="16.2"/><rect x="1187.4" y="178.6" width="16.2" height="16.2"/><rect x="1188.9" y="183.2" width="16.2" height="16.2"/><rect x="1188.9" y="178.2" width="16.2" height="16.2"/><rect x="1190.4" y="182.9" width="16.2" height="16.2"/><rect x="1190.4" y="177.9" width="16.2" height="16.2"/><rect x="1191.9" y="182.5" width="16.2" height="16.2"/><rect x="1191.9" y="177.5" width="16.2" height="16.2"/><rect x="1193.4" y="182.5" width="16.2" height="16.2"/><rect x="1193.4" y="177.5" width="16.2" height="16.2"/><rect x="1194.9" y="182.4" width="16.2" height="16.2"/><rect x="1194.9" y="177.4" width="16.2" height="16.2"/><rect x="1196.4" y="182.4" width="16.2" height="16.2"/><rect x="1196.4" y="177.4" width="16.2" height="16.2"/><rect x="1197.9" y="182.4" width="16.2" height="16.2"/><rect x="1197.9" y="177.4" width="16.2" height="16.2"/><rect x="1199.4" y="182.3" width="16.2" height="16.2"/><rect x="1199.4" y="177.3" width="16.2" height="16.2"/><rect x="1200.9" y="182.3" width="16.2" height="16.2"/><rect x="1200.9" y="177.3" width="16.2" height="16.2"/><rect x="1202.4" y="182.3" width="16.2" height="16.2"/><rect x="1202.4" y="177.3" width="16.2" height="16.2"/><rect x="1203.9" y="182.2" width="16.2" height="16.2"/><rect x="1203.9" y="177.2" width="16.2" height="16.2"/><rect x="1205.4" y="182.2" width="16.2" height="16.2"/><rect x="1205.4" y="177.2" width="16.2" height="16.2"/><rect x="1206.9" y="182.2" width="16.2" height="16.2"/><rect x="1206.9" y="177.2" width="16.2" height="16.2"/><rect x="1208.4" y="182.1" width="16.2" height="16.2"/><rect x="1208.4" y="177.1" width="16.2" height="16.2"/><rect x="1209.9" y="182.1" width="16.2" height="16.2"/><rect x="1209.9" y="177.1" width="16.2" height="16.2"/><rect x="1211.4" y="182.1" width="16.2" height="16.2"/><rect x="1211.4" y="177.1" width="16.2" height="16.2"/><rect x="1212.9" y="182.0" width="16.2" height="16.2"/><rect x="1212.9" y="177.0" width="16.2" height="16.2"/><rect x="1214.4" y="182.0" width="16.2" height="16.2"/><rect x="1214.4" y="177.0" width="16.2" height="16.2"/><rect x="1215.9" y="182.0" width="16.2" height="16.2"/><rect x="1215.9" y="177.0" width="16.2" height="16.2"/><rect x="1217.4" y="181.9" width="16.2" height="16.2"/><rect x="1217.4" y="176.9" width="16.2" height="16.2"/><rect x="1218.9" y="181.9" width="16.2" height="16.2"/><rect x="1218.9" y="176.9" width="16.2" height="16.2"/><rect x="1220.4" y="181.9" width="16.2" height="16.2"/><rect x="1220.4" y="176.9" width="16.2" height="16.2"/><rect x="1221.9" y="181.8" width="16.2" height="16.2"/><rect x="1221.9" y="176.8" width="16.2" height="16.2"/><rect x="1223.4" y="181.8" width="16.2" height="16.2"/><rect x="1223.4" y="176.8" width="16.2" height="16.2"/><rect x="1224.9" y="181.8" width="16.2" height="16.2"/><rect x="1224.9" y="176.8" width="16.2" height="16.2"/><rect x="1226.4" y="181.7" width="16.2" height="16.2"/><rect x="1226.4" y="176.7" width="16.2" height="16.2"/><rect x="1227.9" y="181.7" width="16.2" height="16.2"/><rect x="1227.9" y="176.7" width="16.2" height="16.2"/><rect x="1229.4" y="181.7" width="16.2" height="16.2"/><rect x="1229.4" y="176.7" width="16.2" height="16.2"/><rect x="1230.9" y="181.6" width="16.2" height="16.2"/><rect x="1230.9" y="176.6" width="16.2" height="16.2"/><rect x="1232.4" y="181.6" width="16.2" height="16.2"/><rect x="1232.4" y="176.6" width="16.2" height="16.2"/><rect x="1233.9" y="181.6" width="16.2" height="16.2"/><rect x="1233.9" y="176.6" width="16.2" height="16.2"/><rect x="1235.4" y="181.5" width="16.2" height="16.2"/><rect x="1235.4" y="176.5" width="16.2" height="16.2"/><rect x="1236.9" y="181.5" width="16.2" height="16.2"/><rect x="1236.9" y="176.5" width="16.2" height="16.2"/><rect x="1238.4" y="181.5" width="16.2" height="16.2"/><rect x="1238.4" y="176.5" width="16.2" height="16.2"/><rect x="1239.9" y="181.4" width="16.2" height="16.2"/><rect x="1239.9" y="176.4" width="16.2" height="16.2"/><rect x="1241.4" y="181.4" width="16.2" height="16.2"/><rect x="1241.4" y="176.4" width="16.2" height="16.2"/><rect x="1242.9" y="181.4" width="16.2" height="16.2"/><rect x="1242.9" y="176.4" width="16.2" height="16.2"/><rect x="1244.4" y="181.3" width="16.2" height="16.2"/><rect x="1244.4" y="176.3" width="16.2" height="16.2"/><rect x="1245.9" y="181.3" width="16.2" height="16.2"/><rect x="1245.9" y="176.3" width="16.2" height="16.2"/><rect x="1247.4" y="181.2" width="16.2" height="16.2"/><rect x="1247.4" y="176.2" width="16.2" height="16.2"/><rect x="1248.9" y="181.2" width="16.2" height="16.2"/><rect x="1248.9" y="176.2" width="16.2" height="16.2"/><rect x="1250.4" y="181.2" width="16.2" height="16.2"/><rect x="1250.4" y="176.2" width="16.2" height="16.2"/><rect x="1251.9" y="181.1" width="16.2" height="16.2"/><rect x="1251.9" y="176.1" width="16.2" height="16.2"/><rect x="1253.4" y="181.1" width="16.2" height="16.2"/><rect x="1253.4" y="176.1" width="16.2" height="16.2"/><rect x="1254.9" y="181.0" width="16.2" height="16.2"/><rect x="1254.9" y="176.0" width="16.2" height="16.2"/><rect x="1256.4" y="181.0" width="16.2" height="16.2"/><rect x="1256.4" y="176.0" width="16.2" height="16.2"/><rect x="1257.9" y="181.0" width="16.2" height="16.2"/><rect x="1257.9" y="176.0" width="16.2" height="16.2"/><rect x="1259.4" y="180.9" width="16.2" height="16.2"/><rect x="1259.4" y="175.9" width="16.2" height="16.2"/><rect x="1260.9" y="180.9" width="16.2" height="16.2"/><rect x="1260.9" y="175.9" width="16.2" height="16.2"/><rect x="1262.4" y="180.8" width="16.2" height="16.2"/><rect x="1262.4" y="175.8" width="16.2" height="16.2"/><rect x="1263.9" y="180.8" width="16.2" height="16.2"/><rect x="1263.9" y="175.8" width="16.2" height="16.2"/><rect x="1265.4" y="180.8" width="16.2" height="16.2"/><rect x="1265.4" y="175.8" width="16.2" height="16.2"/><rect x="1266.9" y="180.7" width="16.2" height="16.2"/><rect x="1266.9" y="175.7" width="16.2" height="16.2"/><rect x="1268.4" y="180.7" width="16.2" height="16.2"/><rect x="1268.4" y="175.7" width="16.2" height="16.2"/><rect x="1269.9" y="180.6" width="16.2" height="16.2"/><rect x="1269.9" y="175.6" width="16.2" height="16.2"/><rect x="1271.4" y="180.6" width="16.2" height="16.2"/><rect x="1271.4" y="175.6" width="16.2" height="16.2"/><rect x="1272.9" y="180.5" width="16.2" height="16.2"/><rect x="1272.9" y="175.5" width="16.2" height="16.2"/><rect x="1274.4" y="180.5" width="16.2" height="16.2"/><rect x="1274.4" y="175.5" width="16.2" height="16.2"/><rect x="1275.9" y="180.5" width="16.2" height="16.2"/><rect x="1275.9" y="175.5" width="16.2" height="16.2"/><rect x="1277.4" y="180.4" width="16.2" height="16.2"/><rect x="1277.4" y="175.4" width="16.2" height="16.2"/><rect x="1278.9" y="180.4" width="16.2" height="16.2"/><rect x="1278.9" y="175.4" width="16.2" height="16.2"/><rect x="1280.4" y="180.3" width="16.2" height="16.2"/><rect x="1280.4" y="175.3" width="16.2" height="16.2"/><rect x="1281.9" y="167.0" width="16.2" height="16.2"/><rect x="1281.9" y="171.9" width="16.2" height="16.2"/><rect x="1281.9" y="176.1" width="16.2" height="16.2"/><rect x="1283.4" y="167.0" width="16.2" height="16.2"/><rect x="1283.4" y="171.9" width="16.2" height="16.2"/><rect x="1283.4" y="176.1" width="16.2" height="16.2"/><rect x="1284.9" y="167.0" width="16.2" height="16.2"/><rect x="1284.9" y="171.9" width="16.2" height="16.2"/><rect x="1284.9" y="176.1" width="16.2" height="16.2"/><rect x="1286.4" y="167.0" width="16.2" height="16.2"/><rect x="1286.4" y="171.9" width="16.2" height="16.2"/><rect x="1286.4" y="176.1" width="16.2" height="16.2"/><rect x="1287.9" y="167.0" width="16.2" height="16.2"/><rect x="1287.9" y="171.9" width="16.2" height="16.2"/><rect x="1287.9" y="176.1" width="16.2" height="16.2"/><rect x="1289.4" y="167.0" width="16.2" height="16.2"/><rect x="1289.4" y="171.9" width="16.2" height="16.2"/><rect x="1289.4" y="176.1" width="16.2" height="16.2"/><rect x="1290.9" y="167.0" width="16.2" height="16.2"/><rect x="1290.9" y="171.9" width="16.2" height="16.2"/><rect x="1290.9" y="176.1" width="16.2" height="16.2"/><rect x="1292.4" y="167.0" width="16.2" height="16.2"/><rect x="1292.4" y="171.9" width="16.2" height="16.2"/><rect x="1292.4" y="176.1" width="16.2" height="16.2"/><rect x="1293.9" y="167.0" width="16.2" height="16.2"/><rect x="1293.9" y="171.9" width="16.2" height="16.2"/><rect x="1293.9" y="176.1" width="16.2" height="16.2"/><rect x="1295.4" y="167.0" width="16.2" height="16.2"/><rect x="1295.4" y="171.9" width="16.2" height="16.2"/><rect x="1295.4" y="176.1" width="16.2" height="16.2"/><rect x="1296.9" y="167.0" width="16.2" height="16.2"/><rect x="1296.9" y="171.9" width="16.2" height="16.2"/><rect x="1296.9" y="176.1" width="16.2" height="16.2"/><rect x="1298.4" y="167.0" width="16.2" height="16.2"/><rect x="1298.4" y="171.9" width="16.2" height="16.2"/><rect x="1298.4" y="176.1" width="16.2" height="16.2"/><rect x="1299.9" y="167.0" width="16.2" height="16.2"/><rect x="1299.9" y="171.9" width="16.2" height="16.2"/><rect x="1299.9" y="176.1" width="16.2" height="16.2"/><rect x="1301.4" y="167.0" width="16.2" height="16.2"/><rect x="1301.4" y="171.9" width="16.2" height="16.2"/><rect x="1301.4" y="176.1" width="16.2" height="16.2"/><rect x="1302.9" y="167.0" width="16.2" height="16.2"/><rect x="1302.9" y="171.9" width="16.2" height="16.2"/><rect x="1302.9" y="176.1" width="16.2" height="16.2"/><rect x="1304.4" y="167.0" width="16.2" height="16.2"/><rect x="1304.4" y="171.9" width="16.2" height="16.2"/><rect x="1304.4" y="176.1" width="16.2" height="16.2"/><rect x="1305.9" y="167.0" width="16.2" height="16.2"/><rect x="1305.9" y="171.9" width="16.2" height="16.2"/><rect x="1305.9" y="176.1" width="16.2" height="16.2"/><rect x="1307.4" y="167.0" width="16.2" height="16.2"/><rect x="1307.4" y="171.9" width="16.2" height="16.2"/><rect x="1307.4" y="176.1" width="16.2" height="16.2"/><rect x="1308.9" y="167.0" width="16.2" height="16.2"/><rect x="1308.9" y="171.9" width="16.2" height="16.2"/><rect x="1308.9" y="176.1" width="16.2" height="16.2"/><rect x="1310.4" y="167.0" width="16.2" height="16.2"/><rect x="1310.4" y="171.9" width="16.2" height="16.2"/><rect x="1310.4" y="176.1" width="16.2" height="16.2"/><rect x="1311.9" y="167.0" width="16.2" height="16.2"/><rect x="1311.9" y="171.9" width="16.2" height="16.2"/><rect x="1311.9" y="176.1" width="16.2" height="16.2"/><rect x="1313.4" y="167.0" width="16.2" height="16.2"/><rect x="1313.4" y="171.9" width="16.2" height="16.2"/><rect x="1313.4" y="176.1" width="16.2" height="16.2"/><rect x="1314.9" y="167.0" width="16.2" height="16.2"/><rect x="1314.9" y="171.9" width="16.2" height="16.2"/><rect x="1314.9" y="176.1" width="16.2" height="16.2"/><rect x="1316.4" y="167.0" width="16.2" height="16.2"/><rect x="1316.4" y="171.9" width="16.2" height="16.2"/><rect x="1316.4" y="176.1" width="16.2" height="16.2"/><rect x="1317.9" y="167.0" width="16.2" height="16.2"/><rect x="1317.9" y="171.9" width="16.2" height="16.2"/><rect x="1317.9" y="176.1" width="16.2" height="16.2"/><rect x="1319.4" y="167.0" width="16.2" height="16.2"/><rect x="1319.4" y="171.9" width="16.2" height="16.2"/><rect x="1319.4" y="176.1" width="16.2" height="16.2"/><rect x="1320.9" y="167.0" width="16.2" height="16.2"/><rect x="1320.9" y="171.9" width="16.2" height="16.2"/><rect x="1320.9" y="176.1" width="16.2" height="16.2"/><rect x="1322.4" y="167.0" width="16.2" height="16.2"/><rect x="1322.4" y="171.9" width="16.2" height="16.2"/><rect x="1322.4" y="176.1" width="16.2" height="16.2"/><rect x="1323.9" y="167.0" width="16.2" height="16.2"/><rect x="1323.9" y="171.9" width="16.2" height="16.2"/><rect x="1323.9" y="176.1" width="16.2" height="16.2"/><rect x="1325.4" y="167.0" width="16.2" height="16.2"/><rect x="1325.4" y="171.9" width="16.2" height="16.2"/><rect x="1325.4" y="176.1" width="16.2" height="16.2"/><rect x="1326.9" y="167.0" width="16.2" height="16.2"/><rect x="1326.9" y="171.9" width="16.2" height="16.2"/><rect x="1326.9" y="176.1" width="16.2" height="16.2"/><rect x="1328.4" y="167.0" width="16.2" height="16.2"/><rect x="1328.4" y="171.9" width="16.2" height="16.2"/><rect x="1328.4" y="176.1" width="16.2" height="16.2"/><rect x="1329.9" y="167.0" width="16.2" height="16.2"/><rect x="1329.9" y="171.9" width="16.2" height="16.2"/><rect x="1329.9" y="176.1" width="16.2" height="16.2"/><rect x="1331.4" y="167.0" width="16.2" height="16.2"/><rect x="1331.4" y="171.9" width="16.2" height="16.2"/><rect x="1331.4" y="176.1" width="16.2" height="16.2"/><rect x="1332.9" y="167.0" width="16.2" height="16.2"/><rect x="1332.9" y="171.9" width="16.2" height="16.2"/><rect x="1332.9" y="176.1" width="16.2" height="16.2"/><rect x="1334.4" y="167.0" width="16.2" height="16.2"/><rect x="1334.4" y="171.9" width="16.2" height="16.2"/><rect x="1334.4" y="176.1" width="16.2" height="16.2"/><rect x="1335.9" y="167.0" width="16.2" height="16.2"/><rect x="1335.9" y="171.9" width="16.2" height="16.2"/><rect x="1335.9" y="176.1" width="16.2" height="16.2"/><rect x="1337.4" y="167.0" width="16.2" height="16.2"/><rect x="1337.4" y="171.9" width="16.2" height="16.2"/><rect x="1337.4" y="176.1" width="16.2" height="16.2"/><rect x="1338.9" y="167.0" width="16.2" height="16.2"/><rect x="1338.9" y="171.9" width="16.2" height="16.2"/><rect x="1338.9" y="176.1" width="16.2" height="16.2"/><rect x="1340.4" y="167.0" width="16.2" height="16.2"/><rect x="1340.4" y="171.9" width="16.2" height="16.2"/><rect x="1340.4" y="176.1" width="16.2" height="16.2"/><rect x="1341.9" y="167.0" width="16.2" height="16.2"/><rect x="1341.9" y="171.9" width="16.2" height="16.2"/><rect x="1341.9" y="176.1" width="16.2" height="16.2"/><rect x="1343.4" y="167.0" width="16.2" height="16.2"/><rect x="1343.4" y="171.9" width="16.2" height="16.2"/><rect x="1343.4" y="176.1" width="16.2" height="16.2"/><rect x="1344.9" y="167.0" width="16.2" height="16.2"/><rect x="1344.9" y="171.9" width="16.2" height="16.2"/><rect x="1344.9" y="176.1" width="16.2" height="16.2"/><rect x="1346.4" y="167.0" width="16.2" height="16.2"/><rect x="1346.4" y="171.9" width="16.2" height="16.2"/><rect x="1346.4" y="176.1" width="16.2" height="16.2"/><rect x="1347.9" y="167.0" width="16.2" height="16.2"/><rect x="1347.9" y="171.9" width="16.2" height="16.2"/><rect x="1347.9" y="176.1" width="16.2" height="16.2"/><rect x="1349.4" y="167.0" width="16.2" height="16.2"/><rect x="1349.4" y="171.9" width="16.2" height="16.2"/><rect x="1349.4" y="176.1" width="16.2" height="16.2"/><rect x="1350.9" y="167.0" width="16.2" height="16.2"/><rect x="1350.9" y="171.9" width="16.2" height="16.2"/><rect x="1350.9" y="176.1" width="16.2" height="16.2"/><rect x="1352.4" y="167.0" width="16.2" height="16.2"/><rect x="1352.4" y="171.9" width="16.2" height="16.2"/><rect x="1352.4" y="176.1" width="16.2" height="16.2"/><rect x="1353.9" y="167.0" width="16.2" height="16.2"/><rect x="1353.9" y="171.9" width="16.2" height="16.2"/><rect x="1353.9" y="176.1" width="16.2" height="16.2"/><rect x="1355.4" y="167.0" width="16.2" height="16.2"/><rect x="1355.4" y="171.9" width="16.2" height="16.2"/><rect x="1355.4" y="176.1" width="16.2" height="16.2"/><rect x="1356.9" y="167.0" width="16.2" height="16.2"/><rect x="1356.9" y="171.9" width="16.2" height="16.2"/><rect x="1356.9" y="176.1" width="16.2" height="16.2"/><rect x="1358.4" y="167.0" width="16.2" height="16.2"/><rect x="1358.4" y="171.9" width="16.2" height="16.2"/><rect x="1358.4" y="176.1" width="16.2" height="16.2"/><rect x="1359.9" y="167.0" width="16.2" height="16.2"/><rect x="1359.9" y="171.9" width="16.2" height="16.2"/><rect x="1359.9" y="176.1" width="16.2" height="16.2"/><rect x="1361.4" y="167.0" width="16.2" height="16.2"/><rect x="1361.4" y="171.9" width="16.2" height="16.2"/><rect x="1361.4" y="176.1" width="16.2" height="16.2"/><rect x="1362.9" y="167.0" width="16.2" height="16.2"/><rect x="1362.9" y="171.9" width="16.2" height="16.2"/><rect x="1362.9" y="176.1" width="16.2" height="16.2"/><rect x="1364.4" y="167.0" width="16.2" height="16.2"/><rect x="1364.4" y="171.9" width="16.2" height="16.2"/><rect x="1364.4" y="176.1" width="16.2" height="16.2"/><rect x="1365.9" y="167.0" width="16.2" height="16.2"/><rect x="1365.9" y="171.9" width="16.2" height="16.2"/><rect x="1365.9" y="176.1" width="16.2" height="16.2"/><rect x="1367.4" y="167.0" width="16.2" height="16.2"/><rect x="1367.4" y="171.9" width="16.2" height="16.2"/><rect x="1367.4" y="176.1" width="16.2" height="16.2"/><rect x="1368.9" y="167.0" width="16.2" height="16.2"/><rect x="1368.9" y="171.9" width="16.2" height="16.2"/><rect x="1368.9" y="176.1" width="16.2" height="16.2"/><rect x="1370.4" y="167.0" width="16.2" height="16.2"/><rect x="1370.4" y="171.9" width="16.2" height="16.2"/><rect x="1370.4" y="176.1" width="16.2" height="16.2"/><rect x="1371.9" y="167.0" width="16.2" height="16.2"/><rect x="1371.9" y="171.9" width="16.2" height="16.2"/><rect x="1371.9" y="176.1" width="16.2" height="16.2"/><rect x="1373.4" y="167.0" width="16.2" height="16.2"/><rect x="1373.4" y="171.9" width="16.2" height="16.2"/><rect x="1373.4" y="176.1" width="16.2" height="16.2"/><rect x="1374.9" y="167.0" width="16.2" height="16.2"/><rect x="1374.9" y="171.9" width="16.2" height="16.2"/><rect x="1374.9" y="176.1" width="16.2" height="16.2"/><rect x="1376.4" y="167.0" width="16.2" height="16.2"/><rect x="1376.4" y="171.9" width="16.2" height="16.2"/><rect x="1376.4" y="176.1" width="16.2" height="16.2"/><rect x="1377.9" y="167.0" width="16.2" height="16.2"/><rect x="1377.9" y="171.9" width="16.2" height="16.2"/><rect x="1377.9" y="176.1" width="16.2" height="16.2"/><rect x="1379.4" y="167.0" width="16.2" height="16.2"/><rect x="1379.4" y="171.9" width="16.2" height="16.2"/><rect x="1379.4" y="176.1" width="16.2" height="16.2"/><rect x="1380.9" y="167.0" width="16.2" height="16.2"/><rect x="1380.9" y="171.9" width="16.2" height="16.2"/><rect x="1380.9" y="176.1" width="16.2" height="16.2"/><rect x="1382.4" y="167.0" width="16.2" height="16.2"/><rect x="1382.4" y="171.9" width="16.2" height="16.2"/><rect x="1382.4" y="176.1" width="16.2" height="16.2"/><rect x="1383.9" y="167.0" width="16.2" height="16.2"/><rect x="1383.9" y="171.9" width="16.2" height="16.2"/><rect x="1383.9" y="176.1" width="16.2" height="16.2"/><rect x="1385.4" y="167.0" width="16.2" height="16.2"/><rect x="1385.4" y="171.9" width="16.2" height="16.2"/><rect x="1385.4" y="176.1" width="16.2" height="16.2"/><rect x="1386.9" y="169.6" width="16.2" height="16.2"/><rect x="1386.9" y="171.9" width="16.2" height="16.2"/><rect x="1386.9" y="176.1" width="16.2" height="16.2"/><rect x="1388.4" y="169.6" width="16.2" height="16.2"/><rect x="1388.4" y="171.9" width="16.2" height="16.2"/><rect x="1388.4" y="176.1" width="16.2" height="16.2"/><rect x="1389.9" y="169.6" width="16.2" height="16.2"/><rect x="1389.9" y="171.9" width="16.2" height="16.2"/><rect x="1389.9" y="176.1" width="16.2" height="16.2"/><rect x="1391.4" y="169.6" width="16.2" height="16.2"/><rect x="1391.4" y="171.9" width="16.2" height="16.2"/><rect x="1391.4" y="176.1" width="16.2" height="16.2"/><rect x="1392.9" y="169.6" width="16.2" height="16.2"/><rect x="1392.9" y="171.9" width="16.2" height="16.2"/><rect x="1392.9" y="176.1" width="16.2" height="16.2"/><rect x="1394.4" y="169.6" width="16.2" height="16.2"/><rect x="1394.4" y="171.9" width="16.2" height="16.2"/><rect x="1394.4" y="176.1" width="16.2" height="16.2"/><rect x="1395.9" y="169.6" width="16.2" height="16.2"/><rect x="1395.9" y="171.9" width="16.2" height="16.2"/><rect x="1395.9" y="176.1" width="16.2" height="16.2"/><rect x="1397.4" y="169.6" width="16.2" height="16.2"/><rect x="1397.4" y="171.9" width="16.2" height="16.2"/><rect x="1397.4" y="176.1" width="16.2" height="16.2"/><rect x="1398.9" y="169.6" width="16.2" height="16.2"/><rect x="1398.9" y="171.9" width="16.2" height="16.2"/><rect x="1398.9" y="176.1" width="16.2" height="16.2"/><rect x="1400.4" y="169.6" width="16.2" height="16.2"/><rect x="1400.4" y="171.9" width="16.2" height="16.2"/><rect x="1400.4" y="176.1" width="16.2" height="16.2"/><rect x="1401.9" y="169.6" width="16.2" height="16.2"/><rect x="1401.9" y="171.9" width="16.2" height="16.2"/><rect x="1401.9" y="176.1" width="16.2" height="16.2"/><rect x="1403.4" y="169.6" width="16.2" height="16.2"/><rect x="1403.4" y="171.9" width="16.2" height="16.2"/><rect x="1403.4" y="176.1" width="16.2" height="16.2"/><rect x="1404.9" y="169.6" width="16.2" height="16.2"/><rect x="1404.9" y="171.9" width="16.2" height="16.2"/><rect x="1404.9" y="176.1" width="16.2" height="16.2"/><rect x="1406.4" y="169.6" width="16.2" height="16.2"/><rect x="1406.4" y="171.9" width="16.2" height="16.2"/><rect x="1406.4" y="176.1" width="16.2" height="16.2"/><rect x="1407.9" y="169.6" width="16.2" height="16.2"/><rect x="1407.9" y="171.9" width="16.2" height="16.2"/><rect x="1407.9" y="176.1" width="16.2" height="16.2"/><rect x="1409.4" y="169.6" width="16.2" height="16.2"/><rect x="1409.4" y="171.9" width="16.2" height="16.2"/><rect x="1409.4" y="176.1" width="16.2" height="16.2"/><rect x="1410.9" y="169.6" width="16.2" height="16.2"/><rect x="1410.9" y="171.9" width="16.2" height="16.2"/><rect x="1410.9" y="176.1" width="16.2" height="16.2"/><rect x="1412.4" y="169.6" width="16.2" height="16.2"/><rect x="1412.4" y="171.9" width="16.2" height="16.2"/><rect x="1412.4" y="176.1" width="16.2" height="16.2"/><rect x="1413.9" y="169.6" width="16.2" height="16.2"/><rect x="1413.9" y="171.9" width="16.2" height="16.2"/><rect x="1413.9" y="176.1" width="16.2" height="16.2"/><rect x="1415.4" y="169.6" width="16.2" height="16.2"/><rect x="1415.4" y="171.9" width="16.2" height="16.2"/><rect x="1415.4" y="176.1" width="16.2" height="16.2"/><rect x="1416.9" y="169.6" width="16.2" height="16.2"/><rect x="1416.9" y="171.9" width="16.2" height="16.2"/><rect x="1416.9" y="176.1" width="16.2" height="16.2"/><rect x="1418.4" y="169.6" width="16.2" height="16.2"/><rect x="1418.4" y="171.9" width="16.2" height="16.2"/><rect x="1418.4" y="176.1" width="16.2" height="16.2"/><rect x="1419.9" y="169.6" width="16.2" height="16.2"/><rect x="1419.9" y="171.9" width="16.2" height="16.2"/><rect x="1419.9" y="176.1" width="16.2" height="16.2"/><rect x="1421.4" y="169.6" width="16.2" height="16.2"/><rect x="1421.4" y="171.9" width="16.2" height="16.2"/><rect x="1421.4" y="176.1" width="16.2" height="16.2"/><rect x="1422.9" y="169.6" width="16.2" height="16.2"/><rect x="1422.9" y="171.9" width="16.2" height="16.2"/><rect x="1422.9" y="176.1" width="16.2" height="16.2"/><rect x="1424.4" y="169.6" width="16.2" height="16.2"/><rect x="1424.4" y="171.9" width="16.2" height="16.2"/><rect x="1424.4" y="176.1" width="16.2" height="16.2"/><rect x="1425.9" y="169.6" width="16.2" height="16.2"/><rect x="1425.9" y="171.9" width="16.2" height="16.2"/><rect x="1425.9" y="176.1" width="16.2" height="16.2"/><rect x="1427.4" y="169.6" width="16.2" height="16.2"/><rect x="1427.4" y="171.9" width="16.2" height="16.2"/><rect x="1427.4" y="176.1" width="16.2" height="16.2"/><rect x="1428.9" y="169.6" width="16.2" height="16.2"/><rect x="1428.9" y="171.9" width="16.2" height="16.2"/><rect x="1430.4" y="169.6" width="16.2" height="16.2"/><rect x="1430.4" y="171.9" width="16.2" height="16.2"/><rect x="1431.9" y="169.6" width="16.2" height="16.2"/><rect x="1431.9" y="171.9" width="16.2" height="16.2"/><rect x="1433.4" y="169.6" width="16.2" height="16.2"/><rect x="1433.4" y="171.9" width="16.2" height="16.2"/><rect x="1434.9" y="169.6" width="16.2" height="16.2"/><rect x="1434.9" y="171.9" width="16.2" height="16.2"/><rect x="1436.4" y="169.6" width="16.2" height="16.2"/><rect x="1436.4" y="171.9" width="16.2" height="16.2"/><rect x="1437.9" y="169.6" width="16.2" height="16.2"/><rect x="1437.9" y="171.9" width="16.2" height="16.2"/><rect x="1439.4" y="169.6" width="16.2" height="16.2"/><rect x="1439.4" y="171.9" width="16.2" height="16.2"/><rect x="1132.8" y="169.6" width="16.2" height="16.2"/><rect x="1150.9" y="169.6" width="16.2" height="16.2"/><rect x="1169.3" y="169.6" width="16.2" height="16.2"/><rect x="1187.6" y="169.6" width="16.2" height="16.2"/><rect x="1205.8" y="169.6" width="16.2" height="16.2"/><rect x="1223.8" y="168.6" width="16.2" height="16.2"/><rect x="1242.1" y="167.1" width="16.2" height="16.2"/><rect x="1260.3" y="167.1" width="16.2" height="16.2"/><rect x="1279.0" y="167.0" width="16.2" height="16.2"/><rect x="1297.6" y="178.6" width="16.2" height="16.2"/><rect x="1316.0" y="178.6" width="16.2" height="16.2"/><rect x="1334.4" y="178.6" width="16.2" height="16.2"/><rect x="1352.6" y="178.6" width="16.2" height="16.2"/><rect x="1371.0" y="178.6" width="16.2" height="16.2"/><rect x="1389.5" y="178.6" width="16.2" height="16.2"/><rect x="1409.3" y="180.6" width="16.2" height="16.2"/><rect x="1427.5" y="180.6" width="16.2" height="16.2"/><rect x="1172.9" y="190.9" width="16.2" height="16.2"/><rect x="1394.4" y="164.3" width="16.2" height="16.2"/><rect x="1395.9" y="164.3" width="16.2" height="16.2"/><rect x="1440.8" y="170.7" width="16.2" height="16.2"/><rect x="1434.8" y="170.7" width="16.2" height="16.2"/></g>
</g>
<g clip-path="url(#cb0)">
<g fill="#ff0000"><circle cx="150.6" cy="724.7" r="8.20"/><circle cx="150.8" cy="727.8" r="8.20"/><circle cx="151.0" cy="731.0" r="8.20"/><circle cx="151.2" cy="732.2" r="8.20"/><circle cx="151.4" cy="733.4" r="8.20"/><circle cx="151.6" cy="734.6" r="8.20"/><circle cx="151.8" cy="735.8" r="8.20"/><circle cx="152.0" cy="737.0" r="8.20"/><circle cx="152.0" cy="737.0" r="8.20"/><circle cx="153.0" cy="740.0" r="8.20"/><circle cx="154.0" cy="743.0" r="8.20"/><circle cx="155.0" cy="744.2" r="8.20"/><circle cx="156.0" cy="745.5" r="8.20"/><circle cx="157.0" cy="746.8" r="8.20"/><circle cx="158.0" cy="748.0" r="8.20"/><circle cx="159.0" cy="748.4" r="8.20"/><circle cx="160.0" cy="748.8" r="8.20"/><circle cx="161.0" cy="749.3" r="8.20"/><circle cx="162.0" cy="749.7" r="8.20"/><circle cx="163.0" cy="750.1" r="8.20"/><circle cx="164.0" cy="750.5" r="8.20"/><circle cx="165.0" cy="750.9" r="8.20"/><circle cx="166.0" cy="751.4" r="8.20"/><circle cx="167.0" cy="751.7" r="8.20"/><circle cx="168.0" cy="751.7" r="8.20"/><circle cx="169.0" cy="751.6" r="8.20"/><circle cx="170.0" cy="751.6" r="8.20"/><circle cx="171.0" cy="751.5" r="8.20"/><circle cx="172.0" cy="751.5" r="8.20"/><circle cx="173.0" cy="751.5" r="8.20"/><circle cx="174.0" cy="751.4" r="8.20"/><circle cx="175.0" cy="751.4" r="8.20"/><circle cx="176.0" cy="751.4" r="8.20"/><circle cx="177.0" cy="751.3" r="8.20"/><circle cx="178.0" cy="751.3" r="8.20"/><circle cx="179.0" cy="751.2" r="8.20"/><circle cx="180.0" cy="751.2" r="8.20"/><circle cx="181.0" cy="751.1" r="8.20"/><circle cx="182.0" cy="751.0" r="8.20"/><circle cx="183.0" cy="750.9" r="8.20"/><circle cx="184.0" cy="750.8" r="8.20"/><circle cx="185.0" cy="750.7" r="8.20"/><circle cx="186.0" cy="750.6" r="8.20"/><circle cx="187.0" cy="750.5" r="8.20"/><circle cx="188.0" cy="750.3" r="8.20"/><circle cx="189.0" cy="750.2" r="8.20"/><circle cx="190.0" cy="750.1" r="8.20"/><circle cx="191.0" cy="750.0" r="8.20"/><circle cx="192.0" cy="749.9" r="8.20"/><circle cx="193.0" cy="749.8" r="8.20"/><circle cx="194.0" cy="749.7" r="8.20"/><circle cx="195.0" cy="749.6" r="8.20"/><circle cx="196.0" cy="749.3" r="8.20"/><circle cx="197.0" cy="749.0" r="8.20"/><circle cx="198.0" cy="748.8" r="8.20"/><circle cx="199.0" cy="748.5" r="8.20"/><circle cx="200.0" cy="748.2" r="8.20"/><circle cx="201.0" cy="747.9" r="8.20"/><circle cx="202.0" cy="747.7" r="8.20"/><circle cx="203.0" cy="747.4" r="8.20"/><circle cx="204.0" cy="747.1" r="8.20"/><circle cx="205.0" cy="746.8" r="8.20"/><circle cx="206.0" cy="746.6" r="8.20"/><circle cx="207.0" cy="746.3" r="8.20"/><circle cx="208.0" cy="746.0" r="8.20"/><circle cx="209.0" cy="745.7" r="8.20"/><circle cx="210.0" cy="745.4" r="8.20"/><circle cx="211.0" cy="745.1" r="8.20"/><circle cx="212.0" cy="744.8" r="8.20"/><circle cx="213.0" cy="744.5" r="8.20"/><circle cx="214.0" cy="744.2" r="8.20"/><circle cx="215.0" cy="743.8" r="8.20"/><circle cx="216.0" cy="743.5" r="8.20"/><circle cx="217.0" cy="743.2" r="8.20"/><circle cx="218.0" cy="742.9" r="8.20"/><circle cx="219.0" cy="742.6" r="8.20"/><circle cx="220.0" cy="742.3" r="8.20"/><circle cx="221.0" cy="742.0" r="8.20"/><circle cx="222.0" cy="741.6" r="8.20"/><circle cx="223.0" cy="741.2" r="8.20"/><circle cx="224.0" cy="740.8" r="8.20"/><circle cx="225.0" cy="740.4" r="8.20"/><circle cx="226.0" cy="740.0" r="8.20"/><circle cx="227.0" cy="739.6" r="8.20"/><circle cx="228.0" cy="739.2" r="8.20"/><circle cx="229.0" cy="738.8" r="8.20"/><circle cx="230.0" cy="738.4" r="8.20"/><circle cx="232.0" cy="737.6" r="8.20"/><circle cx="234.0" cy="736.8" r="8.20"/><circle cx="236.0" cy="736.0" r="8.20"/><circle cx="238.0" cy="735.2" r="8.20"/><circle cx="240.0" cy="734.7" r="8.20"/><circle cx="242.0" cy="734.2" r="8.20"/><circle cx="244.0" cy="733.7" r="8.20"/><circle cx="246.0" cy="733.2" r="8.20"/><circle cx="248.0" cy="732.7" r="8.20"/><circle cx="250.0" cy="732.2" r="8.20"/><circle cx="252.0" cy="731.7" r="8.20"/><circle cx="254.0" cy="731.2" r="8.20"/><circle cx="256.0" cy="730.7" r="8.20"/><circle cx="258.0" cy="730.2" r="8.20"/><circle cx="260.0" cy="729.7" r="8.20"/><circle cx="262.0" cy="729.2" r="8.20"/><circle cx="264.0" cy="728.7" r="8.20"/><circle cx="266.0" cy="728.2" r="8.20"/><circle cx="268.0" cy="727.7" r="8.20"/><circle cx="270.0" cy="727.2" r="8.20"/><circle cx="272.0" cy="726.7" r="8.20"/><circle cx="274.0" cy="726.2" r="8.20"/><circle cx="276.0" cy="725.7" r="8.20"/><circle cx="278.0" cy="725.2" r="8.20"/><circle cx="280.0" cy="724.7" r="8.20"/><circle cx="282.0" cy="724.2" r="8.20"/><circle cx="284.0" cy="723.8" r="8.20"/><circle cx="286.0" cy="723.4" r="8.20"/><circle cx="288.0" cy="723.0" r="8.20"/><circle cx="290.0" cy="722.6" r="8.20"/><circle cx="292.0" cy="722.2" r="8.20"/><circle cx="294.0" cy="721.8" r="8.20"/><circle cx="296.0" cy="721.4" r="8.20"/><circle cx="298.0" cy="721.0" r="8.20"/><circle cx="300.0" cy="720.6" r="8.20"/><circle cx="302.0" cy="720.2" r="8.20"/><circle cx="304.0" cy="719.8" r="8.20"/><circle cx="306.0" cy="719.4" r="8.20"/><circle cx="308.0" cy="719.0" r="8.20"/><circle cx="310.0" cy="718.6" r="8.20"/><circle cx="312.0" cy="718.2" r="8.20"/><circle cx="314.0" cy="717.8" r="8.20"/><circle cx="316.0" cy="717.4" r="8.20"/><circle cx="318.0" cy="717.0" r="8.20"/><circle cx="320.0" cy="716.6" r="8.20"/><circle cx="322.0" cy="716.2" r="8.20"/><circle cx="324.0" cy="715.8" r="8.20"/><circle cx="326.0" cy="715.4" r="8.20"/><circle cx="328.0" cy="714.9" r="8.20"/><circle cx="330.0" cy="714.5" r="8.20"/><circle cx="332.0" cy="714.1" r="8.20"/><circle cx="334.0" cy="713.7" r="8.20"/><circle cx="336.0" cy="713.3" r="8.20"/><circle cx="338.0" cy="712.9" r="8.20"/><circle cx="340.0" cy="712.5" r="8.20"/><circle cx="342.0" cy="712.1" r="8.20"/><circle cx="344.0" cy="711.7" r="8.20"/><circle cx="346.0" cy="711.3" r="8.20"/><circle cx="348.0" cy="710.9" r="8.20"/><circle cx="350.0" cy="710.5" r="8.20"/><circle cx="352.0" cy="710.1" r="8.20"/><circle cx="354.0" cy="709.7" r="8.20"/><circle cx="356.0" cy="709.3" r="8.20"/><circle cx="358.0" cy="708.9" r="8.20"/><circle cx="360.0" cy="708.5" r="8.20"/><circle cx="362.0" cy="708.1" r="8.20"/><circle cx="364.0" cy="707.7" r="8.20"/><circle cx="366.0" cy="707.3" r="8.20"/><circle cx="368.0" cy="706.9" r="8.20"/><circle cx="370.0" cy="706.5" r="8.20"/><circle cx="372.0" cy="706.1" r="8.20"/><circle cx="374.0" cy="705.7" r="8.20"/><circle cx="376.0" cy="705.3" r="8.20"/><circle cx="378.0" cy="704.9" r="8.20"/><circle cx="380.0" cy="704.5" r="8.20"/><circle cx="382.0" cy="704.1" r="8.20"/><circle cx="384.0" cy="703.7" r="8.20"/><circle cx="386.0" cy="703.3" r="8.20"/><circle cx="388.0" cy="702.9" r="8.20"/><circle cx="390.0" cy="702.5" r="8.20"/><circle cx="392.0" cy="702.1" r="8.20"/><circle cx="394.0" cy="701.7" r="8.20"/><circle cx="396.0" cy="701.3" r="8.20"/><circle cx="398.0" cy="700.9" r="8.20"/><circle cx="400.0" cy="700.5" r="8.20"/><circle cx="402.0" cy="700.1" r="8.20"/><circle cx="404.0" cy="699.7" r="8.20"/><circle cx="406.0" cy="699.3" r="8.20"/><circle cx="408.0" cy="698.9" r="8.20"/><circle cx="410.0" cy="698.5" r="8.20"/><circle cx="412.0" cy="698.1" r="8.20"/><circle cx="414.0" cy="697.7" r="8.20"/><circle cx="416.0" cy="697.3" r="8.20"/><circle cx="418.0" cy="696.9" r="8.20"/><circle cx="420.0" cy="696.5" r="8.20"/><circle cx="422.0" cy="696.1" r="8.20"/><circle cx="424.0" cy="695.7" r="8.20"/><circle cx="426.0" cy="695.3" r="8.20"/><circle cx="428.0" cy="694.9" r="8.20"/><circle cx="430.0" cy="694.5" r="8.20"/><circle cx="432.0" cy="694.1" r="8.20"/><circle cx="434.0" cy="693.7" r="8.20"/><circle cx="436.0" cy="693.3" r="8.20"/><circle cx="438.0" cy="692.9" r="8.20"/><circle cx="440.0" cy="692.5" r="8.20"/><circle cx="442.0" cy="692.1" r="8.20"/><circle cx="444.0" cy="691.7" r="8.20"/><circle cx="446.0" cy="691.2" r="8.20"/><circle cx="448.0" cy="690.8" r="8.20"/><circle cx="450.0" cy="690.4" r="8.20"/><circle cx="452.0" cy="690.0" r="8.20"/><circle cx="454.0" cy="689.6" r="8.20"/><circle cx="456.0" cy="689.2" r="8.20"/><circle cx="458.0" cy="688.8" r="8.20"/><circle cx="460.0" cy="688.4" r="8.20"/><circle cx="462.0" cy="688.0" r="8.20"/><circle cx="464.0" cy="687.6" r="8.20"/><circle cx="466.0" cy="687.2" r="8.20"/><circle cx="468.0" cy="686.8" r="8.20"/><circle cx="470.0" cy="686.4" r="8.20"/><circle cx="472.0" cy="686.0" r="8.20"/><circle cx="474.0" cy="685.6" r="8.20"/><circle cx="476.0" cy="685.2" r="8.20"/><circle cx="478.0" cy="684.8" r="8.20"/><circle cx="480.0" cy="684.4" r="8.20"/><circle cx="482.0" cy="684.0" r="8.20"/><circle cx="484.0" cy="683.6" r="8.20"/><circle cx="486.0" cy="683.2" r="8.20"/><circle cx="488.0" cy="682.8" r="8.20"/><circle cx="490.0" cy="682.4" r="8.20"/><circle cx="492.0" cy="681.9" r="8.20"/><circle cx="494.0" cy="681.5" r="8.20"/><circle cx="496.0" cy="681.1" r="8.20"/><circle cx="498.0" cy="680.7" r="8.20"/><circle cx="500.0" cy="680.3" r="8.20"/><circle cx="502.0" cy="679.9" r="8.20"/><circle cx="504.0" cy="679.5" r="8.20"/><circle cx="506.0" cy="679.1" r="8.20"/><circle cx="508.0" cy="678.7" r="8.20"/><circle cx="510.0" cy="678.3" r="8.20"/><circle cx="512.0" cy="677.9" r="8.20"/><circle cx="514.0" cy="677.5" r="8.20"/><circle cx="516.0" cy="677.1" r="8.20"/><circle cx="518.0" cy="676.7" r="8.20"/><circle cx="520.0" cy="676.3" r="8.20"/><circle cx="522.0" cy="675.9" r="8.20"/><circle cx="524.0" cy="675.5" r="8.20"/><circle cx="526.0" cy="675.1" r="8.20"/><circle cx="528.0" cy="674.7" r="8.20"/><circle cx="530.0" cy="674.3" r="8.20"/><circle cx="532.0" cy="673.9" r="8.20"/><circle cx="534.0" cy="673.5" r="8.20"/><circle cx="536.0" cy="673.1" r="8.20"/><circle cx="538.0" cy="672.6" r="8.20"/><circle cx="540.0" cy="672.2" r="8.20"/><circle cx="542.0" cy="671.8" r="8.20"/><circle cx="544.0" cy="671.4" r="8.20"/><circle cx="546.0" cy="671.0" r="8.20"/><circle cx="548.0" cy="670.6" r="8.20"/><circle cx="550.0" cy="670.2" r="8.20"/><circle cx="552.0" cy="669.8" r="8.20"/><circle cx="554.0" cy="669.4" r="8.20"/><circle cx="556.0" cy="669.0" r="8.20"/><circle cx="558.0" cy="668.6" r="8.20"/><circle cx="560.0" cy="668.2" r="8.20"/><circle cx="562.0" cy="667.7" r="8.20"/><circle cx="564.0" cy="667.2" r="8.20"/><circle cx="566.0" cy="666.8" r="8.20"/><circle cx="568.0" cy="666.3" r="8.20"/><circle cx="570.0" cy="665.8" r="8.20"/><circle cx="572.0" cy="665.3" r="8.20"/><circle cx="574.0" cy="664.9" r="8.20"/><circle cx="576.0" cy="664.4" r="8.20"/><circle cx="578.0" cy="663.9" r="8.20"/><circle cx="580.0" cy="663.4" r="8.20"/><circle cx="582.0" cy="663.0" r="8.20"/><circle cx="584.0" cy="662.5" r="8.20"/><circle cx="586.0" cy="662.0" r="8.20"/><circle cx="588.0" cy="661.5" r="8.20"/><circle cx="590.0" cy="661.1" r="8.20"/><circle cx="592.0" cy="660.6" r="8.20"/><circle cx="594.0" cy="660.1" r="8.20"/><circle cx="596.0" cy="659.6" r="8.20"/><circle cx="598.0" cy="659.1" r="8.20"/><circle cx="600.0" cy="658.7" r="8.20"/><circle cx="602.0" cy="658.2" r="8.20"/><circle cx="604.0" cy="657.7" r="8.20"/><circle cx="606.0" cy="657.2" r="8.20"/><circle cx="608.0" cy="656.8" r="8.20"/><circle cx="610.0" cy="656.3" r="8.20"/><circle cx="612.0" cy="655.8" r="8.20"/><circle cx="614.0" cy="655.3" r="8.20"/><circle cx="616.0" cy="654.9" r="8.20"/><circle cx="618.0" cy="654.4" r="8.20"/><circle cx="620.0" cy="653.9" r="8.20"/><circle cx="622.0" cy="653.4" r="8.20"/><circle cx="624.0" cy="652.9" r="8.20"/><circle cx="626.0" cy="652.5" r="8.20"/><circle cx="628.0" cy="652.0" r="8.20"/><circle cx="630.0" cy="651.5" r="8.20"/><circle cx="632.0" cy="651.0" r="8.20"/><circle cx="634.0" cy="650.6" r="8.20"/><circle cx="636.0" cy="650.1" r="8.20"/><circle cx="638.0" cy="649.5" r="8.20"/><circle cx="640.0" cy="649.0" r="8.20"/><circle cx="642.0" cy="648.5" r="8.20"/><circle cx="644.0" cy="648.0" r="8.20"/><circle cx="646.0" cy="647.4" r="8.20"/><circle cx="648.0" cy="646.9" r="8.20"/><circle cx="650.0" cy="646.4" r="8.20"/><circle cx="652.0" cy="645.9" r="8.20"/><circle cx="654.0" cy="645.3" r="8.20"/><circle cx="656.0" cy="644.8" r="8.20"/><circle cx="658.0" cy="644.3" r="8.20"/><circle cx="660.0" cy="643.8" r="8.20"/><circle cx="662.0" cy="643.2" r="8.20"/><circle cx="664.0" cy="642.7" r="8.20"/><circle cx="666.0" cy="642.2" r="8.20"/><circle cx="668.0" cy="641.7" r="8.20"/><circle cx="670.0" cy="641.1" r="8.20"/><circle cx="672.0" cy="640.6" r="8.20"/><circle cx="674.0" cy="640.1" r="8.20"/><circle cx="676.0" cy="639.6" r="8.20"/><circle cx="678.0" cy="639.0" r="8.20"/><circle cx="680.0" cy="638.5" r="8.20"/><circle cx="682.0" cy="638.0" r="8.20"/><circle cx="684.0" cy="637.5" r="8.20"/><circle cx="686.0" cy="636.9" r="8.20"/><circle cx="688.0" cy="636.4" r="8.20"/><circle cx="690.0" cy="635.9" r="8.20"/><circle cx="692.0" cy="635.4" r="8.20"/><circle cx="694.0" cy="634.8" r="8.20"/><circle cx="696.0" cy="634.3" r="8.20"/><circle cx="698.0" cy="633.8" r="8.20"/><circle cx="700.0" cy="633.3" r="8.20"/><circle cx="702.0" cy="632.7" r="8.20"/><circle cx="704.0" cy="632.2" r="8.20"/><circle cx="706.0" cy="631.7" r="8.20"/><circle cx="708.0" cy="631.2" r="8.20"/><circle cx="710.0" cy="630.6" r="8.20"/><circle cx="712.0" cy="630.1" r="8.20"/><circle cx="714.0" cy="629.5" r="8.20"/><circle cx="716.0" cy="629.0" r="8.20"/><circle cx="718.0" cy="628.4" r="8.20"/><circle cx="720.0" cy="627.9" r="8.20"/><circle cx="722.0" cy="627.3" r="8.20"/><circle cx="724.0" cy="626.8" r="8.20"/><circle cx="726.0" cy="626.2" r="8.20"/><circle cx="728.0" cy="625.7" r="8.20"/><circle cx="730.0" cy="625.1" r="8.20"/><circle cx="732.0" cy="624.6" r="8.20"/><circle cx="734.0" cy="624.0" r="8.20"/><circle cx="736.0" cy="623.5" r="8.20"/><circle cx="738.0" cy="622.9" r="8.20"/><circle cx="740.0" cy="622.4" r="8.20"/><circle cx="742.0" cy="621.8" r="8.20"/><circle cx="744.0" cy="621.3" r="8.20"/><circle cx="746.0" cy="620.7" r="8.20"/><circle cx="748.0" cy="620.2" r="8.20"/><circle cx="750.0" cy="619.8" r="8.20"/><circle cx="752.0" cy="619.3" r="8.20"/><circle cx="754.0" cy="618.8" r="8.20"/><circle cx="756.0" cy="618.4" r="8.20"/><circle cx="758.0" cy="617.9" r="8.20"/><circle cx="760.0" cy="617.4" r="8.20"/><circle cx="762.0" cy="617.0" r="8.20"/><circle cx="764.0" cy="616.5" r="8.20"/><circle cx="766.0" cy="616.0" r="8.20"/><circle cx="768.0" cy="615.5" r="8.20"/><circle cx="770.0" cy="615.1" r="8.20"/><circle cx="772.0" cy="614.6" r="8.20"/><circle cx="774.0" cy="614.1" r="8.20"/><circle cx="776.0" cy="613.7" r="8.20"/><circle cx="778.0" cy="613.2" r="8.20"/><circle cx="780.0" cy="612.7" r="8.20"/><circle cx="782.0" cy="612.3" r="8.20"/><circle cx="784.0" cy="611.8" r="8.20"/><circle cx="786.0" cy="611.3" r="8.20"/><circle cx="788.0" cy="610.9" r="8.20"/><circle cx="790.0" cy="610.4" r="8.20"/><circle cx="792.0" cy="609.9" r="8.20"/><circle cx="794.0" cy="609.5" r="8.20"/><circle cx="796.0" cy="609.0" r="8.20"/><circle cx="798.0" cy="608.5" r="8.20"/><circle cx="800.0" cy="608.1" r="8.20"/><circle cx="802.0" cy="607.6" r="8.20"/><circle cx="804.0" cy="607.1" r="8.20"/><circle cx="806.0" cy="606.6" r="8.20"/><circle cx="808.0" cy="606.1" r="8.20"/><circle cx="810.0" cy="605.5" r="8.20"/><circle cx="812.0" cy="605.0" r="8.20"/><circle cx="814.0" cy="604.5" r="8.20"/><circle cx="816.0" cy="604.0" r="8.20"/><circle cx="818.0" cy="603.4" r="8.20"/><circle cx="820.0" cy="602.9" r="8.20"/><circle cx="822.0" cy="602.4" r="8.20"/><circle cx="824.0" cy="601.9" r="8.20"/><circle cx="826.0" cy="601.3" r="8.20"/><circle cx="828.0" cy="600.8" r="8.20"/><circle cx="830.0" cy="600.3" r="8.20"/><circle cx="832.0" cy="599.8" r="8.20"/><circle cx="834.0" cy="599.3" r="8.20"/><circle cx="836.0" cy="598.7" r="8.20"/><circle cx="838.0" cy="598.2" r="8.20"/><circle cx="840.0" cy="597.7" r="8.20"/><circle cx="842.0" cy="597.2" r="8.20"/><circle cx="844.0" cy="596.6" r="8.20"/><circle cx="846.0" cy="596.1" r="8.20"/><circle cx="848.0" cy="595.6" r="8.20"/><circle cx="850.0" cy="595.1" r="8.20"/><circle cx="852.0" cy="594.5" r="8.20"/><circle cx="854.0" cy="594.0" r="8.20"/><circle cx="856.0" cy="593.5" r="8.20"/><circle cx="858.0" cy="593.0" r="8.20"/><circle cx="859.4" cy="592.6" r="8.20"/><circle cx="238.7" cy="740.0" r="8.20"/><circle cx="254.7" cy="736.0" r="8.20"/><circle cx="271.6" cy="731.8" r="8.20"/><circle cx="287.9" cy="728.0" r="8.20"/><circle cx="304.1" cy="724.8" r="8.20"/><circle cx="319.9" cy="721.6" r="8.20"/><circle cx="335.9" cy="718.4" r="8.20"/><circle cx="352.2" cy="715.1" r="8.20"/><circle cx="368.0" cy="711.9" r="8.20"/><circle cx="384.2" cy="708.7" r="8.20"/><circle cx="400.0" cy="705.5" r="8.20"/><circle cx="415.1" cy="702.5" r="8.20"/><circle cx="430.8" cy="699.3" r="8.20"/><circle cx="446.2" cy="696.2" r="8.20"/><circle cx="461.8" cy="693.1" r="8.20"/><circle cx="477.5" cy="689.9" r="8.20"/><circle cx="494.0" cy="686.5" r="8.20"/><circle cx="509.1" cy="683.5" r="8.20"/><circle cx="524.5" cy="680.4" r="8.20"/><circle cx="539.3" cy="677.4" r="8.20"/><circle cx="554.4" cy="674.3" r="8.20"/><circle cx="569.5" cy="670.9" r="8.20"/><circle cx="584.6" cy="667.3" r="8.20"/><circle cx="599.2" cy="663.9" r="8.20"/><circle cx="613.7" cy="660.4" r="8.20"/><circle cx="628.6" cy="656.9" r="8.20"/><circle cx="643.1" cy="653.2" r="8.20"/><circle cx="657.7" cy="649.4" r="8.20"/><circle cx="672.0" cy="645.6" r="8.20"/><circle cx="686.3" cy="641.9" r="8.20"/><circle cx="700.8" cy="638.1" r="8.20"/><circle cx="715.1" cy="634.2" r="8.20"/><circle cx="729.1" cy="630.4" r="8.20"/><circle cx="743.4" cy="626.4" r="8.20"/><circle cx="757.7" cy="623.0" r="8.20"/><circle cx="771.7" cy="619.7" r="8.20"/><circle cx="786.0" cy="616.3" r="8.20"/><circle cx="799.8" cy="613.1" r="8.20"/><circle cx="816.2" cy="608.9" r="8.20"/><circle cx="830.0" cy="605.3" r="8.20"/><circle cx="843.7" cy="601.7" r="8.20"/><circle cx="857.4" cy="598.1" r="8.20"/><circle cx="238.7" cy="825.7" r="8.20"/><circle cx="239.5" cy="831.7" r="8.20"/><circle cx="254.7" cy="822.6" r="8.20"/><circle cx="255.5" cy="828.8" r="8.20"/><circle cx="271.6" cy="819.4" r="8.20"/><circle cx="272.4" cy="825.7" r="8.20"/><circle cx="287.9" cy="816.6" r="8.20"/><circle cx="288.7" cy="823.2" r="8.20"/><circle cx="304.1" cy="813.8" r="8.20"/><circle cx="304.9" cy="820.6" r="8.20"/><circle cx="319.9" cy="811.1" r="8.20"/><circle cx="320.7" cy="818.1" r="8.20"/><circle cx="335.9" cy="808.3" r="8.20"/><circle cx="336.7" cy="815.6" r="8.20"/><circle cx="352.2" cy="805.5" r="8.20"/><circle cx="353.0" cy="813.0" r="8.20"/><circle cx="368.0" cy="803.2" r="8.20"/><circle cx="368.8" cy="810.8" r="8.20"/><circle cx="384.2" cy="800.8" r="8.20"/><circle cx="385.0" cy="808.5" r="8.20"/><circle cx="400.0" cy="798.5" r="8.20"/><circle cx="400.8" cy="806.3" r="8.20"/><circle cx="415.1" cy="796.1" r="8.20"/><circle cx="415.9" cy="804.0" r="8.20"/><circle cx="430.8" cy="793.6" r="8.20"/><circle cx="431.6" cy="801.6" r="8.20"/><circle cx="446.2" cy="791.2" r="8.20"/><circle cx="447.0" cy="799.3" r="8.20"/><circle cx="461.8" cy="788.8" r="8.20"/><circle cx="462.6" cy="796.9" r="8.20"/><circle cx="477.5" cy="786.3" r="8.20"/><circle cx="478.3" cy="794.6" r="8.20"/><circle cx="494.0" cy="783.7" r="8.20"/><circle cx="494.8" cy="792.1" r="8.20"/><circle cx="509.1" cy="781.3" r="8.20"/><circle cx="509.9" cy="789.8" r="8.20"/><circle cx="524.5" cy="778.9" r="8.20"/><circle cx="525.3" cy="787.4" r="8.20"/><circle cx="539.3" cy="776.6" r="8.20"/><circle cx="540.1" cy="785.2" r="8.20"/><circle cx="554.4" cy="774.2" r="8.20"/><circle cx="555.2" cy="783.0" r="8.20"/><circle cx="569.5" cy="771.9" r="8.20"/><circle cx="570.3" cy="780.7" r="8.20"/><circle cx="584.6" cy="769.5" r="8.20"/><circle cx="585.4" cy="778.5" r="8.20"/><circle cx="599.2" cy="767.3" r="8.20"/><circle cx="600.0" cy="776.3" r="8.20"/><circle cx="613.7" cy="765.0" r="8.20"/><circle cx="614.5" cy="774.1" r="8.20"/><circle cx="628.6" cy="762.7" r="8.20"/><circle cx="629.4" cy="771.9" r="8.20"/><circle cx="643.1" cy="760.5" r="8.20"/><circle cx="643.9" cy="769.8" r="8.20"/><circle cx="657.7" cy="758.2" r="8.20"/><circle cx="658.5" cy="767.6" r="8.20"/><circle cx="672.0" cy="755.6" r="8.20"/><circle cx="672.8" cy="765.3" r="8.20"/><circle cx="686.3" cy="753.0" r="8.20"/><circle cx="687.1" cy="763.0" r="8.20"/><circle cx="700.8" cy="750.4" r="8.20"/><circle cx="701.6" cy="760.7" r="8.20"/><circle cx="715.1" cy="747.9" r="8.20"/><circle cx="715.9" cy="758.5" r="8.20"/><circle cx="729.1" cy="745.4" r="8.20"/><circle cx="729.9" cy="756.4" r="8.20"/><circle cx="743.4" cy="742.9" r="8.20"/><circle cx="744.2" cy="754.2" r="8.20"/><circle cx="757.7" cy="740.4" r="8.20"/><circle cx="758.5" cy="752.0" r="8.20"/><circle cx="771.7" cy="738.0" r="8.20"/><circle cx="772.5" cy="749.8" r="8.20"/><circle cx="786.0" cy="735.5" r="8.20"/><circle cx="786.8" cy="747.6" r="8.20"/><circle cx="799.8" cy="733.0" r="8.20"/><circle cx="800.6" cy="745.5" r="8.20"/><circle cx="816.2" cy="729.5" r="8.20"/><circle cx="817.0" cy="742.7" r="8.20"/><circle cx="830.0" cy="726.5" r="8.20"/><circle cx="830.8" cy="740.3" r="8.20"/><circle cx="843.7" cy="723.5" r="8.20"/><circle cx="844.5" cy="737.9" r="8.20"/><circle cx="857.4" cy="720.5" r="8.20"/><circle cx="858.2" cy="735.5" r="8.20"/><circle cx="221.3" cy="908.5" r="8.20"/><circle cx="221.0" cy="838.8" r="8.20"/><circle cx="222.2" cy="833.2" r="8.20"/><circle cx="808.5" cy="577.1" r="8.20"/><circle cx="492.0" cy="677.9" r="8.20"/><circle cx="521.0" cy="673.1" r="8.20"/><circle cx="575.0" cy="661.6" r="8.20"/></g>
<g fill="#0000ff"><rect x="142.7" y="858.2" width="16.2" height="16.2"/><rect x="142.7" y="862.2" width="16.2" height="16.2"/><rect x="142.7" y="866.6" width="16.2" height="16.2"/><rect x="144.2" y="858.2" width="16.2" height="16.2"/><rect x="144.2" y="862.2" width="16.2" height="16.2"/><rect x="144.2" y="866.6" width="16.2" height="16.2"/><rect x="145.7" y="861.4" width="16.2" height="16.2"/><rect x="145.7" y="865.1" width="16.2" height="16.2"/><rect x="147.2" y="861.6" width="16.2" height="16.2"/><rect x="147.2" y="865.3" width="16.2" height="16.2"/><rect x="148.7" y="861.8" width="16.2" height="16.2"/><rect x="148.7" y="865.5" width="16.2" height="16.2"/><rect x="150.2" y="862.1" width="16.2" height="16.2"/><rect x="150.2" y="865.7" width="16.2" height="16.2"/><rect x="151.7" y="862.3" width="16.2" height="16.2"/><rect x="151.7" y="865.9" width="16.2" height="16.2"/><rect x="153.2" y="862.5" width="16.2" height="16.2"/><rect x="153.2" y="866.1" width="16.2" height="16.2"/><rect x="154.7" y="862.7" width="16.2" height="16.2"/><rect x="154.7" y="866.3" width="16.2" height="16.2"/><rect x="156.2" y="862.8" width="16.2" height="16.2"/><rect x="156.2" y="866.5" width="16.2" height="16.2"/><rect x="157.7" y="862.5" width="16.2" height="16.2"/><rect x="157.7" y="866.2" width="16.2" height="16.2"/><rect x="159.2" y="862.2" width="16.2" height="16.2"/><rect x="159.2" y="865.8" width="16.2" height="16.2"/><rect x="160.7" y="861.8" width="16.2" height="16.2"/><rect x="160.7" y="865.5" width="16.2" height="16.2"/><rect x="162.2" y="861.5" width="16.2" height="16.2"/><rect x="162.2" y="865.2" width="16.2" height="16.2"/><rect x="163.7" y="861.2" width="16.2" height="16.2"/><rect x="163.7" y="864.8" width="16.2" height="16.2"/><rect x="165.2" y="860.8" width="16.2" height="16.2"/><rect x="165.2" y="864.5" width="16.2" height="16.2"/><rect x="166.7" y="860.5" width="16.2" height="16.2"/><rect x="166.7" y="864.2" width="16.2" height="16.2"/><rect x="168.2" y="860.2" width="16.2" height="16.2"/><rect x="168.2" y="863.8" width="16.2" height="16.2"/><rect x="169.7" y="859.8" width="16.2" height="16.2"/><rect x="169.7" y="863.5" width="16.2" height="16.2"/><rect x="171.2" y="859.5" width="16.2" height="16.2"/><rect x="171.2" y="863.2" width="16.2" height="16.2"/><rect x="172.7" y="859.2" width="16.2" height="16.2"/><rect x="172.7" y="862.9" width="16.2" height="16.2"/><rect x="174.2" y="858.9" width="16.2" height="16.2"/><rect x="174.2" y="862.6" width="16.2" height="16.2"/><rect x="175.7" y="858.6" width="16.2" height="16.2"/><rect x="175.7" y="862.3" width="16.2" height="16.2"/><rect x="177.2" y="858.3" width="16.2" height="16.2"/><rect x="177.2" y="862.0" width="16.2" height="16.2"/><rect x="178.7" y="858.0" width="16.2" height="16.2"/><rect x="178.7" y="861.7" width="16.2" height="16.2"/><rect x="180.2" y="857.7" width="16.2" height="16.2"/><rect x="180.2" y="861.4" width="16.2" height="16.2"/><rect x="181.7" y="857.5" width="16.2" height="16.2"/><rect x="181.7" y="861.1" width="16.2" height="16.2"/><rect x="183.2" y="857.2" width="16.2" height="16.2"/><rect x="183.2" y="860.8" width="16.2" height="16.2"/><rect x="184.7" y="856.9" width="16.2" height="16.2"/><rect x="184.7" y="860.5" width="16.2" height="16.2"/><rect x="186.2" y="856.6" width="16.2" height="16.2"/><rect x="186.2" y="860.3" width="16.2" height="16.2"/><rect x="187.7" y="856.3" width="16.2" height="16.2"/><rect x="187.7" y="860.0" width="16.2" height="16.2"/><rect x="189.2" y="856.0" width="16.2" height="16.2"/><rect x="189.2" y="859.7" width="16.2" height="16.2"/><rect x="190.7" y="855.8" width="16.2" height="16.2"/><rect x="190.7" y="859.4" width="16.2" height="16.2"/><rect x="192.2" y="855.6" width="16.2" height="16.2"/><rect x="192.2" y="859.2" width="16.2" height="16.2"/><rect x="193.7" y="855.4" width="16.2" height="16.2"/><rect x="193.7" y="859.0" width="16.2" height="16.2"/><rect x="195.2" y="855.2" width="16.2" height="16.2"/><rect x="195.2" y="858.9" width="16.2" height="16.2"/><rect x="196.7" y="855.0" width="16.2" height="16.2"/><rect x="196.7" y="858.7" width="16.2" height="16.2"/><rect x="198.2" y="854.8" width="16.2" height="16.2"/><rect x="198.2" y="858.5" width="16.2" height="16.2"/><rect x="199.7" y="854.6" width="16.2" height="16.2"/><rect x="199.7" y="858.3" width="16.2" height="16.2"/><rect x="201.2" y="854.4" width="16.2" height="16.2"/><rect x="201.2" y="858.1" width="16.2" height="16.2"/><rect x="202.7" y="854.2" width="16.2" height="16.2"/><rect x="202.7" y="857.9" width="16.2" height="16.2"/><rect x="204.2" y="854.1" width="16.2" height="16.2"/><rect x="204.2" y="857.7" width="16.2" height="16.2"/><rect x="205.7" y="853.9" width="16.2" height="16.2"/><rect x="205.7" y="857.5" width="16.2" height="16.2"/><rect x="207.2" y="853.7" width="16.2" height="16.2"/><rect x="207.2" y="857.4" width="16.2" height="16.2"/><rect x="208.7" y="853.5" width="16.2" height="16.2"/><rect x="208.7" y="857.2" width="16.2" height="16.2"/><rect x="210.2" y="853.3" width="16.2" height="16.2"/><rect x="210.2" y="857.0" width="16.2" height="16.2"/><rect x="211.7" y="853.2" width="16.2" height="16.2"/><rect x="211.7" y="856.9" width="16.2" height="16.2"/><rect x="213.2" y="853.1" width="16.2" height="16.2"/><rect x="213.2" y="856.8" width="16.2" height="16.2"/><rect x="214.7" y="853.0" width="16.2" height="16.2"/><rect x="214.7" y="856.7" width="16.2" height="16.2"/><rect x="216.2" y="853.0" width="16.2" height="16.2"/><rect x="216.2" y="856.6" width="16.2" height="16.2"/><rect x="217.7" y="852.9" width="16.2" height="16.2"/><rect x="217.7" y="856.5" width="16.2" height="16.2"/><rect x="219.2" y="852.8" width="16.2" height="16.2"/><rect x="219.2" y="856.5" width="16.2" height="16.2"/><rect x="220.7" y="852.7" width="16.2" height="16.2"/><rect x="220.7" y="856.4" width="16.2" height="16.2"/><rect x="222.2" y="852.6" width="16.2" height="16.2"/><rect x="222.2" y="856.3" width="16.2" height="16.2"/><rect x="223.7" y="852.5" width="16.2" height="16.2"/><rect x="223.7" y="856.2" width="16.2" height="16.2"/><rect x="225.2" y="852.4" width="16.2" height="16.2"/><rect x="225.2" y="856.1" width="16.2" height="16.2"/><rect x="226.7" y="852.4" width="16.2" height="16.2"/><rect x="226.7" y="856.0" width="16.2" height="16.2"/><rect x="228.2" y="852.3" width="16.2" height="16.2"/><rect x="228.2" y="855.9" width="16.2" height="16.2"/><rect x="229.7" y="852.2" width="16.2" height="16.2"/><rect x="229.7" y="855.9" width="16.2" height="16.2"/><rect x="231.2" y="852.1" width="16.2" height="16.2"/><rect x="231.2" y="855.8" width="16.2" height="16.2"/><rect x="232.7" y="852.0" width="16.2" height="16.2"/><rect x="232.7" y="855.7" width="16.2" height="16.2"/><rect x="234.2" y="851.9" width="16.2" height="16.2"/><rect x="234.2" y="855.6" width="16.2" height="16.2"/><rect x="235.7" y="851.8" width="16.2" height="16.2"/><rect x="235.7" y="855.5" width="16.2" height="16.2"/><rect x="237.2" y="851.7" width="16.2" height="16.2"/><rect x="237.2" y="855.4" width="16.2" height="16.2"/><rect x="238.7" y="851.5" width="16.2" height="16.2"/><rect x="238.7" y="855.2" width="16.2" height="16.2"/><rect x="240.2" y="851.4" width="16.2" height="16.2"/><rect x="240.2" y="855.1" width="16.2" height="16.2"/><rect x="241.7" y="851.2" width="16.2" height="16.2"/><rect x="241.7" y="854.9" width="16.2" height="16.2"/><rect x="243.2" y="851.1" width="16.2" height="16.2"/><rect x="243.2" y="854.8" width="16.2" height="16.2"/><rect x="244.7" y="850.9" width="16.2" height="16.2"/><rect x="244.7" y="854.6" width="16.2" height="16.2"/><rect x="246.2" y="850.8" width="16.2" height="16.2"/><rect x="246.2" y="854.5" width="16.2" height="16.2"/><rect x="247.7" y="850.6" width="16.2" height="16.2"/><rect x="247.7" y="854.3" width="16.2" height="16.2"/><rect x="249.2" y="850.5" width="16.2" height="16.2"/><rect x="249.2" y="854.2" width="16.2" height="16.2"/><rect x="250.7" y="850.3" width="16.2" height="16.2"/><rect x="250.7" y="854.0" width="16.2" height="16.2"/><rect x="252.2" y="850.2" width="16.2" height="16.2"/><rect x="252.2" y="853.9" width="16.2" height="16.2"/><rect x="253.7" y="850.0" width="16.2" height="16.2"/><rect x="253.7" y="853.7" width="16.2" height="16.2"/><rect x="255.2" y="849.9" width="16.2" height="16.2"/><rect x="255.2" y="853.6" width="16.2" height="16.2"/><rect x="256.7" y="849.7" width="16.2" height="16.2"/><rect x="256.7" y="853.4" width="16.2" height="16.2"/><rect x="258.2" y="849.6" width="16.2" height="16.2"/><rect x="258.2" y="853.3" width="16.2" height="16.2"/><rect x="259.7" y="849.4" width="16.2" height="16.2"/><rect x="259.7" y="853.1" width="16.2" height="16.2"/><rect x="261.2" y="849.3" width="16.2" height="16.2"/><rect x="261.2" y="853.0" width="16.2" height="16.2"/><rect x="262.7" y="849.2" width="16.2" height="16.2"/><rect x="262.7" y="852.9" width="16.2" height="16.2"/><rect x="264.2" y="849.2" width="16.2" height="16.2"/><rect x="264.2" y="852.8" width="16.2" height="16.2"/><rect x="265.7" y="849.1" width="16.2" height="16.2"/><rect x="265.7" y="852.8" width="16.2" height="16.2"/><rect x="267.2" y="849.0" width="16.2" height="16.2"/><rect x="267.2" y="852.7" width="16.2" height="16.2"/><rect x="268.7" y="849.0" width="16.2" height="16.2"/><rect x="268.7" y="852.6" width="16.2" height="16.2"/><rect x="270.2" y="848.9" width="16.2" height="16.2"/><rect x="270.2" y="852.6" width="16.2" height="16.2"/><rect x="271.7" y="848.8" width="16.2" height="16.2"/><rect x="271.7" y="852.5" width="16.2" height="16.2"/><rect x="273.2" y="848.8" width="16.2" height="16.2"/><rect x="273.2" y="852.5" width="16.2" height="16.2"/><rect x="274.7" y="848.7" width="16.2" height="16.2"/><rect x="274.7" y="852.4" width="16.2" height="16.2"/><rect x="276.2" y="848.7" width="16.2" height="16.2"/><rect x="276.2" y="852.3" width="16.2" height="16.2"/><rect x="277.7" y="848.6" width="16.2" height="16.2"/><rect x="277.7" y="852.3" width="16.2" height="16.2"/><rect x="279.2" y="848.5" width="16.2" height="16.2"/><rect x="279.2" y="852.2" width="16.2" height="16.2"/><rect x="280.7" y="848.5" width="16.2" height="16.2"/><rect x="280.7" y="852.1" width="16.2" height="16.2"/><rect x="282.2" y="848.4" width="16.2" height="16.2"/><rect x="282.2" y="852.1" width="16.2" height="16.2"/><rect x="283.7" y="848.3" width="16.2" height="16.2"/><rect x="283.7" y="852.0" width="16.2" height="16.2"/><rect x="285.2" y="848.3" width="16.2" height="16.2"/><rect x="285.2" y="851.9" width="16.2" height="16.2"/><rect x="286.7" y="848.2" width="16.2" height="16.2"/><rect x="286.7" y="851.9" width="16.2" height="16.2"/><rect x="288.2" y="848.0" width="16.2" height="16.2"/><rect x="288.2" y="851.7" width="16.2" height="16.2"/><rect x="289.7" y="847.9" width="16.2" height="16.2"/><rect x="289.7" y="851.6" width="16.2" height="16.2"/><rect x="291.2" y="847.8" width="16.2" height="16.2"/><rect x="291.2" y="851.4" width="16.2" height="16.2"/><rect x="292.7" y="847.6" width="16.2" height="16.2"/><rect x="292.7" y="851.3" width="16.2" height="16.2"/><rect x="294.2" y="847.5" width="16.2" height="16.2"/><rect x="294.2" y="851.2" width="16.2" height="16.2"/><rect x="295.7" y="847.4" width="16.2" height="16.2"/><rect x="295.7" y="851.0" width="16.2" height="16.2"/><rect x="297.2" y="847.2" width="16.2" height="16.2"/><rect x="297.2" y="850.9" width="16.2" height="16.2"/><rect x="298.7" y="847.1" width="16.2" height="16.2"/><rect x="298.7" y="850.8" width="16.2" height="16.2"/><rect x="300.2" y="847.0" width="16.2" height="16.2"/><rect x="300.2" y="850.6" width="16.2" height="16.2"/><rect x="301.7" y="846.8" width="16.2" height="16.2"/><rect x="301.7" y="850.5" width="16.2" height="16.2"/><rect x="303.2" y="846.7" width="16.2" height="16.2"/><rect x="303.2" y="850.4" width="16.2" height="16.2"/><rect x="304.7" y="846.5" width="16.2" height="16.2"/><rect x="304.7" y="850.2" width="16.2" height="16.2"/><rect x="306.2" y="846.4" width="16.2" height="16.2"/><rect x="306.2" y="850.1" width="16.2" height="16.2"/><rect x="307.7" y="846.3" width="16.2" height="16.2"/><rect x="307.7" y="849.9" width="16.2" height="16.2"/><rect x="309.2" y="846.1" width="16.2" height="16.2"/><rect x="309.2" y="849.8" width="16.2" height="16.2"/><rect x="310.7" y="846.0" width="16.2" height="16.2"/><rect x="310.7" y="849.7" width="16.2" height="16.2"/><rect x="312.2" y="845.9" width="16.2" height="16.2"/><rect x="312.2" y="849.6" width="16.2" height="16.2"/><rect x="313.7" y="845.8" width="16.2" height="16.2"/><rect x="313.7" y="849.5" width="16.2" height="16.2"/><rect x="315.2" y="845.8" width="16.2" height="16.2"/><rect x="315.2" y="849.4" width="16.2" height="16.2"/><rect x="316.7" y="845.7" width="16.2" height="16.2"/><rect x="316.7" y="849.4" width="16.2" height="16.2"/><rect x="318.2" y="845.6" width="16.2" height="16.2"/><rect x="318.2" y="849.3" width="16.2" height="16.2"/><rect x="319.7" y="845.6" width="16.2" height="16.2"/><rect x="319.7" y="849.2" width="16.2" height="16.2"/><rect x="321.2" y="845.5" width="16.2" height="16.2"/><rect x="321.2" y="849.2" width="16.2" height="16.2"/><rect x="322.7" y="845.4" width="16.2" height="16.2"/><rect x="322.7" y="849.1" width="16.2" height="16.2"/><rect x="324.2" y="845.4" width="16.2" height="16.2"/><rect x="324.2" y="849.1" width="16.2" height="16.2"/><rect x="325.7" y="845.3" width="16.2" height="16.2"/><rect x="325.7" y="849.0" width="16.2" height="16.2"/><rect x="327.2" y="845.3" width="16.2" height="16.2"/><rect x="327.2" y="848.9" width="16.2" height="16.2"/><rect x="328.7" y="845.2" width="16.2" height="16.2"/><rect x="328.7" y="848.9" width="16.2" height="16.2"/><rect x="330.2" y="845.1" width="16.2" height="16.2"/><rect x="330.2" y="848.8" width="16.2" height="16.2"/><rect x="331.7" y="845.1" width="16.2" height="16.2"/><rect x="331.7" y="848.7" width="16.2" height="16.2"/><rect x="333.2" y="845.0" width="16.2" height="16.2"/><rect x="333.2" y="848.7" width="16.2" height="16.2"/><rect x="334.7" y="844.9" width="16.2" height="16.2"/><rect x="334.7" y="848.6" width="16.2" height="16.2"/><rect x="336.2" y="844.9" width="16.2" height="16.2"/><rect x="336.2" y="848.6" width="16.2" height="16.2"/><rect x="337.7" y="844.8" width="16.2" height="16.2"/><rect x="337.7" y="848.5" width="16.2" height="16.2"/><rect x="339.2" y="844.8" width="16.2" height="16.2"/><rect x="339.2" y="848.4" width="16.2" height="16.2"/><rect x="340.7" y="844.7" width="16.2" height="16.2"/><rect x="340.7" y="848.4" width="16.2" height="16.2"/><rect x="342.2" y="844.6" width="16.2" height="16.2"/><rect x="342.2" y="848.3" width="16.2" height="16.2"/><rect x="343.7" y="844.6" width="16.2" height="16.2"/><rect x="343.7" y="848.2" width="16.2" height="16.2"/><rect x="345.2" y="844.5" width="16.2" height="16.2"/><rect x="345.2" y="848.2" width="16.2" height="16.2"/><rect x="346.7" y="844.4" width="16.2" height="16.2"/><rect x="346.7" y="848.1" width="16.2" height="16.2"/><rect x="348.2" y="844.4" width="16.2" height="16.2"/><rect x="348.2" y="848.1" width="16.2" height="16.2"/><rect x="349.7" y="844.3" width="16.2" height="16.2"/><rect x="349.7" y="848.0" width="16.2" height="16.2"/><rect x="351.2" y="844.3" width="16.2" height="16.2"/><rect x="351.2" y="847.9" width="16.2" height="16.2"/><rect x="352.7" y="844.2" width="16.2" height="16.2"/><rect x="352.7" y="847.9" width="16.2" height="16.2"/><rect x="354.2" y="844.1" width="16.2" height="16.2"/><rect x="354.2" y="847.8" width="16.2" height="16.2"/><rect x="355.7" y="844.1" width="16.2" height="16.2"/><rect x="355.7" y="847.7" width="16.2" height="16.2"/><rect x="357.2" y="844.0" width="16.2" height="16.2"/><rect x="357.2" y="847.7" width="16.2" height="16.2"/><rect x="358.7" y="843.9" width="16.2" height="16.2"/><rect x="358.7" y="847.6" width="16.2" height="16.2"/><rect x="360.2" y="843.9" width="16.2" height="16.2"/><rect x="360.2" y="847.6" width="16.2" height="16.2"/><rect x="361.7" y="843.8" width="16.2" height="16.2"/><rect x="361.7" y="847.5" width="16.2" height="16.2"/><rect x="363.2" y="843.8" width="16.2" height="16.2"/><rect x="363.2" y="847.4" width="16.2" height="16.2"/><rect x="364.7" y="843.7" width="16.2" height="16.2"/><rect x="364.7" y="847.4" width="16.2" height="16.2"/><rect x="366.2" y="843.6" width="16.2" height="16.2"/><rect x="366.2" y="847.3" width="16.2" height="16.2"/><rect x="367.7" y="843.6" width="16.2" height="16.2"/><rect x="367.7" y="847.2" width="16.2" height="16.2"/><rect x="369.2" y="843.5" width="16.2" height="16.2"/><rect x="369.2" y="847.2" width="16.2" height="16.2"/><rect x="370.7" y="843.4" width="16.2" height="16.2"/><rect x="370.7" y="847.1" width="16.2" height="16.2"/><rect x="372.2" y="843.4" width="16.2" height="16.2"/><rect x="372.2" y="847.1" width="16.2" height="16.2"/><rect x="373.7" y="843.3" width="16.2" height="16.2"/><rect x="373.7" y="847.0" width="16.2" height="16.2"/><rect x="375.2" y="843.3" width="16.2" height="16.2"/><rect x="375.2" y="846.9" width="16.2" height="16.2"/><rect x="376.7" y="843.2" width="16.2" height="16.2"/><rect x="376.7" y="846.9" width="16.2" height="16.2"/><rect x="378.2" y="843.1" width="16.2" height="16.2"/><rect x="378.2" y="846.8" width="16.2" height="16.2"/><rect x="379.7" y="843.1" width="16.2" height="16.2"/><rect x="379.7" y="846.7" width="16.2" height="16.2"/><rect x="381.2" y="843.0" width="16.2" height="16.2"/><rect x="381.2" y="846.7" width="16.2" height="16.2"/><rect x="382.7" y="842.9" width="16.2" height="16.2"/><rect x="382.7" y="846.6" width="16.2" height="16.2"/><rect x="384.2" y="842.9" width="16.2" height="16.2"/><rect x="384.2" y="846.6" width="16.2" height="16.2"/><rect x="385.7" y="842.8" width="16.2" height="16.2"/><rect x="385.7" y="846.5" width="16.2" height="16.2"/><rect x="387.2" y="842.8" width="16.2" height="16.2"/><rect x="387.2" y="846.4" width="16.2" height="16.2"/><rect x="388.7" y="842.7" width="16.2" height="16.2"/><rect x="388.7" y="846.4" width="16.2" height="16.2"/><rect x="390.2" y="842.6" width="16.2" height="16.2"/><rect x="390.2" y="846.3" width="16.2" height="16.2"/><rect x="391.7" y="842.6" width="16.2" height="16.2"/><rect x="391.7" y="846.2" width="16.2" height="16.2"/><rect x="393.2" y="842.5" width="16.2" height="16.2"/><rect x="393.2" y="846.2" width="16.2" height="16.2"/><rect x="394.7" y="842.5" width="16.2" height="16.2"/><rect x="394.7" y="846.1" width="16.2" height="16.2"/><rect x="396.2" y="842.4" width="16.2" height="16.2"/><rect x="396.2" y="846.1" width="16.2" height="16.2"/><rect x="397.7" y="842.3" width="16.2" height="16.2"/><rect x="397.7" y="846.0" width="16.2" height="16.2"/><rect x="399.2" y="842.3" width="16.2" height="16.2"/><rect x="399.2" y="846.0" width="16.2" height="16.2"/><rect x="400.7" y="842.2" width="16.2" height="16.2"/><rect x="400.7" y="845.9" width="16.2" height="16.2"/><rect x="402.2" y="842.2" width="16.2" height="16.2"/><rect x="402.2" y="845.8" width="16.2" height="16.2"/><rect x="403.7" y="842.1" width="16.2" height="16.2"/><rect x="403.7" y="845.8" width="16.2" height="16.2"/><rect x="405.2" y="842.0" width="16.2" height="16.2"/><rect x="405.2" y="845.7" width="16.2" height="16.2"/><rect x="406.7" y="842.0" width="16.2" height="16.2"/><rect x="406.7" y="845.7" width="16.2" height="16.2"/><rect x="408.2" y="841.9" width="16.2" height="16.2"/><rect x="408.2" y="845.6" width="16.2" height="16.2"/><rect x="409.7" y="841.9" width="16.2" height="16.2"/><rect x="409.7" y="845.5" width="16.2" height="16.2"/><rect x="411.2" y="841.8" width="16.2" height="16.2"/><rect x="411.2" y="845.5" width="16.2" height="16.2"/><rect x="412.7" y="841.8" width="16.2" height="16.2"/><rect x="412.7" y="845.4" width="16.2" height="16.2"/><rect x="414.2" y="841.7" width="16.2" height="16.2"/><rect x="414.2" y="845.4" width="16.2" height="16.2"/><rect x="415.7" y="841.6" width="16.2" height="16.2"/><rect x="415.7" y="845.3" width="16.2" height="16.2"/><rect x="417.2" y="841.6" width="16.2" height="16.2"/><rect x="417.2" y="845.2" width="16.2" height="16.2"/><rect x="418.7" y="841.5" width="16.2" height="16.2"/><rect x="418.7" y="845.2" width="16.2" height="16.2"/><rect x="420.2" y="841.5" width="16.2" height="16.2"/><rect x="420.2" y="845.1" width="16.2" height="16.2"/><rect x="421.7" y="841.4" width="16.2" height="16.2"/><rect x="421.7" y="845.1" width="16.2" height="16.2"/><rect x="423.2" y="841.3" width="16.2" height="16.2"/><rect x="423.2" y="845.0" width="16.2" height="16.2"/><rect x="424.7" y="841.3" width="16.2" height="16.2"/><rect x="424.7" y="845.0" width="16.2" height="16.2"/><rect x="426.2" y="841.2" width="16.2" height="16.2"/><rect x="426.2" y="844.9" width="16.2" height="16.2"/><rect x="427.7" y="841.2" width="16.2" height="16.2"/><rect x="427.7" y="844.8" width="16.2" height="16.2"/><rect x="429.2" y="841.1" width="16.2" height="16.2"/><rect x="429.2" y="844.8" width="16.2" height="16.2"/><rect x="430.7" y="841.0" width="16.2" height="16.2"/><rect x="430.7" y="844.7" width="16.2" height="16.2"/><rect x="432.2" y="841.0" width="16.2" height="16.2"/><rect x="432.2" y="844.7" width="16.2" height="16.2"/><rect x="433.7" y="840.9" width="16.2" height="16.2"/><rect x="433.7" y="844.6" width="16.2" height="16.2"/><rect x="435.2" y="840.9" width="16.2" height="16.2"/><rect x="435.2" y="844.5" width="16.2" height="16.2"/><rect x="436.7" y="840.8" width="16.2" height="16.2"/><rect x="436.7" y="844.5" width="16.2" height="16.2"/><rect x="438.2" y="840.8" width="16.2" height="16.2"/><rect x="438.2" y="844.4" width="16.2" height="16.2"/><rect x="439.7" y="840.7" width="16.2" height="16.2"/><rect x="439.7" y="844.4" width="16.2" height="16.2"/><rect x="441.2" y="840.6" width="16.2" height="16.2"/><rect x="441.2" y="844.3" width="16.2" height="16.2"/><rect x="442.7" y="840.6" width="16.2" height="16.2"/><rect x="442.7" y="844.2" width="16.2" height="16.2"/><rect x="444.2" y="840.5" width="16.2" height="16.2"/><rect x="444.2" y="844.2" width="16.2" height="16.2"/><rect x="445.7" y="840.5" width="16.2" height="16.2"/><rect x="445.7" y="844.1" width="16.2" height="16.2"/><rect x="447.2" y="840.4" width="16.2" height="16.2"/><rect x="447.2" y="844.1" width="16.2" height="16.2"/><rect x="448.7" y="840.3" width="16.2" height="16.2"/><rect x="448.7" y="844.0" width="16.2" height="16.2"/><rect x="450.2" y="840.3" width="16.2" height="16.2"/><rect x="450.2" y="844.0" width="16.2" height="16.2"/><rect x="451.7" y="840.2" width="16.2" height="16.2"/><rect x="451.7" y="843.9" width="16.2" height="16.2"/><rect x="453.2" y="840.2" width="16.2" height="16.2"/><rect x="453.2" y="843.8" width="16.2" height="16.2"/><rect x="454.7" y="840.1" width="16.2" height="16.2"/><rect x="454.7" y="843.8" width="16.2" height="16.2"/><rect x="456.2" y="840.0" width="16.2" height="16.2"/><rect x="456.2" y="843.7" width="16.2" height="16.2"/><rect x="457.7" y="840.0" width="16.2" height="16.2"/><rect x="457.7" y="843.7" width="16.2" height="16.2"/><rect x="459.2" y="839.9" width="16.2" height="16.2"/><rect x="459.2" y="843.6" width="16.2" height="16.2"/><rect x="460.7" y="839.9" width="16.2" height="16.2"/><rect x="460.7" y="843.5" width="16.2" height="16.2"/><rect x="462.2" y="839.8" width="16.2" height="16.2"/><rect x="462.2" y="843.5" width="16.2" height="16.2"/><rect x="463.7" y="839.8" width="16.2" height="16.2"/><rect x="463.7" y="843.4" width="16.2" height="16.2"/><rect x="465.2" y="839.7" width="16.2" height="16.2"/><rect x="465.2" y="843.4" width="16.2" height="16.2"/><rect x="466.7" y="839.6" width="16.2" height="16.2"/><rect x="466.7" y="843.3" width="16.2" height="16.2"/><rect x="468.2" y="839.6" width="16.2" height="16.2"/><rect x="468.2" y="843.2" width="16.2" height="16.2"/><rect x="469.7" y="839.5" width="16.2" height="16.2"/><rect x="469.7" y="843.2" width="16.2" height="16.2"/><rect x="471.2" y="839.5" width="16.2" height="16.2"/><rect x="471.2" y="843.1" width="16.2" height="16.2"/><rect x="472.7" y="839.4" width="16.2" height="16.2"/><rect x="472.7" y="843.1" width="16.2" height="16.2"/><rect x="474.2" y="839.4" width="16.2" height="16.2"/><rect x="474.2" y="843.0" width="16.2" height="16.2"/><rect x="475.7" y="839.3" width="16.2" height="16.2"/><rect x="475.7" y="843.0" width="16.2" height="16.2"/><rect x="477.2" y="839.3" width="16.2" height="16.2"/><rect x="477.2" y="842.9" width="16.2" height="16.2"/><rect x="478.7" y="839.2" width="16.2" height="16.2"/><rect x="478.7" y="842.9" width="16.2" height="16.2"/><rect x="480.2" y="839.2" width="16.2" height="16.2"/><rect x="480.2" y="842.8" width="16.2" height="16.2"/><rect x="481.7" y="839.1" width="16.2" height="16.2"/><rect x="481.7" y="842.8" width="16.2" height="16.2"/><rect x="483.2" y="839.1" width="16.2" height="16.2"/><rect x="483.2" y="842.7" width="16.2" height="16.2"/><rect x="484.7" y="839.0" width="16.2" height="16.2"/><rect x="484.7" y="842.7" width="16.2" height="16.2"/><rect x="486.2" y="839.0" width="16.2" height="16.2"/><rect x="486.2" y="842.6" width="16.2" height="16.2"/><rect x="487.7" y="838.9" width="16.2" height="16.2"/><rect x="487.7" y="842.6" width="16.2" height="16.2"/><rect x="489.2" y="838.9" width="16.2" height="16.2"/><rect x="489.2" y="842.5" width="16.2" height="16.2"/><rect x="490.7" y="838.8" width="16.2" height="16.2"/><rect x="490.7" y="842.5" width="16.2" height="16.2"/><rect x="492.2" y="838.8" width="16.2" height="16.2"/><rect x="492.2" y="842.4" width="16.2" height="16.2"/><rect x="493.7" y="838.7" width="16.2" height="16.2"/><rect x="493.7" y="842.4" width="16.2" height="16.2"/><rect x="495.2" y="838.7" width="16.2" height="16.2"/><rect x="495.2" y="842.3" width="16.2" height="16.2"/><rect x="496.7" y="838.6" width="16.2" height="16.2"/><rect x="496.7" y="842.3" width="16.2" height="16.2"/><rect x="498.2" y="838.6" width="16.2" height="16.2"/><rect x="498.2" y="842.2" width="16.2" height="16.2"/><rect x="499.7" y="838.5" width="16.2" height="16.2"/><rect x="499.7" y="842.2" width="16.2" height="16.2"/><rect x="501.2" y="838.5" width="16.2" height="16.2"/><rect x="501.2" y="842.1" width="16.2" height="16.2"/><rect x="502.7" y="838.4" width="16.2" height="16.2"/><rect x="502.7" y="842.1" width="16.2" height="16.2"/><rect x="504.2" y="838.4" width="16.2" height="16.2"/><rect x="504.2" y="842.0" width="16.2" height="16.2"/><rect x="505.7" y="838.3" width="16.2" height="16.2"/><rect x="505.7" y="842.0" width="16.2" height="16.2"/><rect x="507.2" y="838.2" width="16.2" height="16.2"/><rect x="507.2" y="841.9" width="16.2" height="16.2"/><rect x="508.7" y="838.2" width="16.2" height="16.2"/><rect x="508.7" y="841.9" width="16.2" height="16.2"/><rect x="510.2" y="838.1" width="16.2" height="16.2"/><rect x="510.2" y="841.8" width="16.2" height="16.2"/><rect x="511.7" y="838.1" width="16.2" height="16.2"/><rect x="511.7" y="841.8" width="16.2" height="16.2"/><rect x="513.2" y="838.0" width="16.2" height="16.2"/><rect x="513.2" y="841.7" width="16.2" height="16.2"/><rect x="514.7" y="838.0" width="16.2" height="16.2"/><rect x="514.7" y="841.7" width="16.2" height="16.2"/><rect x="516.2" y="837.9" width="16.2" height="16.2"/><rect x="516.2" y="841.6" width="16.2" height="16.2"/><rect x="517.7" y="837.9" width="16.2" height="16.2"/><rect x="517.7" y="841.6" width="16.2" height="16.2"/><rect x="519.2" y="837.8" width="16.2" height="16.2"/><rect x="519.2" y="841.5" width="16.2" height="16.2"/><rect x="520.7" y="837.8" width="16.2" height="16.2"/><rect x="520.7" y="841.5" width="16.2" height="16.2"/><rect x="212.8" y="823.4" width="16.2" height="16.2"/><rect x="230.9" y="835.8" width="16.2" height="16.2"/><rect x="249.3" y="835.6" width="16.2" height="16.2"/><rect x="267.6" y="836.6" width="16.2" height="16.2"/><rect x="285.8" y="835.6" width="16.2" height="16.2"/><rect x="303.8" y="835.4" width="16.2" height="16.2"/><rect x="322.1" y="832.7" width="16.2" height="16.2"/><rect x="340.3" y="832.9" width="16.2" height="16.2"/><rect x="359.0" y="833.1" width="16.2" height="16.2"/><rect x="377.6" y="832.0" width="16.2" height="16.2"/><rect x="396.0" y="831.0" width="16.2" height="16.2"/><rect x="414.4" y="830.1" width="16.2" height="16.2"/><rect x="432.6" y="829.7" width="16.2" height="16.2"/><rect x="451.0" y="828.9" width="16.2" height="16.2"/><rect x="469.5" y="827.0" width="16.2" height="16.2"/><rect x="489.3" y="827.0" width="16.2" height="16.2"/><rect x="507.5" y="825.8" width="16.2" height="16.2"/><rect x="212.9" y="721.3" width="16.2" height="16.2"/><rect x="272.9" y="847.9" width="16.2" height="16.2"/><rect x="272.9" y="853.9" width="16.2" height="16.2"/></g>
</g>
<g clip-path="url(#cb1)">
<g fill="#ff0000"><circle cx="1070.6" cy="774.2" r="8.20"/><circle cx="1070.8" cy="776.9" r="8.20"/><circle cx="1071.0" cy="779.5" r="8.20"/><circle cx="1071.2" cy="780.5" r="8.20"/><circle cx="1071.4" cy="781.5" r="8.20"/><circle cx="1071.6" cy="782.5" r="8.20"/><circle cx="1071.8" cy="783.5" r="8.20"/><circle cx="1072.0" cy="784.5" r="8.20"/><circle cx="1072.0" cy="784.5" r="8.20"/><circle cx="1073.0" cy="787.0" r="8.20"/><circle cx="1074.0" cy="789.5" r="8.20"/><circle cx="1075.0" cy="790.6" r="8.20"/><circle cx="1076.0" cy="791.6" r="8.20"/><circle cx="1077.0" cy="792.7" r="8.20"/><circle cx="1078.0" cy="793.7" r="8.20"/><circle cx="1079.0" cy="794.1" r="8.20"/><circle cx="1080.0" cy="794.4" r="8.20"/><circle cx="1081.0" cy="794.8" r="8.20"/><circle cx="1082.0" cy="795.1" r="8.20"/><circle cx="1083.0" cy="795.5" r="8.20"/><circle cx="1084.0" cy="795.8" r="8.20"/><circle cx="1085.0" cy="796.2" r="8.20"/><circle cx="1086.0" cy="796.5" r="8.20"/><circle cx="1087.0" cy="796.8" r="8.20"/><circle cx="1088.0" cy="796.8" r="8.20"/><circle cx="1089.0" cy="796.7" r="8.20"/><circle cx="1090.0" cy="796.7" r="8.20"/><circle cx="1091.0" cy="796.7" r="8.20"/><circle cx="1092.0" cy="796.6" r="8.20"/><circle cx="1093.0" cy="796.6" r="8.20"/><circle cx="1094.0" cy="796.6" r="8.20"/><circle cx="1095.0" cy="796.5" r="8.20"/><circle cx="1096.0" cy="796.5" r="8.20"/><circle cx="1097.0" cy="796.5" r="8.20"/><circle cx="1098.0" cy="796.5" r="8.20"/><circle cx="1099.0" cy="796.4" r="8.20"/><circle cx="1100.0" cy="796.4" r="8.20"/><circle cx="1101.0" cy="796.3" r="8.20"/><circle cx="1102.0" cy="796.2" r="8.20"/><circle cx="1103.0" cy="796.1" r="8.20"/><circle cx="1104.0" cy="796.0" r="8.20"/><circle cx="1105.0" cy="795.9" r="8.20"/><circle cx="1106.0" cy="795.9" r="8.20"/><circle cx="1107.0" cy="795.8" r="8.20"/><circle cx="1108.0" cy="795.7" r="8.20"/><circle cx="1109.0" cy="795.6" r="8.20"/><circle cx="1110.0" cy="795.5" r="8.20"/><circle cx="1111.0" cy="795.4" r="8.20"/><circle cx="1112.0" cy="795.3" r="8.20"/><circle cx="1113.0" cy="795.2" r="8.20"/><circle cx="1114.0" cy="795.1" r="8.20"/><circle cx="1115.0" cy="795.1" r="8.20"/><circle cx="1116.0" cy="794.8" r="8.20"/><circle cx="1117.0" cy="794.6" r="8.20"/><circle cx="1118.0" cy="794.4" r="8.20"/><circle cx="1119.0" cy="794.1" r="8.20"/><circle cx="1120.0" cy="793.9" r="8.20"/><circle cx="1121.0" cy="793.7" r="8.20"/><circle cx="1122.0" cy="793.4" r="8.20"/><circle cx="1123.0" cy="793.2" r="8.20"/><circle cx="1124.0" cy="793.0" r="8.20"/><circle cx="1125.0" cy="792.7" r="8.20"/><circle cx="1126.0" cy="792.5" r="8.20"/><circle cx="1127.0" cy="792.3" r="8.20"/><circle cx="1128.0" cy="792.0" r="8.20"/><circle cx="1129.0" cy="791.8" r="8.20"/><circle cx="1130.0" cy="791.5" r="8.20"/><circle cx="1131.0" cy="791.3" r="8.20"/><circle cx="1132.0" cy="791.0" r="8.20"/><circle cx="1133.0" cy="790.8" r="8.20"/><circle cx="1134.0" cy="790.5" r="8.20"/><circle cx="1135.0" cy="790.2" r="8.20"/><circle cx="1136.0" cy="790.0" r="8.20"/><circle cx="1137.0" cy="789.7" r="8.20"/><circle cx="1138.0" cy="789.5" r="8.20"/><circle cx="1139.0" cy="789.2" r="8.20"/><circle cx="1140.0" cy="789.0" r="8.20"/><circle cx="1141.0" cy="788.7" r="8.20"/><circle cx="1142.0" cy="788.4" r="8.20"/><circle cx="1143.0" cy="788.0" r="8.20"/><circle cx="1144.0" cy="787.7" r="8.20"/><circle cx="1145.0" cy="787.4" r="8.20"/><circle cx="1146.0" cy="787.0" r="8.20"/><circle cx="1147.0" cy="786.7" r="8.20"/><circle cx="1148.0" cy="786.4" r="8.20"/><circle cx="1149.0" cy="786.0" r="8.20"/><circle cx="1150.0" cy="785.7" r="8.20"/><circle cx="1152.0" cy="785.0" r="8.20"/><circle cx="1154.0" cy="784.4" r="8.20"/><circle cx="1156.0" cy="783.7" r="8.20"/><circle cx="1158.0" cy="783.0" r="8.20"/><circle cx="1160.0" cy="782.6" r="8.20"/><circle cx="1162.0" cy="782.2" r="8.20"/><circle cx="1164.0" cy="781.7" r="8.20"/><circle cx="1166.0" cy="781.3" r="8.20"/><circle cx="1168.0" cy="780.9" r="8.20"/><circle cx="1170.0" cy="780.5" r="8.20"/><circle cx="1172.0" cy="780.1" r="8.20"/><circle cx="1174.0" cy="779.6" r="8.20"/><circle cx="1176.0" cy="779.2" r="8.20"/><circle cx="1178.0" cy="778.8" r="8.20"/><circle cx="1180.0" cy="778.4" r="8.20"/><circle cx="1182.0" cy="778.0" r="8.20"/><circle cx="1184.0" cy="777.6" r="8.20"/><circle cx="1186.0" cy="777.1" r="8.20"/><circle cx="1188.0" cy="776.7" r="8.20"/><circle cx="1190.0" cy="776.3" r="8.20"/><circle cx="1192.0" cy="775.9" r="8.20"/><circle cx="1194.0" cy="775.5" r="8.20"/><circle cx="1196.0" cy="775.1" r="8.20"/><circle cx="1198.0" cy="774.6" r="8.20"/><circle cx="1200.0" cy="774.2" r="8.20"/><circle cx="1202.0" cy="773.8" r="8.20"/><circle cx="1204.0" cy="773.5" r="8.20"/><circle cx="1206.0" cy="773.1" r="8.20"/><circle cx="1208.0" cy="772.8" r="8.20"/><circle cx="1210.0" cy="772.5" r="8.20"/><circle cx="1212.0" cy="772.1" r="8.20"/><circle cx="1214.0" cy="771.8" r="8.20"/><circle cx="1216.0" cy="771.5" r="8.20"/><circle cx="1218.0" cy="771.1" r="8.20"/><circle cx="1220.0" cy="770.8" r="8.20"/><circle cx="1222.0" cy="770.5" r="8.20"/><circle cx="1224.0" cy="770.1" r="8.20"/><circle cx="1226.0" cy="769.8" r="8.20"/><circle cx="1228.0" cy="769.4" r="8.20"/><circle cx="1230.0" cy="769.1" r="8.20"/><circle cx="1232.0" cy="768.8" r="8.20"/><circle cx="1234.0" cy="768.4" r="8.20"/><circle cx="1236.0" cy="768.1" r="8.20"/><circle cx="1238.0" cy="767.8" r="8.20"/><circle cx="1240.0" cy="767.4" r="8.20"/><circle cx="1242.0" cy="767.1" r="8.20"/><circle cx="1244.0" cy="766.7" r="8.20"/><circle cx="1246.0" cy="766.4" r="8.20"/><circle cx="1248.0" cy="766.1" r="8.20"/><circle cx="1250.0" cy="765.7" r="8.20"/><circle cx="1252.0" cy="765.4" r="8.20"/><circle cx="1254.0" cy="765.1" r="8.20"/><circle cx="1256.0" cy="764.7" r="8.20"/><circle cx="1258.0" cy="764.4" r="8.20"/><circle cx="1260.0" cy="764.0" r="8.20"/><circle cx="1262.0" cy="763.7" r="8.20"/><circle cx="1264.0" cy="763.4" r="8.20"/><circle cx="1266.0" cy="763.0" r="8.20"/><circle cx="1268.0" cy="762.7" r="8.20"/><circle cx="1270.0" cy="762.4" r="8.20"/><circle cx="1272.0" cy="762.0" r="8.20"/><circle cx="1274.0" cy="761.7" r="8.20"/><circle cx="1276.0" cy="761.4" r="8.20"/><circle cx="1278.0" cy="761.0" r="8.20"/><circle cx="1280.0" cy="760.7" r="8.20"/><circle cx="1282.0" cy="760.4" r="8.20"/><circle cx="1284.0" cy="760.0" r="8.20"/><circle cx="1286.0" cy="759.7" r="8.20"/><circle cx="1288.0" cy="759.4" r="8.20"/><circle cx="1290.0" cy="759.0" r="8.20"/><circle cx="1292.0" cy="758.7" r="8.20"/><circle cx="1294.0" cy="758.3" r="8.20"/><circle cx="1296.0" cy="758.0" r="8.20"/><circle cx="1298.0" cy="757.7" r="8.20"/><circle cx="1300.0" cy="757.3" r="8.20"/><circle cx="1302.0" cy="757.0" r="8.20"/><circle cx="1304.0" cy="756.7" r="8.20"/><circle cx="1306.0" cy="756.3" r="8.20"/><circle cx="1308.0" cy="756.0" r="8.20"/><circle cx="1310.0" cy="755.7" r="8.20"/><circle cx="1312.0" cy="755.3" r="8.20"/><circle cx="1314.0" cy="755.0" r="8.20"/><circle cx="1316.0" cy="754.7" r="8.20"/><circle cx="1318.0" cy="754.3" r="8.20"/><circle cx="1320.0" cy="754.0" r="8.20"/><circle cx="1322.0" cy="753.7" r="8.20"/><circle cx="1324.0" cy="753.3" r="8.20"/><circle cx="1326.0" cy="753.0" r="8.20"/><circle cx="1328.0" cy="752.7" r="8.20"/><circle cx="1330.0" cy="752.3" r="8.20"/><circle cx="1332.0" cy="752.0" r="8.20"/><circle cx="1334.0" cy="751.7" r="8.20"/><circle cx="1336.0" cy="751.3" r="8.20"/><circle cx="1338.0" cy="751.0" r="8.20"/><circle cx="1340.0" cy="750.6" r="8.20"/><circle cx="1342.0" cy="750.3" r="8.20"/><circle cx="1344.0" cy="750.0" r="8.20"/><circle cx="1346.0" cy="749.6" r="8.20"/><circle cx="1348.0" cy="749.3" r="8.20"/><circle cx="1350.0" cy="748.9" r="8.20"/><circle cx="1352.0" cy="748.6" r="8.20"/><circle cx="1354.0" cy="748.3" r="8.20"/><circle cx="1356.0" cy="747.9" r="8.20"/><circle cx="1358.0" cy="747.6" r="8.20"/><circle cx="1360.0" cy="747.3" r="8.20"/><circle cx="1362.0" cy="746.9" r="8.20"/><circle cx="1364.0" cy="746.6" r="8.20"/><circle cx="1366.0" cy="746.2" r="8.20"/><circle cx="1368.0" cy="745.9" r="8.20"/><circle cx="1370.0" cy="745.6" r="8.20"/><circle cx="1372.0" cy="745.2" r="8.20"/><circle cx="1374.0" cy="744.9" r="8.20"/><circle cx="1376.0" cy="744.5" r="8.20"/><circle cx="1378.0" cy="744.2" r="8.20"/><circle cx="1380.0" cy="743.9" r="8.20"/><circle cx="1382.0" cy="743.5" r="8.20"/><circle cx="1384.0" cy="743.2" r="8.20"/><circle cx="1386.0" cy="742.9" r="8.20"/><circle cx="1388.0" cy="742.5" r="8.20"/><circle cx="1390.0" cy="742.2" r="8.20"/><circle cx="1392.0" cy="741.8" r="8.20"/><circle cx="1394.0" cy="741.5" r="8.20"/><circle cx="1396.0" cy="741.2" r="8.20"/><circle cx="1398.0" cy="740.8" r="8.20"/><circle cx="1400.0" cy="740.5" r="8.20"/><circle cx="1402.0" cy="740.2" r="8.20"/><circle cx="1404.0" cy="739.8" r="8.20"/><circle cx="1406.0" cy="739.5" r="8.20"/><circle cx="1408.0" cy="739.1" r="8.20"/><circle cx="1410.0" cy="738.8" r="8.20"/><circle cx="1412.0" cy="738.5" r="8.20"/><circle cx="1414.0" cy="738.1" r="8.20"/><circle cx="1416.0" cy="737.8" r="8.20"/><circle cx="1418.0" cy="737.4" r="8.20"/><circle cx="1420.0" cy="737.1" r="8.20"/><circle cx="1422.0" cy="736.8" r="8.20"/><circle cx="1424.0" cy="736.4" r="8.20"/><circle cx="1426.0" cy="736.1" r="8.20"/><circle cx="1428.0" cy="735.8" r="8.20"/><circle cx="1430.0" cy="735.4" r="8.20"/><circle cx="1432.0" cy="735.1" r="8.20"/><circle cx="1434.0" cy="734.7" r="8.20"/><circle cx="1436.0" cy="734.4" r="8.20"/><circle cx="1438.0" cy="734.1" r="8.20"/><circle cx="1440.0" cy="733.7" r="8.20"/><circle cx="1442.0" cy="733.4" r="8.20"/><circle cx="1444.0" cy="733.0" r="8.20"/><circle cx="1446.0" cy="732.7" r="8.20"/><circle cx="1448.0" cy="732.4" r="8.20"/><circle cx="1450.0" cy="732.0" r="8.20"/><circle cx="1452.0" cy="731.7" r="8.20"/><circle cx="1454.0" cy="731.4" r="8.20"/><circle cx="1456.0" cy="731.0" r="8.20"/><circle cx="1458.0" cy="730.7" r="8.20"/><circle cx="1460.0" cy="730.3" r="8.20"/><circle cx="1462.0" cy="730.0" r="8.20"/><circle cx="1464.0" cy="729.7" r="8.20"/><circle cx="1466.0" cy="729.3" r="8.20"/><circle cx="1468.0" cy="729.0" r="8.20"/><circle cx="1470.0" cy="728.7" r="8.20"/><circle cx="1472.0" cy="728.3" r="8.20"/><circle cx="1474.0" cy="728.0" r="8.20"/><circle cx="1476.0" cy="727.6" r="8.20"/><circle cx="1478.0" cy="727.3" r="8.20"/><circle cx="1480.0" cy="727.0" r="8.20"/><circle cx="1482.0" cy="726.6" r="8.20"/><circle cx="1484.0" cy="726.2" r="8.20"/><circle cx="1486.0" cy="725.8" r="8.20"/><circle cx="1488.0" cy="725.4" r="8.20"/><circle cx="1490.0" cy="725.0" r="8.20"/><circle cx="1492.0" cy="724.6" r="8.20"/><circle cx="1494.0" cy="724.2" r="8.20"/><circle cx="1496.0" cy="723.8" r="8.20"/><circle cx="1498.0" cy="723.4" r="8.20"/><circle cx="1500.0" cy="723.0" r="8.20"/><circle cx="1502.0" cy="722.6" r="8.20"/><circle cx="1504.0" cy="722.2" r="8.20"/><circle cx="1506.0" cy="721.8" r="8.20"/><circle cx="1508.0" cy="721.4" r="8.20"/><circle cx="1510.0" cy="721.0" r="8.20"/><circle cx="1512.0" cy="720.6" r="8.20"/><circle cx="1514.0" cy="720.2" r="8.20"/><circle cx="1516.0" cy="719.8" r="8.20"/><circle cx="1518.0" cy="719.4" r="8.20"/><circle cx="1520.0" cy="719.0" r="8.20"/><circle cx="1522.0" cy="718.6" r="8.20"/><circle cx="1524.0" cy="718.2" r="8.20"/><circle cx="1526.0" cy="717.8" r="8.20"/><circle cx="1528.0" cy="717.4" r="8.20"/><circle cx="1530.0" cy="717.0" r="8.20"/><circle cx="1532.0" cy="716.6" r="8.20"/><circle cx="1534.0" cy="716.2" r="8.20"/><circle cx="1536.0" cy="715.8" r="8.20"/><circle cx="1538.0" cy="715.4" r="8.20"/><circle cx="1540.0" cy="715.0" r="8.20"/><circle cx="1542.0" cy="714.6" r="8.20"/><circle cx="1544.0" cy="714.2" r="8.20"/><circle cx="1546.0" cy="713.8" r="8.20"/><circle cx="1548.0" cy="713.4" r="8.20"/><circle cx="1550.0" cy="713.0" r="8.20"/><circle cx="1552.0" cy="712.6" r="8.20"/><circle cx="1554.0" cy="712.2" r="8.20"/><circle cx="1556.0" cy="711.8" r="8.20"/><circle cx="1558.0" cy="711.3" r="8.20"/><circle cx="1560.0" cy="710.9" r="8.20"/><circle cx="1562.0" cy="710.5" r="8.20"/><circle cx="1564.0" cy="710.0" r="8.20"/><circle cx="1566.0" cy="709.6" r="8.20"/><circle cx="1568.0" cy="709.2" r="8.20"/><circle cx="1570.0" cy="708.7" r="8.20"/><circle cx="1572.0" cy="708.3" r="8.20"/><circle cx="1574.0" cy="707.8" r="8.20"/><circle cx="1576.0" cy="707.4" r="8.20"/><circle cx="1578.0" cy="707.0" r="8.20"/><circle cx="1580.0" cy="706.5" r="8.20"/><circle cx="1582.0" cy="706.1" r="8.20"/><circle cx="1584.0" cy="705.6" r="8.20"/><circle cx="1586.0" cy="705.2" r="8.20"/><circle cx="1588.0" cy="704.8" r="8.20"/><circle cx="1590.0" cy="704.3" r="8.20"/><circle cx="1592.0" cy="703.9" r="8.20"/><circle cx="1594.0" cy="703.4" r="8.20"/><circle cx="1596.0" cy="703.0" r="8.20"/><circle cx="1598.0" cy="702.6" r="8.20"/><circle cx="1600.0" cy="702.1" r="8.20"/><circle cx="1602.0" cy="701.7" r="8.20"/><circle cx="1604.0" cy="701.3" r="8.20"/><circle cx="1606.0" cy="700.8" r="8.20"/><circle cx="1608.0" cy="700.4" r="8.20"/><circle cx="1610.0" cy="699.9" r="8.20"/><circle cx="1612.0" cy="699.5" r="8.20"/><circle cx="1614.0" cy="699.1" r="8.20"/><circle cx="1616.0" cy="698.6" r="8.20"/><circle cx="1618.0" cy="698.2" r="8.20"/><circle cx="1620.0" cy="697.7" r="8.20"/><circle cx="1622.0" cy="697.3" r="8.20"/><circle cx="1624.0" cy="696.9" r="8.20"/><circle cx="1626.0" cy="696.4" r="8.20"/><circle cx="1628.0" cy="696.0" r="8.20"/><circle cx="1630.0" cy="695.5" r="8.20"/><circle cx="1632.0" cy="695.1" r="8.20"/><circle cx="1634.0" cy="694.6" r="8.20"/><circle cx="1636.0" cy="694.2" r="8.20"/><circle cx="1638.0" cy="693.7" r="8.20"/><circle cx="1640.0" cy="693.2" r="8.20"/><circle cx="1642.0" cy="692.8" r="8.20"/><circle cx="1644.0" cy="692.3" r="8.20"/><circle cx="1646.0" cy="691.9" r="8.20"/><circle cx="1648.0" cy="691.4" r="8.20"/><circle cx="1650.0" cy="690.9" r="8.20"/><circle cx="1652.0" cy="690.5" r="8.20"/><circle cx="1654.0" cy="690.0" r="8.20"/><circle cx="1656.0" cy="689.5" r="8.20"/><circle cx="1658.0" cy="689.1" r="8.20"/><circle cx="1660.0" cy="688.6" r="8.20"/><circle cx="1662.0" cy="688.2" r="8.20"/><circle cx="1664.0" cy="687.7" r="8.20"/><circle cx="1666.0" cy="687.2" r="8.20"/><circle cx="1668.0" cy="686.8" r="8.20"/><circle cx="1670.0" cy="686.4" r="8.20"/><circle cx="1672.0" cy="686.0" r="8.20"/><circle cx="1674.0" cy="685.7" r="8.20"/><circle cx="1676.0" cy="685.3" r="8.20"/><circle cx="1678.0" cy="684.9" r="8.20"/><circle cx="1680.0" cy="684.5" r="8.20"/><circle cx="1682.0" cy="684.1" r="8.20"/><circle cx="1684.0" cy="683.7" r="8.20"/><circle cx="1686.0" cy="683.3" r="8.20"/><circle cx="1688.0" cy="682.9" r="8.20"/><circle cx="1690.0" cy="682.5" r="8.20"/><circle cx="1692.0" cy="682.1" r="8.20"/><circle cx="1694.0" cy="681.7" r="8.20"/><circle cx="1696.0" cy="681.4" r="8.20"/><circle cx="1698.0" cy="681.0" r="8.20"/><circle cx="1700.0" cy="680.6" r="8.20"/><circle cx="1702.0" cy="680.2" r="8.20"/><circle cx="1704.0" cy="679.8" r="8.20"/><circle cx="1706.0" cy="679.4" r="8.20"/><circle cx="1708.0" cy="679.0" r="8.20"/><circle cx="1710.0" cy="678.6" r="8.20"/><circle cx="1712.0" cy="678.2" r="8.20"/><circle cx="1714.0" cy="677.8" r="8.20"/><circle cx="1716.0" cy="677.5" r="8.20"/><circle cx="1718.0" cy="677.1" r="8.20"/><circle cx="1720.0" cy="676.7" r="8.20"/><circle cx="1722.0" cy="676.3" r="8.20"/><circle cx="1724.0" cy="675.9" r="8.20"/><circle cx="1726.0" cy="675.4" r="8.20"/><circle cx="1728.0" cy="675.0" r="8.20"/><circle cx="1730.0" cy="674.5" r="8.20"/><circle cx="1732.0" cy="674.1" r="8.20"/><circle cx="1734.0" cy="673.7" r="8.20"/><circle cx="1736.0" cy="673.2" r="8.20"/><circle cx="1738.0" cy="672.8" r="8.20"/><circle cx="1740.0" cy="672.4" r="8.20"/><circle cx="1742.0" cy="671.9" r="8.20"/><circle cx="1744.0" cy="671.5" r="8.20"/><circle cx="1746.0" cy="671.0" r="8.20"/><circle cx="1748.0" cy="670.6" r="8.20"/><circle cx="1750.0" cy="670.2" r="8.20"/><circle cx="1752.0" cy="669.7" r="8.20"/><circle cx="1754.0" cy="669.3" r="8.20"/><circle cx="1756.0" cy="668.8" r="8.20"/><circle cx="1758.0" cy="668.4" r="8.20"/><circle cx="1760.0" cy="668.0" r="8.20"/><circle cx="1762.0" cy="667.5" r="8.20"/><circle cx="1764.0" cy="667.1" r="8.20"/><circle cx="1766.0" cy="666.7" r="8.20"/><circle cx="1768.0" cy="666.2" r="8.20"/><circle cx="1770.0" cy="665.8" r="8.20"/><circle cx="1772.0" cy="665.3" r="8.20"/><circle cx="1774.0" cy="664.9" r="8.20"/><circle cx="1776.0" cy="664.5" r="8.20"/><circle cx="1778.0" cy="664.0" r="8.20"/><circle cx="1779.4" cy="663.7" r="8.20"/><circle cx="1158.7" cy="787.0" r="8.20"/><circle cx="1174.7" cy="783.7" r="8.20"/><circle cx="1191.6" cy="780.2" r="8.20"/><circle cx="1207.9" cy="777.0" r="8.20"/><circle cx="1224.1" cy="774.3" r="8.20"/><circle cx="1239.9" cy="771.6" r="8.20"/><circle cx="1255.9" cy="768.9" r="8.20"/><circle cx="1272.2" cy="766.2" r="8.20"/><circle cx="1288.0" cy="763.5" r="8.20"/><circle cx="1304.2" cy="760.8" r="8.20"/><circle cx="1320.0" cy="758.2" r="8.20"/><circle cx="1335.1" cy="755.6" r="8.20"/><circle cx="1350.8" cy="753.0" r="8.20"/><circle cx="1366.2" cy="750.4" r="8.20"/><circle cx="1381.8" cy="747.8" r="8.20"/><circle cx="1397.5" cy="745.1" r="8.20"/><circle cx="1414.0" cy="742.3" r="8.20"/><circle cx="1429.1" cy="739.8" r="8.20"/><circle cx="1444.5" cy="737.1" r="8.20"/><circle cx="1459.3" cy="734.6" r="8.20"/><circle cx="1474.4" cy="732.1" r="8.20"/><circle cx="1489.5" cy="729.3" r="8.20"/><circle cx="1504.6" cy="726.2" r="8.20"/><circle cx="1519.2" cy="723.3" r="8.20"/><circle cx="1533.7" cy="720.4" r="8.20"/><circle cx="1548.6" cy="717.5" r="8.20"/><circle cx="1563.1" cy="714.4" r="8.20"/><circle cx="1577.7" cy="711.2" r="8.20"/><circle cx="1592.0" cy="708.1" r="8.20"/><circle cx="1606.3" cy="704.9" r="8.20"/><circle cx="1620.8" cy="701.7" r="8.20"/><circle cx="1635.1" cy="698.5" r="8.20"/><circle cx="1649.1" cy="695.3" r="8.20"/><circle cx="1663.4" cy="692.0" r="8.20"/><circle cx="1677.7" cy="689.1" r="8.20"/><circle cx="1691.7" cy="686.4" r="8.20"/><circle cx="1706.0" cy="683.6" r="8.20"/><circle cx="1719.8" cy="680.9" r="8.20"/><circle cx="1736.2" cy="677.4" r="8.20"/><circle cx="1750.0" cy="674.3" r="8.20"/><circle cx="1763.7" cy="671.3" r="8.20"/><circle cx="1777.4" cy="668.3" r="8.20"/><circle cx="1158.7" cy="858.7" r="8.20"/><circle cx="1159.5" cy="863.7" r="8.20"/><circle cx="1174.7" cy="856.2" r="8.20"/><circle cx="1175.5" cy="861.3" r="8.20"/><circle cx="1191.6" cy="853.5" r="8.20"/><circle cx="1192.4" cy="858.7" r="8.20"/><circle cx="1207.9" cy="851.1" r="8.20"/><circle cx="1208.7" cy="856.6" r="8.20"/><circle cx="1224.1" cy="848.8" r="8.20"/><circle cx="1224.9" cy="854.4" r="8.20"/><circle cx="1239.9" cy="846.5" r="8.20"/><circle cx="1240.7" cy="852.3" r="8.20"/><circle cx="1255.9" cy="844.1" r="8.20"/><circle cx="1256.7" cy="850.2" r="8.20"/><circle cx="1272.2" cy="841.8" r="8.20"/><circle cx="1273.0" cy="848.1" r="8.20"/><circle cx="1288.0" cy="839.9" r="8.20"/><circle cx="1288.8" cy="846.2" r="8.20"/><circle cx="1304.2" cy="837.9" r="8.20"/><circle cx="1305.0" cy="844.3" r="8.20"/><circle cx="1320.0" cy="836.0" r="8.20"/><circle cx="1320.8" cy="842.5" r="8.20"/><circle cx="1335.1" cy="834.0" r="8.20"/><circle cx="1335.9" cy="840.6" r="8.20"/><circle cx="1350.8" cy="831.9" r="8.20"/><circle cx="1351.6" cy="838.6" r="8.20"/><circle cx="1366.2" cy="829.9" r="8.20"/><circle cx="1367.0" cy="836.6" r="8.20"/><circle cx="1381.8" cy="827.8" r="8.20"/><circle cx="1382.6" cy="834.7" r="8.20"/><circle cx="1397.5" cy="825.7" r="8.20"/><circle cx="1398.3" cy="832.7" r="8.20"/><circle cx="1414.0" cy="823.6" r="8.20"/><circle cx="1414.8" cy="830.6" r="8.20"/><circle cx="1429.1" cy="821.6" r="8.20"/><circle cx="1429.9" cy="828.7" r="8.20"/><circle cx="1444.5" cy="819.5" r="8.20"/><circle cx="1445.3" cy="826.7" r="8.20"/><circle cx="1459.3" cy="817.6" r="8.20"/><circle cx="1460.1" cy="824.9" r="8.20"/><circle cx="1474.4" cy="815.6" r="8.20"/><circle cx="1475.2" cy="823.0" r="8.20"/><circle cx="1489.5" cy="813.7" r="8.20"/><circle cx="1490.3" cy="821.1" r="8.20"/><circle cx="1504.6" cy="811.7" r="8.20"/><circle cx="1505.4" cy="819.2" r="8.20"/><circle cx="1519.2" cy="809.8" r="8.20"/><circle cx="1520.0" cy="817.4" r="8.20"/><circle cx="1533.7" cy="807.9" r="8.20"/><circle cx="1534.5" cy="815.6" r="8.20"/><circle cx="1548.6" cy="806.0" r="8.20"/><circle cx="1549.4" cy="813.7" r="8.20"/><circle cx="1563.1" cy="804.1" r="8.20"/><circle cx="1563.9" cy="811.9" r="8.20"/><circle cx="1577.7" cy="802.2" r="8.20"/><circle cx="1578.5" cy="810.1" r="8.20"/><circle cx="1592.0" cy="800.1" r="8.20"/><circle cx="1592.8" cy="808.2" r="8.20"/><circle cx="1606.3" cy="797.9" r="8.20"/><circle cx="1607.1" cy="806.3" r="8.20"/><circle cx="1620.8" cy="795.7" r="8.20"/><circle cx="1621.6" cy="804.3" r="8.20"/><circle cx="1635.1" cy="793.6" r="8.20"/><circle cx="1635.9" cy="802.5" r="8.20"/><circle cx="1649.1" cy="791.5" r="8.20"/><circle cx="1649.9" cy="800.7" r="8.20"/><circle cx="1663.4" cy="789.5" r="8.20"/><circle cx="1664.2" cy="798.9" r="8.20"/><circle cx="1677.7" cy="787.4" r="8.20"/><circle cx="1678.5" cy="797.0" r="8.20"/><circle cx="1691.7" cy="785.3" r="8.20"/><circle cx="1692.5" cy="795.3" r="8.20"/><circle cx="1706.0" cy="783.2" r="8.20"/><circle cx="1706.8" cy="793.4" r="8.20"/><circle cx="1719.8" cy="781.2" r="8.20"/><circle cx="1720.6" cy="791.6" r="8.20"/><circle cx="1736.2" cy="778.2" r="8.20"/><circle cx="1737.0" cy="789.3" r="8.20"/><circle cx="1750.0" cy="775.7" r="8.20"/><circle cx="1750.8" cy="787.2" r="8.20"/><circle cx="1763.7" cy="773.2" r="8.20"/><circle cx="1764.5" cy="785.2" r="8.20"/><circle cx="1777.4" cy="770.8" r="8.20"/><circle cx="1778.2" cy="783.2" r="8.20"/><circle cx="1141.3" cy="928.0" r="8.20"/><circle cx="1141.0" cy="869.7" r="8.20"/><circle cx="1142.2" cy="865.0" r="8.20"/><circle cx="1728.5" cy="650.8" r="8.20"/><circle cx="1412.0" cy="735.1" r="8.20"/><circle cx="1441.0" cy="731.0" r="8.20"/><circle cx="1495.0" cy="721.5" r="8.20"/></g>
<g fill="#0000ff"><rect x="1062.7" y="764.6" width="16.2" height="16.2"/><rect x="1062.7" y="770.9" width="16.2" height="16.2"/><rect x="1062.7" y="777.9" width="16.2" height="16.2"/><rect x="1064.2" y="764.6" width="16.2" height="16.2"/><rect x="1064.2" y="770.9" width="16.2" height="16.2"/><rect x="1064.2" y="777.9" width="16.2" height="16.2"/><rect x="1065.7" y="769.8" width="16.2" height="16.2"/><rect x="1065.7" y="775.6" width="16.2" height="16.2"/><rect x="1067.2" y="770.1" width="16.2" height="16.2"/><rect x="1067.2" y="775.9" width="16.2" height="16.2"/><rect x="1068.7" y="770.4" width="16.2" height="16.2"/><rect x="1068.7" y="776.2" width="16.2" height="16.2"/><rect x="1070.2" y="770.7" width="16.2" height="16.2"/><rect x="1070.2" y="776.5" width="16.2" height="16.2"/><rect x="1071.7" y="771.1" width="16.2" height="16.2"/><rect x="1071.7" y="776.9" width="16.2" height="16.2"/><rect x="1073.2" y="771.4" width="16.2" height="16.2"/><rect x="1073.2" y="777.2" width="16.2" height="16.2"/><rect x="1074.7" y="771.7" width="16.2" height="16.2"/><rect x="1074.7" y="777.5" width="16.2" height="16.2"/><rect x="1076.2" y="771.9" width="16.2" height="16.2"/><rect x="1076.2" y="777.7" width="16.2" height="16.2"/><rect x="1077.7" y="771.4" width="16.2" height="16.2"/><rect x="1077.7" y="777.2" width="16.2" height="16.2"/><rect x="1079.2" y="770.9" width="16.2" height="16.2"/><rect x="1079.2" y="776.7" width="16.2" height="16.2"/><rect x="1080.7" y="770.4" width="16.2" height="16.2"/><rect x="1080.7" y="776.2" width="16.2" height="16.2"/><rect x="1082.2" y="769.8" width="16.2" height="16.2"/><rect x="1082.2" y="775.6" width="16.2" height="16.2"/><rect x="1083.7" y="769.3" width="16.2" height="16.2"/><rect x="1083.7" y="775.1" width="16.2" height="16.2"/><rect x="1085.2" y="768.8" width="16.2" height="16.2"/><rect x="1085.2" y="774.6" width="16.2" height="16.2"/><rect x="1086.7" y="768.3" width="16.2" height="16.2"/><rect x="1086.7" y="774.1" width="16.2" height="16.2"/><rect x="1088.2" y="767.8" width="16.2" height="16.2"/><rect x="1088.2" y="773.6" width="16.2" height="16.2"/><rect x="1089.7" y="767.2" width="16.2" height="16.2"/><rect x="1089.7" y="773.0" width="16.2" height="16.2"/><rect x="1091.2" y="766.7" width="16.2" height="16.2"/><rect x="1091.2" y="772.5" width="16.2" height="16.2"/><rect x="1092.7" y="766.2" width="16.2" height="16.2"/><rect x="1092.7" y="772.0" width="16.2" height="16.2"/><rect x="1094.2" y="765.8" width="16.2" height="16.2"/><rect x="1094.2" y="771.6" width="16.2" height="16.2"/><rect x="1095.7" y="765.3" width="16.2" height="16.2"/><rect x="1095.7" y="771.1" width="16.2" height="16.2"/><rect x="1097.2" y="764.8" width="16.2" height="16.2"/><rect x="1097.2" y="770.6" width="16.2" height="16.2"/><rect x="1098.7" y="764.4" width="16.2" height="16.2"/><rect x="1098.7" y="770.2" width="16.2" height="16.2"/><rect x="1100.2" y="763.9" width="16.2" height="16.2"/><rect x="1100.2" y="769.7" width="16.2" height="16.2"/><rect x="1101.7" y="763.5" width="16.2" height="16.2"/><rect x="1101.7" y="769.3" width="16.2" height="16.2"/><rect x="1103.2" y="763.0" width="16.2" height="16.2"/><rect x="1103.2" y="768.8" width="16.2" height="16.2"/><rect x="1104.7" y="762.5" width="16.2" height="16.2"/><rect x="1104.7" y="768.3" width="16.2" height="16.2"/><rect x="1106.2" y="762.1" width="16.2" height="16.2"/><rect x="1106.2" y="767.9" width="16.2" height="16.2"/><rect x="1107.7" y="761.6" width="16.2" height="16.2"/><rect x="1107.7" y="767.4" width="16.2" height="16.2"/><rect x="1109.2" y="761.2" width="16.2" height="16.2"/><rect x="1109.2" y="767.0" width="16.2" height="16.2"/><rect x="1110.7" y="760.8" width="16.2" height="16.2"/><rect x="1110.7" y="766.6" width="16.2" height="16.2"/><rect x="1112.2" y="760.5" width="16.2" height="16.2"/><rect x="1112.2" y="766.3" width="16.2" height="16.2"/><rect x="1113.7" y="760.2" width="16.2" height="16.2"/><rect x="1113.7" y="766.0" width="16.2" height="16.2"/><rect x="1115.2" y="759.9" width="16.2" height="16.2"/><rect x="1115.2" y="765.7" width="16.2" height="16.2"/><rect x="1116.7" y="759.6" width="16.2" height="16.2"/><rect x="1116.7" y="765.4" width="16.2" height="16.2"/><rect x="1118.2" y="759.3" width="16.2" height="16.2"/><rect x="1118.2" y="765.1" width="16.2" height="16.2"/><rect x="1119.7" y="759.0" width="16.2" height="16.2"/><rect x="1119.7" y="764.8" width="16.2" height="16.2"/><rect x="1121.2" y="758.7" width="16.2" height="16.2"/><rect x="1121.2" y="764.5" width="16.2" height="16.2"/><rect x="1122.7" y="758.4" width="16.2" height="16.2"/><rect x="1122.7" y="764.2" width="16.2" height="16.2"/><rect x="1124.2" y="758.1" width="16.2" height="16.2"/><rect x="1124.2" y="763.9" width="16.2" height="16.2"/><rect x="1125.7" y="757.8" width="16.2" height="16.2"/><rect x="1125.7" y="763.6" width="16.2" height="16.2"/><rect x="1127.2" y="757.5" width="16.2" height="16.2"/><rect x="1127.2" y="763.3" width="16.2" height="16.2"/><rect x="1128.7" y="757.2" width="16.2" height="16.2"/><rect x="1128.7" y="763.0" width="16.2" height="16.2"/><rect x="1130.2" y="756.9" width="16.2" height="16.2"/><rect x="1130.2" y="762.7" width="16.2" height="16.2"/><rect x="1131.7" y="756.8" width="16.2" height="16.2"/><rect x="1131.7" y="762.6" width="16.2" height="16.2"/><rect x="1133.2" y="756.6" width="16.2" height="16.2"/><rect x="1133.2" y="762.4" width="16.2" height="16.2"/><rect x="1134.7" y="756.5" width="16.2" height="16.2"/><rect x="1134.7" y="762.3" width="16.2" height="16.2"/><rect x="1136.2" y="756.4" width="16.2" height="16.2"/><rect x="1136.2" y="762.2" width="16.2" height="16.2"/><rect x="1137.7" y="756.2" width="16.2" height="16.2"/><rect x="1137.7" y="762.0" width="16.2" height="16.2"/><rect x="1139.2" y="756.1" width="16.2" height="16.2"/><rect x="1139.2" y="761.9" width="16.2" height="16.2"/><rect x="1140.7" y="756.0" width="16.2" height="16.2"/><rect x="1140.7" y="761.8" width="16.2" height="16.2"/><rect x="1142.2" y="755.8" width="16.2" height="16.2"/><rect x="1142.2" y="761.6" width="16.2" height="16.2"/><rect x="1143.7" y="755.7" width="16.2" height="16.2"/><rect x="1143.7" y="761.5" width="16.2" height="16.2"/><rect x="1145.2" y="755.5" width="16.2" height="16.2"/><rect x="1145.2" y="761.3" width="16.2" height="16.2"/><rect x="1146.7" y="755.4" width="16.2" height="16.2"/><rect x="1146.7" y="761.2" width="16.2" height="16.2"/><rect x="1148.2" y="755.3" width="16.2" height="16.2"/><rect x="1148.2" y="761.1" width="16.2" height="16.2"/><rect x="1149.7" y="755.1" width="16.2" height="16.2"/><rect x="1149.7" y="760.9" width="16.2" height="16.2"/><rect x="1151.2" y="755.0" width="16.2" height="16.2"/><rect x="1151.2" y="760.8" width="16.2" height="16.2"/><rect x="1152.7" y="754.9" width="16.2" height="16.2"/><rect x="1152.7" y="760.7" width="16.2" height="16.2"/><rect x="1154.2" y="754.7" width="16.2" height="16.2"/><rect x="1154.2" y="760.5" width="16.2" height="16.2"/><rect x="1155.7" y="754.6" width="16.2" height="16.2"/><rect x="1155.7" y="760.4" width="16.2" height="16.2"/><rect x="1157.2" y="754.3" width="16.2" height="16.2"/><rect x="1157.2" y="760.1" width="16.2" height="16.2"/><rect x="1158.7" y="754.1" width="16.2" height="16.2"/><rect x="1158.7" y="759.9" width="16.2" height="16.2"/><rect x="1160.2" y="753.9" width="16.2" height="16.2"/><rect x="1160.2" y="759.7" width="16.2" height="16.2"/><rect x="1161.7" y="753.6" width="16.2" height="16.2"/><rect x="1161.7" y="759.4" width="16.2" height="16.2"/><rect x="1163.2" y="753.4" width="16.2" height="16.2"/><rect x="1163.2" y="759.2" width="16.2" height="16.2"/><rect x="1164.7" y="753.2" width="16.2" height="16.2"/><rect x="1164.7" y="759.0" width="16.2" height="16.2"/><rect x="1166.2" y="752.9" width="16.2" height="16.2"/><rect x="1166.2" y="758.7" width="16.2" height="16.2"/><rect x="1167.7" y="752.7" width="16.2" height="16.2"/><rect x="1167.7" y="758.5" width="16.2" height="16.2"/><rect x="1169.2" y="752.4" width="16.2" height="16.2"/><rect x="1169.2" y="758.2" width="16.2" height="16.2"/><rect x="1170.7" y="752.2" width="16.2" height="16.2"/><rect x="1170.7" y="758.0" width="16.2" height="16.2"/><rect x="1172.2" y="752.0" width="16.2" height="16.2"/><rect x="1172.2" y="757.8" width="16.2" height="16.2"/><rect x="1173.7" y="751.7" width="16.2" height="16.2"/><rect x="1173.7" y="757.5" width="16.2" height="16.2"/><rect x="1175.2" y="751.5" width="16.2" height="16.2"/><rect x="1175.2" y="757.3" width="16.2" height="16.2"/><rect x="1176.7" y="751.3" width="16.2" height="16.2"/><rect x="1176.7" y="757.1" width="16.2" height="16.2"/><rect x="1178.2" y="751.0" width="16.2" height="16.2"/><rect x="1178.2" y="756.8" width="16.2" height="16.2"/><rect x="1179.7" y="750.8" width="16.2" height="16.2"/><rect x="1179.7" y="756.6" width="16.2" height="16.2"/><rect x="1181.2" y="750.6" width="16.2" height="16.2"/><rect x="1181.2" y="756.4" width="16.2" height="16.2"/><rect x="1182.7" y="750.5" width="16.2" height="16.2"/><rect x="1182.7" y="756.3" width="16.2" height="16.2"/><rect x="1184.2" y="750.4" width="16.2" height="16.2"/><rect x="1184.2" y="756.2" width="16.2" height="16.2"/><rect x="1185.7" y="750.3" width="16.2" height="16.2"/><rect x="1185.7" y="756.1" width="16.2" height="16.2"/><rect x="1187.2" y="750.2" width="16.2" height="16.2"/><rect x="1187.2" y="756.0" width="16.2" height="16.2"/><rect x="1188.7" y="750.1" width="16.2" height="16.2"/><rect x="1188.7" y="755.9" width="16.2" height="16.2"/><rect x="1190.2" y="750.0" width="16.2" height="16.2"/><rect x="1190.2" y="755.8" width="16.2" height="16.2"/><rect x="1191.7" y="749.9" width="16.2" height="16.2"/><rect x="1191.7" y="755.7" width="16.2" height="16.2"/><rect x="1193.2" y="749.8" width="16.2" height="16.2"/><rect x="1193.2" y="755.6" width="16.2" height="16.2"/><rect x="1194.7" y="749.7" width="16.2" height="16.2"/><rect x="1194.7" y="755.5" width="16.2" height="16.2"/><rect x="1196.2" y="749.6" width="16.2" height="16.2"/><rect x="1196.2" y="755.4" width="16.2" height="16.2"/><rect x="1197.7" y="749.5" width="16.2" height="16.2"/><rect x="1197.7" y="755.3" width="16.2" height="16.2"/><rect x="1199.2" y="749.4" width="16.2" height="16.2"/><rect x="1199.2" y="755.2" width="16.2" height="16.2"/><rect x="1200.7" y="749.3" width="16.2" height="16.2"/><rect x="1200.7" y="755.1" width="16.2" height="16.2"/><rect x="1202.2" y="749.2" width="16.2" height="16.2"/><rect x="1202.2" y="755.0" width="16.2" height="16.2"/><rect x="1203.7" y="749.1" width="16.2" height="16.2"/><rect x="1203.7" y="754.9" width="16.2" height="16.2"/><rect x="1205.2" y="749.0" width="16.2" height="16.2"/><rect x="1205.2" y="754.8" width="16.2" height="16.2"/><rect x="1206.7" y="748.8" width="16.2" height="16.2"/><rect x="1206.7" y="754.6" width="16.2" height="16.2"/><rect x="1208.2" y="748.6" width="16.2" height="16.2"/><rect x="1208.2" y="754.4" width="16.2" height="16.2"/><rect x="1209.7" y="748.4" width="16.2" height="16.2"/><rect x="1209.7" y="754.2" width="16.2" height="16.2"/><rect x="1211.2" y="748.2" width="16.2" height="16.2"/><rect x="1211.2" y="754.0" width="16.2" height="16.2"/><rect x="1212.7" y="748.0" width="16.2" height="16.2"/><rect x="1212.7" y="753.8" width="16.2" height="16.2"/><rect x="1214.2" y="747.7" width="16.2" height="16.2"/><rect x="1214.2" y="753.5" width="16.2" height="16.2"/><rect x="1215.7" y="747.5" width="16.2" height="16.2"/><rect x="1215.7" y="753.3" width="16.2" height="16.2"/><rect x="1217.2" y="747.3" width="16.2" height="16.2"/><rect x="1217.2" y="753.1" width="16.2" height="16.2"/><rect x="1218.7" y="747.1" width="16.2" height="16.2"/><rect x="1218.7" y="752.9" width="16.2" height="16.2"/><rect x="1220.2" y="746.9" width="16.2" height="16.2"/><rect x="1220.2" y="752.7" width="16.2" height="16.2"/><rect x="1221.7" y="746.7" width="16.2" height="16.2"/><rect x="1221.7" y="752.5" width="16.2" height="16.2"/><rect x="1223.2" y="746.4" width="16.2" height="16.2"/><rect x="1223.2" y="752.2" width="16.2" height="16.2"/><rect x="1224.7" y="746.2" width="16.2" height="16.2"/><rect x="1224.7" y="752.0" width="16.2" height="16.2"/><rect x="1226.2" y="746.0" width="16.2" height="16.2"/><rect x="1226.2" y="751.8" width="16.2" height="16.2"/><rect x="1227.7" y="745.8" width="16.2" height="16.2"/><rect x="1227.7" y="751.6" width="16.2" height="16.2"/><rect x="1229.2" y="745.6" width="16.2" height="16.2"/><rect x="1229.2" y="751.4" width="16.2" height="16.2"/><rect x="1230.7" y="745.4" width="16.2" height="16.2"/><rect x="1230.7" y="751.2" width="16.2" height="16.2"/><rect x="1232.2" y="745.2" width="16.2" height="16.2"/><rect x="1232.2" y="751.0" width="16.2" height="16.2"/><rect x="1233.7" y="745.1" width="16.2" height="16.2"/><rect x="1233.7" y="750.9" width="16.2" height="16.2"/><rect x="1235.2" y="745.0" width="16.2" height="16.2"/><rect x="1235.2" y="750.8" width="16.2" height="16.2"/><rect x="1236.7" y="744.9" width="16.2" height="16.2"/><rect x="1236.7" y="750.7" width="16.2" height="16.2"/><rect x="1238.2" y="744.8" width="16.2" height="16.2"/><rect x="1238.2" y="750.6" width="16.2" height="16.2"/><rect x="1239.7" y="744.7" width="16.2" height="16.2"/><rect x="1239.7" y="750.5" width="16.2" height="16.2"/><rect x="1241.2" y="744.6" width="16.2" height="16.2"/><rect x="1241.2" y="750.4" width="16.2" height="16.2"/><rect x="1242.7" y="744.5" width="16.2" height="16.2"/><rect x="1242.7" y="750.3" width="16.2" height="16.2"/><rect x="1244.2" y="744.4" width="16.2" height="16.2"/><rect x="1244.2" y="750.2" width="16.2" height="16.2"/><rect x="1245.7" y="744.3" width="16.2" height="16.2"/><rect x="1245.7" y="750.1" width="16.2" height="16.2"/><rect x="1247.2" y="744.2" width="16.2" height="16.2"/><rect x="1247.2" y="750.0" width="16.2" height="16.2"/><rect x="1248.7" y="744.1" width="16.2" height="16.2"/><rect x="1248.7" y="749.9" width="16.2" height="16.2"/><rect x="1250.2" y="744.0" width="16.2" height="16.2"/><rect x="1250.2" y="749.8" width="16.2" height="16.2"/><rect x="1251.7" y="743.9" width="16.2" height="16.2"/><rect x="1251.7" y="749.7" width="16.2" height="16.2"/><rect x="1253.2" y="743.8" width="16.2" height="16.2"/><rect x="1253.2" y="749.6" width="16.2" height="16.2"/><rect x="1254.7" y="743.7" width="16.2" height="16.2"/><rect x="1254.7" y="749.5" width="16.2" height="16.2"/><rect x="1256.2" y="743.6" width="16.2" height="16.2"/><rect x="1256.2" y="749.4" width="16.2" height="16.2"/><rect x="1257.7" y="743.5" width="16.2" height="16.2"/><rect x="1257.7" y="749.3" width="16.2" height="16.2"/><rect x="1259.2" y="743.4" width="16.2" height="16.2"/><rect x="1259.2" y="749.2" width="16.2" height="16.2"/><rect x="1260.7" y="743.3" width="16.2" height="16.2"/><rect x="1260.7" y="749.1" width="16.2" height="16.2"/><rect x="1262.2" y="743.2" width="16.2" height="16.2"/><rect x="1262.2" y="749.0" width="16.2" height="16.2"/><rect x="1263.7" y="743.1" width="16.2" height="16.2"/><rect x="1263.7" y="748.9" width="16.2" height="16.2"/><rect x="1265.2" y="743.0" width="16.2" height="16.2"/><rect x="1265.2" y="748.8" width="16.2" height="16.2"/><rect x="1266.7" y="742.9" width="16.2" height="16.2"/><rect x="1266.7" y="748.7" width="16.2" height="16.2"/><rect x="1268.2" y="742.8" width="16.2" height="16.2"/><rect x="1268.2" y="748.6" width="16.2" height="16.2"/><rect x="1269.7" y="742.7" width="16.2" height="16.2"/><rect x="1269.7" y="748.5" width="16.2" height="16.2"/><rect x="1271.2" y="742.6" width="16.2" height="16.2"/><rect x="1271.2" y="748.4" width="16.2" height="16.2"/><rect x="1272.7" y="742.5" width="16.2" height="16.2"/><rect x="1272.7" y="748.3" width="16.2" height="16.2"/><rect x="1274.2" y="742.4" width="16.2" height="16.2"/><rect x="1274.2" y="748.2" width="16.2" height="16.2"/><rect x="1275.7" y="742.3" width="16.2" height="16.2"/><rect x="1275.7" y="748.1" width="16.2" height="16.2"/><rect x="1277.2" y="742.2" width="16.2" height="16.2"/><rect x="1277.2" y="748.0" width="16.2" height="16.2"/><rect x="1278.7" y="742.1" width="16.2" height="16.2"/><rect x="1278.7" y="747.9" width="16.2" height="16.2"/><rect x="1280.2" y="742.0" width="16.2" height="16.2"/><rect x="1280.2" y="747.8" width="16.2" height="16.2"/><rect x="1281.7" y="741.9" width="16.2" height="16.2"/><rect x="1281.7" y="747.7" width="16.2" height="16.2"/><rect x="1283.2" y="741.8" width="16.2" height="16.2"/><rect x="1283.2" y="747.6" width="16.2" height="16.2"/><rect x="1284.7" y="741.7" width="16.2" height="16.2"/><rect x="1284.7" y="747.5" width="16.2" height="16.2"/><rect x="1286.2" y="741.6" width="16.2" height="16.2"/><rect x="1286.2" y="747.4" width="16.2" height="16.2"/><rect x="1287.7" y="741.5" width="16.2" height="16.2"/><rect x="1287.7" y="747.3" width="16.2" height="16.2"/><rect x="1289.2" y="741.4" width="16.2" height="16.2"/><rect x="1289.2" y="747.2" width="16.2" height="16.2"/><rect x="1290.7" y="741.3" width="16.2" height="16.2"/><rect x="1290.7" y="747.1" width="16.2" height="16.2"/><rect x="1292.2" y="741.2" width="16.2" height="16.2"/><rect x="1292.2" y="747.0" width="16.2" height="16.2"/><rect x="1293.7" y="741.1" width="16.2" height="16.2"/><rect x="1293.7" y="746.9" width="16.2" height="16.2"/><rect x="1295.2" y="741.0" width="16.2" height="16.2"/><rect x="1295.2" y="746.8" width="16.2" height="16.2"/><rect x="1296.7" y="740.9" width="16.2" height="16.2"/><rect x="1296.7" y="746.7" width="16.2" height="16.2"/><rect x="1298.2" y="740.8" width="16.2" height="16.2"/><rect x="1298.2" y="746.6" width="16.2" height="16.2"/><rect x="1299.7" y="740.7" width="16.2" height="16.2"/><rect x="1299.7" y="746.5" width="16.2" height="16.2"/><rect x="1301.2" y="740.6" width="16.2" height="16.2"/><rect x="1301.2" y="746.4" width="16.2" height="16.2"/><rect x="1302.7" y="740.5" width="16.2" height="16.2"/><rect x="1302.7" y="746.3" width="16.2" height="16.2"/><rect x="1304.2" y="740.4" width="16.2" height="16.2"/><rect x="1304.2" y="746.2" width="16.2" height="16.2"/><rect x="1305.7" y="740.3" width="16.2" height="16.2"/><rect x="1305.7" y="746.1" width="16.2" height="16.2"/><rect x="1307.2" y="740.2" width="16.2" height="16.2"/><rect x="1307.2" y="746.0" width="16.2" height="16.2"/><rect x="1308.7" y="740.2" width="16.2" height="16.2"/><rect x="1308.7" y="746.0" width="16.2" height="16.2"/><rect x="1310.2" y="740.1" width="16.2" height="16.2"/><rect x="1310.2" y="745.9" width="16.2" height="16.2"/><rect x="1311.7" y="740.0" width="16.2" height="16.2"/><rect x="1311.7" y="745.8" width="16.2" height="16.2"/><rect x="1313.2" y="739.9" width="16.2" height="16.2"/><rect x="1313.2" y="745.7" width="16.2" height="16.2"/><rect x="1314.7" y="739.8" width="16.2" height="16.2"/><rect x="1314.7" y="745.6" width="16.2" height="16.2"/><rect x="1316.2" y="739.7" width="16.2" height="16.2"/><rect x="1316.2" y="745.5" width="16.2" height="16.2"/><rect x="1317.7" y="739.6" width="16.2" height="16.2"/><rect x="1317.7" y="745.4" width="16.2" height="16.2"/><rect x="1319.2" y="739.5" width="16.2" height="16.2"/><rect x="1319.2" y="745.3" width="16.2" height="16.2"/><rect x="1320.7" y="739.4" width="16.2" height="16.2"/><rect x="1320.7" y="745.2" width="16.2" height="16.2"/><rect x="1322.2" y="739.3" width="16.2" height="16.2"/><rect x="1322.2" y="745.1" width="16.2" height="16.2"/><rect x="1323.7" y="739.2" width="16.2" height="16.2"/><rect x="1323.7" y="745.0" width="16.2" height="16.2"/><rect x="1325.2" y="739.1" width="16.2" height="16.2"/><rect x="1325.2" y="744.9" width="16.2" height="16.2"/><rect x="1326.7" y="739.0" width="16.2" height="16.2"/><rect x="1326.7" y="744.8" width="16.2" height="16.2"/><rect x="1328.2" y="738.9" width="16.2" height="16.2"/><rect x="1328.2" y="744.7" width="16.2" height="16.2"/><rect x="1329.7" y="738.8" width="16.2" height="16.2"/><rect x="1329.7" y="744.6" width="16.2" height="16.2"/><rect x="1331.2" y="738.7" width="16.2" height="16.2"/><rect x="1331.2" y="744.5" width="16.2" height="16.2"/><rect x="1332.7" y="738.7" width="16.2" height="16.2"/><rect x="1332.7" y="744.5" width="16.2" height="16.2"/><rect x="1334.2" y="738.6" width="16.2" height="16.2"/><rect x="1334.2" y="744.4" width="16.2" height="16.2"/><rect x="1335.7" y="738.5" width="16.2" height="16.2"/><rect x="1335.7" y="744.3" width="16.2" height="16.2"/><rect x="1337.2" y="738.4" width="16.2" height="16.2"/><rect x="1337.2" y="744.2" width="16.2" height="16.2"/><rect x="1338.7" y="738.3" width="16.2" height="16.2"/><rect x="1338.7" y="744.1" width="16.2" height="16.2"/><rect x="1340.2" y="738.2" width="16.2" height="16.2"/><rect x="1340.2" y="744.0" width="16.2" height="16.2"/><rect x="1341.7" y="738.1" width="16.2" height="16.2"/><rect x="1341.7" y="743.9" width="16.2" height="16.2"/><rect x="1343.2" y="738.0" width="16.2" height="16.2"/><rect x="1343.2" y="743.8" width="16.2" height="16.2"/><rect x="1344.7" y="737.9" width="16.2" height="16.2"/><rect x="1344.7" y="743.7" width="16.2" height="16.2"/><rect x="1346.2" y="737.8" width="16.2" height="16.2"/><rect x="1346.2" y="743.6" width="16.2" height="16.2"/><rect x="1347.7" y="737.7" width="16.2" height="16.2"/><rect x="1347.7" y="743.5" width="16.2" height="16.2"/><rect x="1349.2" y="737.6" width="16.2" height="16.2"/><rect x="1349.2" y="743.4" width="16.2" height="16.2"/><rect x="1350.7" y="737.5" width="16.2" height="16.2"/><rect x="1350.7" y="743.3" width="16.2" height="16.2"/><rect x="1352.2" y="737.4" width="16.2" height="16.2"/><rect x="1352.2" y="743.2" width="16.2" height="16.2"/><rect x="1353.7" y="737.4" width="16.2" height="16.2"/><rect x="1353.7" y="743.2" width="16.2" height="16.2"/><rect x="1355.2" y="737.3" width="16.2" height="16.2"/><rect x="1355.2" y="743.1" width="16.2" height="16.2"/><rect x="1356.7" y="737.2" width="16.2" height="16.2"/><rect x="1356.7" y="743.0" width="16.2" height="16.2"/><rect x="1358.2" y="737.1" width="16.2" height="16.2"/><rect x="1358.2" y="742.9" width="16.2" height="16.2"/><rect x="1359.7" y="737.0" width="16.2" height="16.2"/><rect x="1359.7" y="742.8" width="16.2" height="16.2"/><rect x="1361.2" y="736.9" width="16.2" height="16.2"/><rect x="1361.2" y="742.7" width="16.2" height="16.2"/><rect x="1362.7" y="736.8" width="16.2" height="16.2"/><rect x="1362.7" y="742.6" width="16.2" height="16.2"/><rect x="1364.2" y="736.7" width="16.2" height="16.2"/><rect x="1364.2" y="742.5" width="16.2" height="16.2"/><rect x="1365.7" y="736.6" width="16.2" height="16.2"/><rect x="1365.7" y="742.4" width="16.2" height="16.2"/><rect x="1367.2" y="736.5" width="16.2" height="16.2"/><rect x="1367.2" y="742.3" width="16.2" height="16.2"/><rect x="1368.7" y="736.4" width="16.2" height="16.2"/><rect x="1368.7" y="742.2" width="16.2" height="16.2"/><rect x="1370.2" y="736.3" width="16.2" height="16.2"/><rect x="1370.2" y="742.1" width="16.2" height="16.2"/><rect x="1371.7" y="736.2" width="16.2" height="16.2"/><rect x="1371.7" y="742.0" width="16.2" height="16.2"/><rect x="1373.2" y="736.1" width="16.2" height="16.2"/><rect x="1373.2" y="741.9" width="16.2" height="16.2"/><rect x="1374.7" y="736.1" width="16.2" height="16.2"/><rect x="1374.7" y="741.9" width="16.2" height="16.2"/><rect x="1376.2" y="736.0" width="16.2" height="16.2"/><rect x="1376.2" y="741.8" width="16.2" height="16.2"/><rect x="1377.7" y="735.9" width="16.2" height="16.2"/><rect x="1377.7" y="741.7" width="16.2" height="16.2"/><rect x="1379.2" y="735.8" width="16.2" height="16.2"/><rect x="1379.2" y="741.6" width="16.2" height="16.2"/><rect x="1380.7" y="735.7" width="16.2" height="16.2"/><rect x="1380.7" y="741.5" width="16.2" height="16.2"/><rect x="1382.2" y="735.6" width="16.2" height="16.2"/><rect x="1382.2" y="741.4" width="16.2" height="16.2"/><rect x="1383.7" y="735.5" width="16.2" height="16.2"/><rect x="1383.7" y="741.3" width="16.2" height="16.2"/><rect x="1385.2" y="735.4" width="16.2" height="16.2"/><rect x="1385.2" y="741.2" width="16.2" height="16.2"/><rect x="1386.7" y="735.3" width="16.2" height="16.2"/><rect x="1386.7" y="741.1" width="16.2" height="16.2"/><rect x="1388.2" y="735.2" width="16.2" height="16.2"/><rect x="1388.2" y="741.0" width="16.2" height="16.2"/><rect x="1389.7" y="735.1" width="16.2" height="16.2"/><rect x="1389.7" y="740.9" width="16.2" height="16.2"/><rect x="1391.2" y="735.0" width="16.2" height="16.2"/><rect x="1391.2" y="740.8" width="16.2" height="16.2"/><rect x="1392.7" y="735.0" width="16.2" height="16.2"/><rect x="1392.7" y="740.8" width="16.2" height="16.2"/><rect x="1394.2" y="734.9" width="16.2" height="16.2"/><rect x="1394.2" y="740.7" width="16.2" height="16.2"/><rect x="1395.7" y="734.8" width="16.2" height="16.2"/><rect x="1395.7" y="740.6" width="16.2" height="16.2"/><rect x="1397.2" y="734.7" width="16.2" height="16.2"/><rect x="1397.2" y="740.5" width="16.2" height="16.2"/><rect x="1398.7" y="734.6" width="16.2" height="16.2"/><rect x="1398.7" y="740.4" width="16.2" height="16.2"/><rect x="1400.2" y="734.6" width="16.2" height="16.2"/><rect x="1400.2" y="740.4" width="16.2" height="16.2"/><rect x="1401.7" y="734.5" width="16.2" height="16.2"/><rect x="1401.7" y="740.3" width="16.2" height="16.2"/><rect x="1403.2" y="734.4" width="16.2" height="16.2"/><rect x="1403.2" y="740.2" width="16.2" height="16.2"/><rect x="1404.7" y="734.3" width="16.2" height="16.2"/><rect x="1404.7" y="740.1" width="16.2" height="16.2"/><rect x="1406.2" y="734.2" width="16.2" height="16.2"/><rect x="1406.2" y="740.0" width="16.2" height="16.2"/><rect x="1407.7" y="734.2" width="16.2" height="16.2"/><rect x="1407.7" y="740.0" width="16.2" height="16.2"/><rect x="1409.2" y="734.1" width="16.2" height="16.2"/><rect x="1409.2" y="739.9" width="16.2" height="16.2"/><rect x="1410.7" y="734.0" width="16.2" height="16.2"/><rect x="1410.7" y="739.8" width="16.2" height="16.2"/><rect x="1412.2" y="733.9" width="16.2" height="16.2"/><rect x="1412.2" y="739.7" width="16.2" height="16.2"/><rect x="1413.7" y="733.8" width="16.2" height="16.2"/><rect x="1413.7" y="739.6" width="16.2" height="16.2"/><rect x="1415.2" y="733.8" width="16.2" height="16.2"/><rect x="1415.2" y="739.6" width="16.2" height="16.2"/><rect x="1416.7" y="733.7" width="16.2" height="16.2"/><rect x="1416.7" y="739.5" width="16.2" height="16.2"/><rect x="1418.2" y="733.6" width="16.2" height="16.2"/><rect x="1418.2" y="739.4" width="16.2" height="16.2"/><rect x="1419.7" y="733.5" width="16.2" height="16.2"/><rect x="1419.7" y="739.3" width="16.2" height="16.2"/><rect x="1421.2" y="733.4" width="16.2" height="16.2"/><rect x="1421.2" y="739.2" width="16.2" height="16.2"/><rect x="1422.7" y="733.4" width="16.2" height="16.2"/><rect x="1422.7" y="739.2" width="16.2" height="16.2"/><rect x="1424.2" y="733.3" width="16.2" height="16.2"/><rect x="1424.2" y="739.1" width="16.2" height="16.2"/><rect x="1425.7" y="733.2" width="16.2" height="16.2"/><rect x="1425.7" y="739.0" width="16.2" height="16.2"/><rect x="1427.2" y="733.1" width="16.2" height="16.2"/><rect x="1427.2" y="738.9" width="16.2" height="16.2"/><rect x="1428.7" y="733.0" width="16.2" height="16.2"/><rect x="1428.7" y="738.8" width="16.2" height="16.2"/><rect x="1430.2" y="733.0" width="16.2" height="16.2"/><rect x="1430.2" y="738.8" width="16.2" height="16.2"/><rect x="1431.7" y="732.9" width="16.2" height="16.2"/><rect x="1431.7" y="738.7" width="16.2" height="16.2"/><rect x="1433.2" y="732.8" width="16.2" height="16.2"/><rect x="1433.2" y="738.6" width="16.2" height="16.2"/><rect x="1434.7" y="732.7" width="16.2" height="16.2"/><rect x="1434.7" y="738.5" width="16.2" height="16.2"/><rect x="1436.2" y="732.6" width="16.2" height="16.2"/><rect x="1436.2" y="738.4" width="16.2" height="16.2"/><rect x="1437.7" y="732.6" width="16.2" height="16.2"/><rect x="1437.7" y="738.4" width="16.2" height="16.2"/><rect x="1439.2" y="732.5" width="16.2" height="16.2"/><rect x="1439.2" y="738.3" width="16.2" height="16.2"/><rect x="1440.7" y="732.4" width="16.2" height="16.2"/><rect x="1440.7" y="738.2" width="16.2" height="16.2"/><rect x="1132.8" y="709.7" width="16.2" height="16.2"/><rect x="1150.9" y="729.3" width="16.2" height="16.2"/><rect x="1169.3" y="728.9" width="16.2" height="16.2"/><rect x="1187.6" y="730.5" width="16.2" height="16.2"/><rect x="1205.8" y="728.9" width="16.2" height="16.2"/><rect x="1223.8" y="728.6" width="16.2" height="16.2"/><rect x="1242.1" y="724.4" width="16.2" height="16.2"/><rect x="1260.3" y="724.6" width="16.2" height="16.2"/><rect x="1279.0" y="725.0" width="16.2" height="16.2"/><rect x="1297.6" y="723.3" width="16.2" height="16.2"/><rect x="1316.0" y="721.6" width="16.2" height="16.2"/><rect x="1334.4" y="720.3" width="16.2" height="16.2"/><rect x="1352.6" y="719.6" width="16.2" height="16.2"/><rect x="1371.0" y="718.3" width="16.2" height="16.2"/><rect x="1389.5" y="715.4" width="16.2" height="16.2"/><rect x="1409.3" y="715.4" width="16.2" height="16.2"/><rect x="1427.5" y="713.4" width="16.2" height="16.2"/><rect x="1132.9" y="548.4" width="16.2" height="16.2"/><rect x="1192.9" y="748.4" width="16.2" height="16.2"/><rect x="1192.9" y="757.9" width="16.2" height="16.2"/></g>
</g>
<path d="M150.10 13.1v16.2M150.10 520.1v-16.2M299.27 13.1v16.2M299.27 520.1v-16.2M448.45 13.1v16.2M448.45 520.1v-16.2M597.62 13.1v16.2M597.62 520.1v-16.2M746.80 13.1v16.2M746.80 520.1v-16.2M115.2 462.62h16.2M895.7 462.62h-16.2M115.2 404.95h16.2M895.7 404.95h-16.2M115.2 347.27h16.2M895.7 347.27h-16.2M115.2 289.60h16.2M895.7 289.60h-16.2M115.2 231.92h16.2M895.7 231.92h-16.2M115.2 174.25h16.2M895.7 174.25h-16.2M115.2 116.57h16.2M895.7 116.57h-16.2M115.2 58.90h16.2M895.7 58.90h-16.2M115.2 520.10h16.2M895.7 520.10h-16.2M150.10 520.1v16.2M150.10 1027.6v-16.2M299.27 520.1v16.2M299.27 1027.6v-16.2M448.45 520.1v16.2M448.45 1027.6v-16.2M597.62 520.1v16.2M597.62 1027.6v-16.2M746.80 520.1v16.2M746.80 1027.6v-16.2M115.2 1027.60h16.2M895.7 1027.60h-16.2M115.2 943.04h16.2M895.7 943.04h-16.2M115.2 858.48h16.2M895.7 858.48h-16.2M115.2 773.92h16.2M895.7 773.92h-16.2M115.2 689.36h16.2M895.7 689.36h-16.2M115.2 604.80h16.2M895.7 604.80h-16.2M1070.10 13.1v16.2M1070.10 520.1v-16.2M1219.28 13.1v16.2M1219.28 520.1v-16.2M1368.45 13.1v16.2M1368.45 520.1v-16.2M1517.62 13.1v16.2M1517.62 520.1v-16.2M1666.80 13.1v16.2M1666.80 520.1v-16.2M1035.2 456.73h16.2M1815.7 456.73h-16.2M1035.2 393.35h16.2M1815.7 393.35h-16.2M1035.2 329.98h16.2M1815.7 329.98h-16.2M1035.2 266.60h16.2M1815.7 266.60h-16.2M1035.2 203.23h16.2M1815.7 203.23h-16.2M1035.2 139.85h16.2M1815.7 139.85h-16.2M1035.2 76.48h16.2M1815.7 76.48h-16.2M1035.2 13.10h16.2M1815.7 13.10h-16.2M1035.2 520.10h16.2M1815.7 520.10h-16.2M1070.10 520.1v16.2M1070.10 1027.6v-16.2M1219.28 520.1v16.2M1219.28 1027.6v-16.2M1368.45 520.1v16.2M1368.45 1027.6v-16.2M1517.62 520.1v16.2M1517.62 1027.6v-16.2M1666.80 520.1v16.2M1666.80 1027.6v-16.2M1035.2 1027.60h16.2M1815.7 1027.60h-16.2M1035.2 964.16h16.2M1815.7 964.16h-16.2M1035.2 900.72h16.2M1815.7 900.72h-16.2M1035.2 837.29h16.2M1815.7 837.29h-16.2M1035.2 773.85h16.2M1815.7 773.85h-16.2M1035.2 710.41h16.2M1815.7 710.41h-16.2M1035.2 646.97h16.2M1815.7 646.97h-16.2M1035.2 583.54h16.2M1815.7 583.54h-16.2" stroke="#161616" stroke-width="1.7" fill="none"/>
<path d="M115.2 13.1H895.7V1027.6H115.2Z M115.2 520.1H895.7" stroke="#161616" stroke-width="1.95" fill="none" stroke-linejoin="miter"/>
<path d="M1035.2 13.1H1815.7V1027.6H1035.2Z M1035.2 520.1H1815.7" stroke="#161616" stroke-width="1.95" fill="none" stroke-linejoin="miter"/>
<g font-family="'DejaVu Sans','Liberation Sans',sans-serif" font-size="28.5" fill="#000" style="letter-spacing:-0.3px"><text x="106.7" y="473.8" text-anchor="end">25</text><text x="106.7" y="416.1" text-anchor="end">50</text><text x="106.7" y="358.5" text-anchor="end">75</text><text x="106.7" y="300.8" text-anchor="end">100</text><text x="106.7" y="243.1" text-anchor="end">125</text><text x="106.7" y="185.4" text-anchor="end">150</text><text x="106.7" y="127.8" text-anchor="end">175</text><text x="106.7" y="70.1" text-anchor="end">200</text><text x="150.1" y="1057.5" text-anchor="middle">0.0</text><text x="299.3" y="1057.5" text-anchor="middle">0.5</text><text x="448.5" y="1057.5" text-anchor="middle">1.0</text><text x="597.6" y="1057.5" text-anchor="middle">1.5</text><text x="746.8" y="1057.5" text-anchor="middle">2.0</text><text x="106.7" y="1038.8" text-anchor="end">0.00</text><text x="106.7" y="954.2" text-anchor="end">0.02</text><text x="106.7" y="869.7" text-anchor="end">0.04</text><text x="106.7" y="785.1" text-anchor="end">0.06</text><text x="106.7" y="700.6" text-anchor="end">0.08</text><text x="106.7" y="616.0" text-anchor="end">0.10</text><text x="1026.7" y="467.9" text-anchor="end">0.75</text><text x="1026.7" y="404.6" text-anchor="end">0.80</text><text x="1026.7" y="341.2" text-anchor="end">0.85</text><text x="1026.7" y="277.8" text-anchor="end">0.90</text><text x="1026.7" y="214.4" text-anchor="end">0.95</text><text x="1026.7" y="151.1" text-anchor="end">1.00</text><text x="1026.7" y="87.7" text-anchor="end">1.05</text><text x="1026.7" y="24.3" text-anchor="end">1.10</text><text x="1070.1" y="1057.5" text-anchor="middle">0.0</text><text x="1219.3" y="1057.5" text-anchor="middle">0.5</text><text x="1368.5" y="1057.5" text-anchor="middle">1.0</text><text x="1517.6" y="1057.5" text-anchor="middle">1.5</text><text x="1666.8" y="1057.5" text-anchor="middle">2.0</text><text x="1026.7" y="1038.8" text-anchor="end">0.00</text><text x="1026.7" y="975.4" text-anchor="end">0.25</text><text x="1026.7" y="911.9" text-anchor="end">0.50</text><text x="1026.7" y="848.5" text-anchor="end">0.75</text><text x="1026.7" y="785.0" text-anchor="end">1.00</text><text x="1026.7" y="721.6" text-anchor="end">1.25</text><text x="1026.7" y="658.2" text-anchor="end">1.50</text><text x="1026.7" y="594.7" text-anchor="end">1.75</text></g>
<g font-family="'DejaVu Sans','Liberation Sans',sans-serif" font-size="32.8" fill="#000" text-anchor="middle">
<text transform="translate(505.5 1096.7) scale(1 0.985)">Time (years)</text>
<text transform="translate(1425.5 1096.7) scale(1 0.985)">Time (years)</text>
<text transform="translate(37.4 266.7) rotate(-90) scale(1 1.005)">Capacity (mAh)</text>
<text transform="translate(28.1 774) rotate(-90) scale(1 1.005)">ΔV (V)</text>
<text transform="translate(948.4 266) rotate(-90) scale(1 1.005)">Normalized Capacity (mAh)</text>
<text transform="translate(948.4 774) rotate(-90) scale(1 1.005)">Normalized ΔV (V)</text>
</g>
<g font-family="'Liberation Sans','DejaVu Sans',sans-serif" font-weight="700" fill="#000">
<text transform="translate(127.15 93.9) scale(0.94 1)" font-family="'DejaVu Sans Condensed','DejaVu Sans',sans-serif" font-size="51.2">a</text><text transform="translate(159.50 92.90) scale(0.820 1)" font-size="55.8">)</text>
<text transform="translate(1062.20 93.90) scale(0.967 1)" font-size="55.8">b</text><text transform="translate(1098.00 92.90) scale(0.840 1)" font-size="55.8">)</text>
</g>
<rect x="576.0" y="25" width="308" height="75.0" rx="4.5" ry="4.5" fill="#fff" fill-opacity="0.8" stroke="#ccc" stroke-opacity="0.8" stroke-width="1.9"/>
<circle cx="608.9" cy="45.7" r="8.2" fill="#ff0000"/>
<rect x="600.8" y="71.8" width="16.2" height="16.2" fill="#0000ff"/>
<g font-family="'DejaVu Sans','Liberation Sans',sans-serif" font-size="23.4" fill="#000"><text x="650.5" y="51.6">100% DoD (66826)</text><text x="650.5" y="85.9">25% DoD (66844)</text></g>
<rect x="1496.0" y="25" width="308" height="75.0" rx="4.5" ry="4.5" fill="#fff" fill-opacity="0.8" stroke="#ccc" stroke-opacity="0.8" stroke-width="1.9"/>
<circle cx="1528.9" cy="45.7" r="8.2" fill="#ff0000"/>
<rect x="1520.8" y="71.8" width="16.2" height="16.2" fill="#0000ff"/>
<g font-family="'DejaVu Sans','Liberation Sans',sans-serif" font-size="23.4" fill="#000"><text x="1570.5" y="51.6">100% DoD (66826)</text><text x="1570.5" y="85.9">25% DoD (66844)</text></g>
</svg>
</body></html>
